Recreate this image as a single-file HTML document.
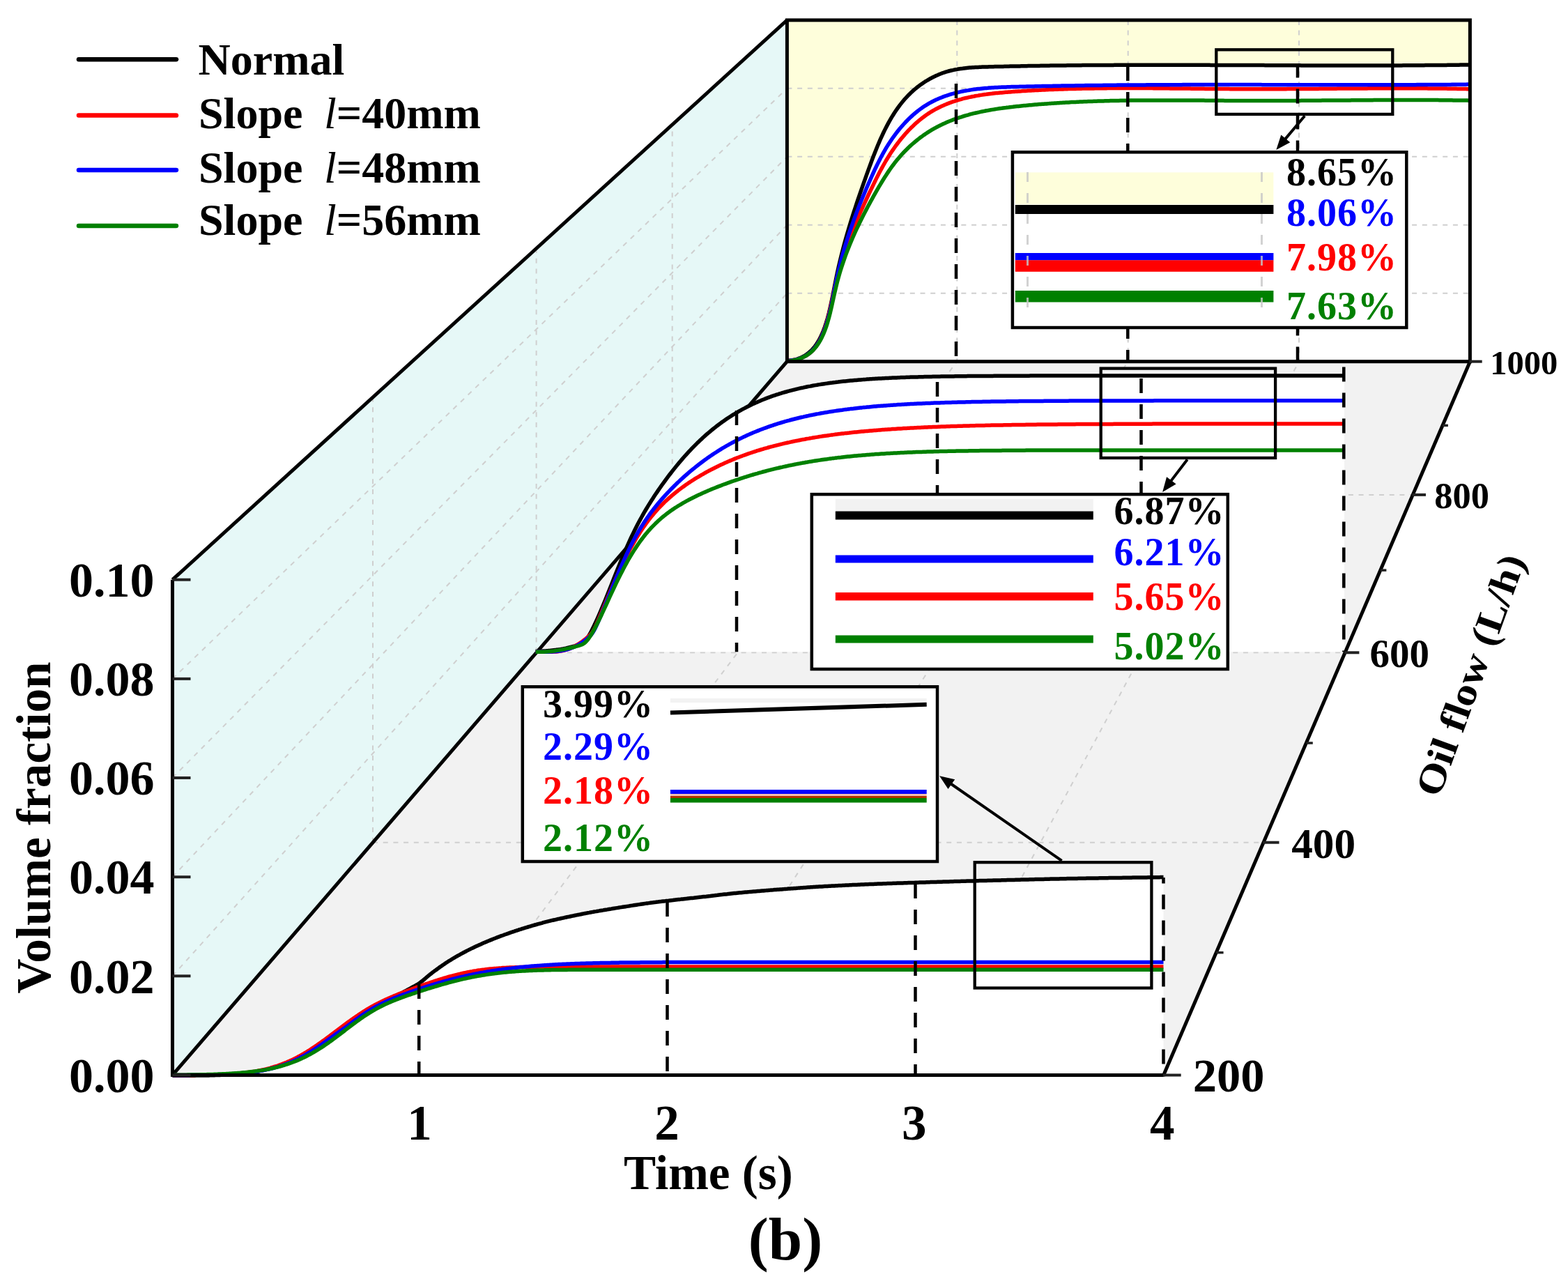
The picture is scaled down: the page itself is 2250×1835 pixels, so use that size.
<!DOCTYPE html>
<html><head><meta charset="utf-8"><title>Volume fraction vs time</title>
<style>html,body{margin:0;padding:0;background:#fff;} svg{display:block;}</style></head>
<body><svg xmlns="http://www.w3.org/2000/svg" width="2250" height="1835" viewBox="0 0 2250 1835" xml:space="preserve">
<rect x="0" y="0" width="2250" height="1835" fill="#fff"/>
<polygon points="247.5,1542.5 247.5,831.7 1129.4,28.9 1129.4,518.7" fill="#e6f8f7"/>
<polygon points="247.5,1542.5 1669.7,1542.5 2109.4,518.7 1129.4,518.7" fill="#f2f2f2"/>
<rect x="1129.4" y="28.9" width="980.0" height="489.8" fill="#fefedb"/>
<line x1="535.0" y1="1208.7" x2="535.0" y2="570.0" stroke="#cfcfcf" stroke-width="2" stroke-dasharray="7 7.7"/>
<line x1="769.6" y1="936.3" x2="769.6" y2="356.4" stroke="#cfcfcf" stroke-width="2" stroke-dasharray="7 7.7"/>
<line x1="964.7" y1="709.9" x2="964.7" y2="178.8" stroke="#cfcfcf" stroke-width="2" stroke-dasharray="7 7.7"/>
<line x1="247.5" y1="1400.3" x2="1129.4" y2="420.7" stroke="#cfcfcf" stroke-width="2" stroke-dasharray="7 7.7"/>
<line x1="247.5" y1="1258.2" x2="1129.4" y2="322.7" stroke="#cfcfcf" stroke-width="2" stroke-dasharray="7 7.7"/>
<line x1="247.5" y1="1116.0" x2="1129.4" y2="224.8" stroke="#cfcfcf" stroke-width="2" stroke-dasharray="7 7.7"/>
<line x1="247.5" y1="973.9" x2="1129.4" y2="126.8" stroke="#cfcfcf" stroke-width="2" stroke-dasharray="7 7.7"/>
<line x1="535.0" y1="1208.7" x2="1813.1" y2="1208.7" stroke="#cfcfcf" stroke-width="2" stroke-dasharray="7 7.7"/>
<line x1="769.6" y1="936.3" x2="1930.0" y2="936.3" stroke="#cfcfcf" stroke-width="2" stroke-dasharray="7 7.7"/>
<line x1="964.7" y1="709.9" x2="2027.3" y2="709.9" stroke="#cfcfcf" stroke-width="2" stroke-dasharray="7 7.7"/>
<line x1="601.4" y1="1542.5" x2="1373.3" y2="518.7" stroke="#cfcfcf" stroke-width="2" stroke-dasharray="7 7.7"/>
<line x1="957.5" y1="1542.5" x2="1618.7" y2="518.7" stroke="#cfcfcf" stroke-width="2" stroke-dasharray="7 7.7"/>
<line x1="1313.6" y1="1542.5" x2="1864.0" y2="518.7" stroke="#cfcfcf" stroke-width="2" stroke-dasharray="7 7.7"/>
<line x1="247.5" y1="831.7" x2="1129.4" y2="28.9" stroke="#000" stroke-width="5" />
<line x1="247.5" y1="1542.5" x2="1129.4" y2="518.7" stroke="#000" stroke-width="5" />
<polygon points="1129.4,518.7 1129.4,517.1 1131.4,517.1 1133.4,517.0 1135.4,516.9 1137.4,516.7 1139.4,516.3 1141.4,515.8 1143.4,515.3 1145.4,514.6 1147.4,513.8 1149.4,513.0 1151.4,512.1 1153.4,511.0 1155.4,509.8 1157.4,508.5 1159.4,507.0 1161.4,505.4 1163.4,503.6 1165.4,501.6 1167.4,499.3 1169.4,496.9 1171.4,494.1 1173.4,491.0 1175.4,487.6 1177.4,483.8 1179.4,479.5 1181.4,474.7 1183.4,469.4 1185.4,463.4 1187.4,456.7 1189.4,449.1 1191.4,440.7 1193.4,431.4 1195.4,421.5 1197.4,411.2 1199.4,401.2 1201.4,391.6 1203.4,382.6 1205.4,374.0 1207.4,365.9 1209.4,358.1 1211.4,350.5 1213.4,343.3 1215.4,336.3 1217.4,329.4 1219.4,322.8 1221.4,316.2 1223.4,309.9 1225.4,303.6 1227.4,297.5 1229.4,291.4 1231.4,285.5 1233.4,279.6 1235.4,273.8 1237.4,268.1 1239.4,262.4 1241.4,256.8 1243.4,251.2 1245.4,245.6 1247.4,240.1 1249.4,234.7 1251.4,229.3 1253.4,224.0 1255.4,218.9 1257.4,213.9 1259.4,209.0 1261.4,204.3 1263.4,199.7 1265.4,195.3 1267.4,191.0 1269.4,186.9 1271.4,182.9 1273.4,179.1 1275.4,175.4 1277.4,171.9 1279.4,168.4 1281.4,165.2 1283.4,162.0 1285.4,159.0 1287.4,156.1 1289.4,153.3 1291.4,150.6 1293.4,148.1 1295.4,145.6 1297.4,143.2 1299.4,141.0 1301.4,138.8 1303.4,136.7 1305.4,134.7 1307.4,132.8 1309.4,130.9 1311.4,129.2 1313.4,127.5 1315.4,125.8 1317.4,124.3 1319.4,122.7 1321.4,121.3 1323.4,119.9 1325.4,118.5 1327.4,117.2 1329.4,116.0 1331.4,114.8 1333.4,113.6 1335.4,112.5 1337.4,111.5 1339.4,110.4 1341.4,109.5 1343.4,108.5 1345.4,107.7 1347.4,106.8 1349.4,106.0 1351.4,105.2 1353.4,104.5 1355.4,103.8 1357.4,103.2 1359.4,102.6 1361.4,102.0 1363.4,101.5 1365.4,101.0 1367.4,100.6 1369.4,100.1 1371.4,99.7 1373.4,99.4 1375.4,99.0 1377.4,98.7 1379.4,98.4 1381.4,98.2 1383.4,97.9 1385.4,97.7 1387.4,97.5 1389.4,97.3 1391.4,97.1 1393.4,97.0 1395.4,96.8 1397.4,96.7 1399.4,96.6 1401.4,96.5 1403.4,96.4 1405.4,96.3 1407.4,96.2 1409.4,96.1 1411.4,96.1 1413.4,96.0 1415.4,96.0 1417.4,95.9 1419.4,95.8 1421.4,95.8 1423.4,95.7 1425.4,95.7 1427.4,95.6 1429.4,95.6 1431.4,95.5 1433.4,95.5 1435.4,95.5 1437.4,95.4 1439.4,95.4 1441.4,95.3 1443.4,95.3 1445.4,95.2 1447.4,95.2 1449.4,95.1 1451.4,95.1 1453.4,95.1 1455.4,95.0 1457.4,95.0 1459.4,94.9 1461.4,94.9 1463.4,94.9 1465.4,94.8 1467.4,94.8 1469.4,94.7 1471.4,94.7 1473.4,94.7 1475.4,94.6 1477.4,94.6 1479.4,94.6 1481.4,94.5 1483.4,94.5 1485.4,94.5 1487.4,94.4 1489.4,94.4 1491.4,94.4 1493.4,94.3 1495.4,94.3 1497.4,94.3 1499.4,94.3 1501.4,94.2 1503.4,94.2 1505.4,94.2 1507.4,94.1 1509.4,94.1 1511.4,94.1 1513.4,94.1 1515.4,94.0 1517.4,94.0 1519.4,94.0 1521.4,94.0 1523.4,93.9 1525.4,93.9 1527.4,93.9 1529.4,93.9 1531.4,93.8 1533.4,93.8 1535.4,93.8 1537.4,93.8 1539.4,93.8 1541.4,93.7 1543.4,93.7 1545.4,93.7 1547.4,93.7 1549.4,93.7 1551.4,93.7 1553.4,93.6 1555.4,93.6 1557.4,93.6 1559.4,93.6 1561.4,93.6 1563.4,93.6 1565.4,93.5 1567.4,93.5 1569.4,93.5 1571.4,93.5 1573.4,93.5 1575.4,93.5 1577.4,93.5 1579.4,93.4 1581.4,93.4 1583.4,93.4 1585.4,93.4 1587.4,93.4 1589.4,93.4 1591.4,93.4 1593.4,93.4 1595.4,93.4 1597.4,93.4 1599.4,93.3 1601.4,93.3 1603.4,93.3 1605.4,93.3 1607.4,93.3 1609.4,93.3 1611.4,93.3 1613.4,93.3 1615.4,93.3 1617.4,93.3 1619.4,93.3 1621.4,93.3 1623.4,93.3 1625.4,93.3 1627.4,93.3 1629.4,93.2 1631.4,93.2 1633.4,93.2 1635.4,93.2 1637.4,93.2 1639.4,93.2 1641.4,93.2 1643.4,93.2 1645.4,93.2 1647.4,93.2 1649.4,93.2 1651.4,93.2 1653.4,93.2 1655.4,93.2 1657.4,93.2 1659.4,93.2 1661.4,93.2 1663.4,93.2 1665.4,93.2 1667.4,93.2 1669.4,93.2 1671.4,93.2 1673.4,93.2 1675.4,93.2 1677.4,93.2 1679.4,93.2 1681.4,93.2 1683.4,93.2 1685.4,93.2 1687.4,93.2 1689.4,93.2 1691.4,93.2 1693.4,93.2 1695.4,93.2 1697.4,93.3 1699.4,93.3 1701.4,93.3 1703.4,93.3 1705.4,93.3 1707.4,93.3 1709.4,93.3 1711.4,93.3 1713.4,93.3 1715.4,93.3 1717.4,93.3 1719.4,93.3 1721.4,93.3 1723.4,93.3 1725.4,93.3 1727.4,93.3 1729.4,93.3 1731.4,93.3 1733.4,93.3 1735.4,93.3 1737.4,93.4 1739.4,93.4 1741.4,93.4 1743.4,93.4 1745.4,93.4 1747.4,93.4 1749.4,93.4 1751.4,93.4 1753.4,93.4 1755.4,93.4 1757.4,93.4 1759.4,93.4 1761.4,93.4 1763.4,93.4 1765.4,93.5 1767.4,93.5 1769.4,93.5 1771.4,93.5 1773.4,93.5 1775.4,93.5 1777.4,93.5 1779.4,93.5 1781.4,93.5 1783.4,93.5 1785.4,93.5 1787.4,93.5 1789.4,93.5 1791.4,93.6 1793.4,93.6 1795.4,93.6 1797.4,93.6 1799.4,93.6 1801.4,93.6 1803.4,93.6 1805.4,93.6 1807.4,93.6 1809.4,93.6 1811.4,93.6 1813.4,93.6 1815.4,93.7 1817.4,93.7 1819.4,93.7 1821.4,93.7 1823.4,93.7 1825.4,93.7 1827.4,93.7 1829.4,93.7 1831.4,93.7 1833.4,93.7 1835.4,93.7 1837.4,93.7 1839.4,93.8 1841.4,93.8 1843.4,93.8 1845.4,93.8 1847.4,93.8 1849.4,93.8 1851.4,93.8 1853.4,93.8 1855.4,93.8 1857.4,93.8 1859.4,93.8 1861.4,93.8 1863.4,93.8 1865.4,93.8 1867.4,93.9 1869.4,93.9 1871.4,93.9 1873.4,93.9 1875.4,93.9 1877.4,93.9 1879.4,93.9 1881.4,93.9 1883.4,93.9 1885.4,93.9 1887.4,93.9 1889.4,93.9 1891.4,93.9 1893.4,93.9 1895.4,93.9 1897.4,93.9 1899.4,93.9 1901.4,93.9 1903.4,93.9 1905.4,94.0 1907.4,94.0 1909.4,94.0 1911.4,94.0 1913.4,94.0 1915.4,94.0 1917.4,94.0 1919.4,94.0 1921.4,94.0 1923.4,94.0 1925.4,94.0 1927.4,94.0 1929.4,94.0 1931.4,94.0 1933.4,94.0 1935.4,94.0 1937.4,94.0 1939.4,94.0 1941.4,94.0 1943.4,94.0 1945.4,94.0 1947.4,94.0 1949.4,94.0 1951.4,94.0 1953.4,94.0 1955.4,94.0 1957.4,94.0 1959.4,94.0 1961.4,94.0 1963.4,94.0 1965.4,94.0 1967.4,94.0 1969.4,94.0 1971.4,94.0 1973.4,94.0 1975.4,94.0 1977.4,94.0 1979.4,94.0 1981.4,94.0 1983.4,94.0 1985.4,93.9 1987.4,93.9 1989.4,93.9 1991.4,93.9 1993.4,93.9 1995.4,93.9 1997.4,93.9 1999.4,93.9 2001.4,93.9 2003.4,93.9 2005.4,93.9 2007.4,93.9 2009.4,93.9 2011.4,93.9 2013.4,93.8 2015.4,93.8 2017.4,93.8 2019.4,93.8 2021.4,93.8 2023.4,93.8 2025.4,93.8 2027.4,93.8 2029.4,93.8 2031.4,93.7 2033.4,93.7 2035.4,93.7 2037.4,93.7 2039.4,93.7 2041.4,93.7 2043.4,93.7 2045.4,93.6 2047.4,93.6 2049.4,93.6 2051.4,93.6 2053.4,93.6 2055.4,93.6 2057.4,93.5 2059.4,93.5 2061.4,93.5 2063.4,93.5 2065.4,93.5 2067.4,93.5 2069.4,93.4 2071.4,93.4 2073.4,93.4 2075.4,93.4 2077.4,93.3 2079.4,93.3 2081.4,93.3 2083.4,93.3 2085.4,93.3 2087.4,93.2 2089.4,93.2 2091.4,93.2 2093.4,93.2 2095.4,93.1 2097.4,93.1 2099.4,93.1 2101.4,93.0 2103.4,93.0 2105.4,93.0 2107.4,93.0 2109.4,92.9 2109.4,92.9 2109.4,518.7" fill="#fff"/>
<line x1="1129.4" y1="420.7" x2="2109.4" y2="420.7" stroke="#cfcfcf" stroke-width="2" stroke-dasharray="7 7.7"/>
<line x1="1129.4" y1="322.7" x2="2109.4" y2="322.7" stroke="#cfcfcf" stroke-width="2" stroke-dasharray="7 7.7"/>
<line x1="1129.4" y1="224.8" x2="2109.4" y2="224.8" stroke="#cfcfcf" stroke-width="2" stroke-dasharray="7 7.7"/>
<line x1="1129.4" y1="126.8" x2="2109.4" y2="126.8" stroke="#cfcfcf" stroke-width="2" stroke-dasharray="7 7.7"/>
<line x1="1373.3" y1="28.9" x2="1373.3" y2="518.7" stroke="#cfcfcf" stroke-width="2" stroke-dasharray="7 7.7"/>
<line x1="1618.7" y1="28.9" x2="1618.7" y2="518.7" stroke="#cfcfcf" stroke-width="2" stroke-dasharray="7 7.7"/>
<line x1="1864.0" y1="28.9" x2="1864.0" y2="518.7" stroke="#cfcfcf" stroke-width="2" stroke-dasharray="7 7.7"/>
<polyline points="1129.4,517.8 1131.4,517.6 1133.4,517.4 1135.4,517.1 1137.4,516.7 1139.4,516.3 1141.4,515.8 1143.4,515.3 1145.4,514.6 1147.4,513.8 1149.4,513.0 1151.4,512.1 1153.4,511.0 1155.4,509.8 1157.4,508.5 1159.4,507.0 1161.4,505.4 1163.4,503.6 1165.4,501.6 1167.4,499.3 1169.4,496.9 1171.4,494.1 1173.4,491.0 1175.4,487.6 1177.4,483.8 1179.4,479.5 1181.4,474.7 1183.4,469.4 1185.4,463.4 1187.4,456.7 1189.4,449.1 1191.4,440.7 1193.4,431.4 1195.4,421.5 1197.4,411.2 1199.4,401.2 1201.4,391.6 1203.4,382.6 1205.4,374.0 1207.4,365.9 1209.4,358.1 1211.4,350.5 1213.4,343.3 1215.4,336.3 1217.4,329.4 1219.4,322.8 1221.4,316.2 1223.4,309.9 1225.4,303.6 1227.4,297.5 1229.4,291.4 1231.4,285.5 1233.4,279.6 1235.4,273.8 1237.4,268.1 1239.4,262.4 1241.4,256.8 1243.4,251.2 1245.4,245.6 1247.4,240.1 1249.4,234.7 1251.4,229.3 1253.4,224.0 1255.4,218.9 1257.4,213.9 1259.4,209.0 1261.4,204.3 1263.4,199.7 1265.4,195.3 1267.4,191.0 1269.4,186.9 1271.4,182.9 1273.4,179.1 1275.4,175.4 1277.4,171.9 1279.4,168.4 1281.4,165.2 1283.4,162.0 1285.4,159.0 1287.4,156.1 1289.4,153.3 1291.4,150.6 1293.4,148.1 1295.4,145.6 1297.4,143.2 1299.4,141.0 1301.4,138.8 1303.4,136.7 1305.4,134.7 1307.4,132.8 1309.4,130.9 1311.4,129.2 1313.4,127.5 1315.4,125.8 1317.4,124.3 1319.4,122.7 1321.4,121.3 1323.4,119.9 1325.4,118.5 1327.4,117.2 1329.4,116.0 1331.4,114.8 1333.4,113.6 1335.4,112.5 1337.4,111.5 1339.4,110.4 1341.4,109.5 1343.4,108.5 1345.4,107.7 1347.4,106.8 1349.4,106.0 1351.4,105.2 1353.4,104.5 1355.4,103.8 1357.4,103.2 1359.4,102.6 1361.4,102.0 1363.4,101.5 1365.4,101.0 1367.4,100.6 1369.4,100.1 1371.4,99.7 1373.4,99.4 1375.4,99.0 1377.4,98.7 1379.4,98.4 1381.4,98.2 1383.4,97.9 1385.4,97.7 1387.4,97.5 1389.4,97.3 1391.4,97.1 1393.4,97.0 1395.4,96.8 1397.4,96.7 1399.4,96.6 1401.4,96.5 1403.4,96.4 1405.4,96.3 1407.4,96.2 1409.4,96.1 1411.4,96.1 1413.4,96.0 1415.4,96.0 1417.4,95.9 1419.4,95.8 1421.4,95.8 1423.4,95.7 1425.4,95.7 1427.4,95.6 1429.4,95.6 1431.4,95.5 1433.4,95.5 1435.4,95.5 1437.4,95.4 1439.4,95.4 1441.4,95.3 1443.4,95.3 1445.4,95.2 1447.4,95.2 1449.4,95.1 1451.4,95.1 1453.4,95.1 1455.4,95.0 1457.4,95.0 1459.4,94.9 1461.4,94.9 1463.4,94.9 1465.4,94.8 1467.4,94.8 1469.4,94.7 1471.4,94.7 1473.4,94.7 1475.4,94.6 1477.4,94.6 1479.4,94.6 1481.4,94.5 1483.4,94.5 1485.4,94.5 1487.4,94.4 1489.4,94.4 1491.4,94.4 1493.4,94.3 1495.4,94.3 1497.4,94.3 1499.4,94.3 1501.4,94.2 1503.4,94.2 1505.4,94.2 1507.4,94.1 1509.4,94.1 1511.4,94.1 1513.4,94.1 1515.4,94.0 1517.4,94.0 1519.4,94.0 1521.4,94.0 1523.4,93.9 1525.4,93.9 1527.4,93.9 1529.4,93.9 1531.4,93.8 1533.4,93.8 1535.4,93.8 1537.4,93.8 1539.4,93.8 1541.4,93.7 1543.4,93.7 1545.4,93.7 1547.4,93.7 1549.4,93.7 1551.4,93.7 1553.4,93.6 1555.4,93.6 1557.4,93.6 1559.4,93.6 1561.4,93.6 1563.4,93.6 1565.4,93.5 1567.4,93.5 1569.4,93.5 1571.4,93.5 1573.4,93.5 1575.4,93.5 1577.4,93.5 1579.4,93.4 1581.4,93.4 1583.4,93.4 1585.4,93.4 1587.4,93.4 1589.4,93.4 1591.4,93.4 1593.4,93.4 1595.4,93.4 1597.4,93.4 1599.4,93.3 1601.4,93.3 1603.4,93.3 1605.4,93.3 1607.4,93.3 1609.4,93.3 1611.4,93.3 1613.4,93.3 1615.4,93.3 1617.4,93.3 1619.4,93.3 1621.4,93.3 1623.4,93.3 1625.4,93.3 1627.4,93.3 1629.4,93.2 1631.4,93.2 1633.4,93.2 1635.4,93.2 1637.4,93.2 1639.4,93.2 1641.4,93.2 1643.4,93.2 1645.4,93.2 1647.4,93.2 1649.4,93.2 1651.4,93.2 1653.4,93.2 1655.4,93.2 1657.4,93.2 1659.4,93.2 1661.4,93.2 1663.4,93.2 1665.4,93.2 1667.4,93.2 1669.4,93.2 1671.4,93.2 1673.4,93.2 1675.4,93.2 1677.4,93.2 1679.4,93.2 1681.4,93.2 1683.4,93.2 1685.4,93.2 1687.4,93.2 1689.4,93.2 1691.4,93.2 1693.4,93.2 1695.4,93.2 1697.4,93.3 1699.4,93.3 1701.4,93.3 1703.4,93.3 1705.4,93.3 1707.4,93.3 1709.4,93.3 1711.4,93.3 1713.4,93.3 1715.4,93.3 1717.4,93.3 1719.4,93.3 1721.4,93.3 1723.4,93.3 1725.4,93.3 1727.4,93.3 1729.4,93.3 1731.4,93.3 1733.4,93.3 1735.4,93.3 1737.4,93.4 1739.4,93.4 1741.4,93.4 1743.4,93.4 1745.4,93.4 1747.4,93.4 1749.4,93.4 1751.4,93.4 1753.4,93.4 1755.4,93.4 1757.4,93.4 1759.4,93.4 1761.4,93.4 1763.4,93.4 1765.4,93.5 1767.4,93.5 1769.4,93.5 1771.4,93.5 1773.4,93.5 1775.4,93.5 1777.4,93.5 1779.4,93.5 1781.4,93.5 1783.4,93.5 1785.4,93.5 1787.4,93.5 1789.4,93.5 1791.4,93.6 1793.4,93.6 1795.4,93.6 1797.4,93.6 1799.4,93.6 1801.4,93.6 1803.4,93.6 1805.4,93.6 1807.4,93.6 1809.4,93.6 1811.4,93.6 1813.4,93.6 1815.4,93.7 1817.4,93.7 1819.4,93.7 1821.4,93.7 1823.4,93.7 1825.4,93.7 1827.4,93.7 1829.4,93.7 1831.4,93.7 1833.4,93.7 1835.4,93.7 1837.4,93.7 1839.4,93.8 1841.4,93.8 1843.4,93.8 1845.4,93.8 1847.4,93.8 1849.4,93.8 1851.4,93.8 1853.4,93.8 1855.4,93.8 1857.4,93.8 1859.4,93.8 1861.4,93.8 1863.4,93.8 1865.4,93.8 1867.4,93.9 1869.4,93.9 1871.4,93.9 1873.4,93.9 1875.4,93.9 1877.4,93.9 1879.4,93.9 1881.4,93.9 1883.4,93.9 1885.4,93.9 1887.4,93.9 1889.4,93.9 1891.4,93.9 1893.4,93.9 1895.4,93.9 1897.4,93.9 1899.4,93.9 1901.4,93.9 1903.4,93.9 1905.4,94.0 1907.4,94.0 1909.4,94.0 1911.4,94.0 1913.4,94.0 1915.4,94.0 1917.4,94.0 1919.4,94.0 1921.4,94.0 1923.4,94.0 1925.4,94.0 1927.4,94.0 1929.4,94.0 1931.4,94.0 1933.4,94.0 1935.4,94.0 1937.4,94.0 1939.4,94.0 1941.4,94.0 1943.4,94.0 1945.4,94.0 1947.4,94.0 1949.4,94.0 1951.4,94.0 1953.4,94.0 1955.4,94.0 1957.4,94.0 1959.4,94.0 1961.4,94.0 1963.4,94.0 1965.4,94.0 1967.4,94.0 1969.4,94.0 1971.4,94.0 1973.4,94.0 1975.4,94.0 1977.4,94.0 1979.4,94.0 1981.4,94.0 1983.4,94.0 1985.4,93.9 1987.4,93.9 1989.4,93.9 1991.4,93.9 1993.4,93.9 1995.4,93.9 1997.4,93.9 1999.4,93.9 2001.4,93.9 2003.4,93.9 2005.4,93.9 2007.4,93.9 2009.4,93.9 2011.4,93.9 2013.4,93.8 2015.4,93.8 2017.4,93.8 2019.4,93.8 2021.4,93.8 2023.4,93.8 2025.4,93.8 2027.4,93.8 2029.4,93.8 2031.4,93.7 2033.4,93.7 2035.4,93.7 2037.4,93.7 2039.4,93.7 2041.4,93.7 2043.4,93.7 2045.4,93.6 2047.4,93.6 2049.4,93.6 2051.4,93.6 2053.4,93.6 2055.4,93.6 2057.4,93.5 2059.4,93.5 2061.4,93.5 2063.4,93.5 2065.4,93.5 2067.4,93.5 2069.4,93.4 2071.4,93.4 2073.4,93.4 2075.4,93.4 2077.4,93.3 2079.4,93.3 2081.4,93.3 2083.4,93.3 2085.4,93.3 2087.4,93.2 2089.4,93.2 2091.4,93.2 2093.4,93.2 2095.4,93.1 2097.4,93.1 2099.4,93.1 2101.4,93.0 2103.4,93.0 2105.4,93.0 2107.4,93.0 2109.4,92.9 2109.4,92.9" fill="none" stroke="#000" stroke-width="5.5" stroke-linejoin="round" stroke-linecap="butt"/>
<polyline points="1129.4,517.1 1131.4,517.1 1133.4,517.0 1135.4,516.9 1137.4,516.7 1139.4,516.4 1141.4,516.1 1143.4,515.7 1145.4,515.2 1147.4,514.6 1149.4,513.9 1151.4,513.1 1153.4,512.1 1155.4,511.1 1157.4,509.9 1159.4,508.6 1161.4,507.1 1163.4,505.4 1165.4,503.5 1167.4,501.4 1169.4,499.0 1171.4,496.3 1173.4,493.3 1175.4,489.9 1177.4,486.1 1179.4,481.9 1181.4,477.0 1183.4,471.6 1185.4,465.6 1187.4,458.8 1189.4,451.2 1191.4,442.9 1193.4,433.9 1195.4,424.5 1197.4,415.0 1199.4,406.0 1201.4,397.5 1203.4,389.7 1205.4,382.5 1207.4,375.7 1209.4,369.3 1211.4,363.2 1213.4,357.4 1215.4,351.8 1217.4,346.3 1219.4,341.1 1221.4,335.9 1223.4,330.9 1225.4,326.0 1227.4,321.3 1229.4,316.6 1231.4,311.9 1233.4,307.4 1235.4,302.9 1237.4,298.5 1239.4,294.1 1241.4,289.8 1243.4,285.5 1245.4,281.3 1247.4,277.0 1249.4,272.9 1251.4,268.7 1253.4,264.6 1255.4,260.5 1257.4,256.4 1259.4,252.5 1261.4,248.6 1263.4,244.8 1265.4,241.1 1267.4,237.5 1269.4,234.0 1271.4,230.5 1273.4,227.2 1275.4,224.0 1277.4,220.8 1279.4,217.8 1281.4,214.9 1283.4,212.0 1285.4,209.2 1287.4,206.5 1289.4,203.9 1291.4,201.3 1293.4,198.8 1295.4,196.4 1297.4,194.1 1299.4,191.8 1301.4,189.6 1303.4,187.4 1305.4,185.4 1307.4,183.3 1309.4,181.4 1311.4,179.5 1313.4,177.6 1315.4,175.8 1317.4,174.1 1319.4,172.4 1321.4,170.8 1323.4,169.2 1325.4,167.7 1327.4,166.2 1329.4,164.8 1331.4,163.4 1333.4,162.1 1335.4,160.8 1337.4,159.6 1339.4,158.5 1341.4,157.3 1343.4,156.2 1345.4,155.2 1347.4,154.2 1349.4,153.2 1351.4,152.3 1353.4,151.4 1355.4,150.5 1357.4,149.7 1359.4,148.9 1361.4,148.1 1363.4,147.3 1365.4,146.6 1367.4,145.9 1369.4,145.3 1371.4,144.6 1373.4,144.0 1375.4,143.4 1377.4,142.8 1379.4,142.3 1381.4,141.7 1383.4,141.2 1385.4,140.7 1387.4,140.3 1389.4,139.8 1391.4,139.4 1393.4,139.0 1395.4,138.5 1397.4,138.2 1399.4,137.8 1401.4,137.4 1403.4,137.1 1405.4,136.7 1407.4,136.4 1409.4,136.1 1411.4,135.8 1413.4,135.5 1415.4,135.3 1417.4,135.0 1419.4,134.7 1421.4,134.5 1423.4,134.3 1425.4,134.0 1427.4,133.8 1429.4,133.6 1431.4,133.4 1433.4,133.2 1435.4,133.0 1437.4,132.9 1439.4,132.7 1441.4,132.5 1443.4,132.3 1445.4,132.2 1447.4,132.0 1449.4,131.9 1451.4,131.7 1453.4,131.6 1455.4,131.4 1457.4,131.3 1459.4,131.2 1461.4,131.0 1463.4,130.9 1465.4,130.8 1467.4,130.6 1469.4,130.5 1471.4,130.4 1473.4,130.3 1475.4,130.1 1477.4,130.0 1479.4,129.9 1481.4,129.8 1483.4,129.7 1485.4,129.6 1487.4,129.5 1489.4,129.4 1491.4,129.3 1493.4,129.2 1495.4,129.1 1497.4,129.0 1499.4,128.9 1501.4,128.8 1503.4,128.7 1505.4,128.6 1507.4,128.5 1509.4,128.5 1511.4,128.4 1513.4,128.3 1515.4,128.2 1517.4,128.2 1519.4,128.1 1521.4,128.0 1523.4,127.9 1525.4,127.9 1527.4,127.8 1529.4,127.8 1531.4,127.7 1533.4,127.6 1535.4,127.6 1537.4,127.5 1539.4,127.5 1541.4,127.4 1543.4,127.4 1545.4,127.3 1547.4,127.3 1549.4,127.2 1551.4,127.2 1553.4,127.1 1555.4,127.1 1557.4,127.1 1559.4,127.0 1561.4,127.0 1563.4,127.0 1565.4,126.9 1567.4,126.9 1569.4,126.9 1571.4,126.8 1573.4,126.8 1575.4,126.8 1577.4,126.8 1579.4,126.7 1581.4,126.7 1583.4,126.7 1585.4,126.7 1587.4,126.7 1589.4,126.6 1591.4,126.6 1593.4,126.6 1595.4,126.6 1597.4,126.6 1599.4,126.6 1601.4,126.6 1603.4,126.6 1605.4,126.5 1607.4,126.5 1609.4,126.5 1611.4,126.5 1613.4,126.5 1615.4,126.5 1617.4,126.5 1619.4,126.5 1621.4,126.5 1623.4,126.5 1625.4,126.5 1627.4,126.5 1629.4,126.5 1631.4,126.5 1633.4,126.5 1635.4,126.6 1637.4,126.6 1639.4,126.6 1641.4,126.6 1643.4,126.6 1645.4,126.6 1647.4,126.6 1649.4,126.6 1651.4,126.6 1653.4,126.6 1655.4,126.7 1657.4,126.7 1659.4,126.7 1661.4,126.7 1663.4,126.7 1665.4,126.7 1667.4,126.7 1669.4,126.8 1671.4,126.8 1673.4,126.8 1675.4,126.8 1677.4,126.8 1679.4,126.9 1681.4,126.9 1683.4,126.9 1685.4,126.9 1687.4,126.9 1689.4,126.9 1691.4,127.0 1693.4,127.0 1695.4,127.0 1697.4,127.0 1699.4,127.0 1701.4,127.1 1703.4,127.1 1705.4,127.1 1707.4,127.1 1709.4,127.2 1711.4,127.2 1713.4,127.2 1715.4,127.2 1717.4,127.2 1719.4,127.3 1721.4,127.3 1723.4,127.3 1725.4,127.3 1727.4,127.3 1729.4,127.4 1731.4,127.4 1733.4,127.4 1735.4,127.4 1737.4,127.4 1739.4,127.4 1741.4,127.5 1743.4,127.5 1745.4,127.5 1747.4,127.5 1749.4,127.5 1751.4,127.6 1753.4,127.6 1755.4,127.6 1757.4,127.6 1759.4,127.6 1761.4,127.6 1763.4,127.6 1765.4,127.7 1767.4,127.7 1769.4,127.7 1771.4,127.7 1773.4,127.7 1775.4,127.7 1777.4,127.7 1779.4,127.7 1781.4,127.7 1783.4,127.7 1785.4,127.7 1787.4,127.8 1789.4,127.8 1791.4,127.8 1793.4,127.8 1795.4,127.8 1797.4,127.8 1799.4,127.8 1801.4,127.8 1803.4,127.8 1805.4,127.8 1807.4,127.8 1809.4,127.8 1811.4,127.8 1813.4,127.8 1815.4,127.8 1817.4,127.8 1819.4,127.8 1821.4,127.8 1823.4,127.7 1825.4,127.7 1827.4,127.7 1829.4,127.7 1831.4,127.7 1833.4,127.7 1835.4,127.7 1837.4,127.7 1839.4,127.7 1841.4,127.7 1843.4,127.7 1845.4,127.7 1847.4,127.6 1849.4,127.6 1851.4,127.6 1853.4,127.6 1855.4,127.6 1857.4,127.6 1859.4,127.6 1861.4,127.6 1863.4,127.6 1865.4,127.5 1867.4,127.5 1869.4,127.5 1871.4,127.5 1873.4,127.5 1875.4,127.5 1877.4,127.5 1879.4,127.4 1881.4,127.4 1883.4,127.4 1885.4,127.4 1887.4,127.4 1889.4,127.4 1891.4,127.4 1893.4,127.3 1895.4,127.3 1897.4,127.3 1899.4,127.3 1901.4,127.3 1903.4,127.3 1905.4,127.2 1907.4,127.2 1909.4,127.2 1911.4,127.2 1913.4,127.2 1915.4,127.2 1917.4,127.2 1919.4,127.1 1921.4,127.1 1923.4,127.1 1925.4,127.1 1927.4,127.1 1929.4,127.1 1931.4,127.0 1933.4,127.0 1935.4,127.0 1937.4,127.0 1939.4,127.0 1941.4,127.0 1943.4,127.0 1945.4,126.9 1947.4,126.9 1949.4,126.9 1951.4,126.9 1953.4,126.9 1955.4,126.9 1957.4,126.9 1959.4,126.9 1961.4,126.9 1963.4,126.8 1965.4,126.8 1967.4,126.8 1969.4,126.8 1971.4,126.8 1973.4,126.8 1975.4,126.8 1977.4,126.8 1979.4,126.8 1981.4,126.8 1983.4,126.8 1985.4,126.7 1987.4,126.7 1989.4,126.7 1991.4,126.7 1993.4,126.7 1995.4,126.7 1997.4,126.7 1999.4,126.7 2001.4,126.7 2003.4,126.7 2005.4,126.7 2007.4,126.7 2009.4,126.7 2011.4,126.7 2013.4,126.7 2015.4,126.7 2017.4,126.7 2019.4,126.7 2021.4,126.7 2023.4,126.7 2025.4,126.7 2027.4,126.7 2029.4,126.7 2031.4,126.8 2033.4,126.8 2035.4,126.8 2037.4,126.8 2039.4,126.8 2041.4,126.8 2043.4,126.8 2045.4,126.8 2047.4,126.8 2049.4,126.9 2051.4,126.9 2053.4,126.9 2055.4,126.9 2057.4,126.9 2059.4,126.9 2061.4,127.0 2063.4,127.0 2065.4,127.0 2067.4,127.0 2069.4,127.1 2071.4,127.1 2073.4,127.1 2075.4,127.1 2077.4,127.2 2079.4,127.2 2081.4,127.2 2083.4,127.2 2085.4,127.3 2087.4,127.3 2089.4,127.3 2091.4,127.4 2093.4,127.4 2095.4,127.5 2097.4,127.5 2099.4,127.5 2101.4,127.6 2103.4,127.6 2105.4,127.7 2107.4,127.7 2109.4,127.7 2109.4,127.7" fill="none" stroke="#ff0000" stroke-width="5.5" stroke-linejoin="round" stroke-linecap="butt"/>
<polyline points="1129.4,517.4 1131.4,517.4 1133.4,517.2 1135.4,517.1 1137.4,516.8 1139.4,516.5 1141.4,516.1 1143.4,515.6 1145.4,515.1 1147.4,514.5 1149.4,513.7 1151.4,512.9 1153.4,511.9 1155.4,510.9 1157.4,509.7 1159.4,508.3 1161.4,506.8 1163.4,505.2 1165.4,503.3 1167.4,501.2 1169.4,498.9 1171.4,496.3 1173.4,493.4 1175.4,490.2 1177.4,486.5 1179.4,482.4 1181.4,477.8 1183.4,472.7 1185.4,466.9 1187.4,460.4 1189.4,453.1 1191.4,445.0 1193.4,436.0 1195.4,426.2 1197.4,416.1 1199.4,406.1 1201.4,396.7 1203.4,387.8 1205.4,379.6 1207.4,371.8 1209.4,364.5 1211.4,357.5 1213.4,350.8 1215.4,344.3 1217.4,338.1 1219.4,332.1 1221.4,326.3 1223.4,320.6 1225.4,315.1 1227.4,309.7 1229.4,304.4 1231.4,299.2 1233.4,294.1 1235.4,289.2 1237.4,284.3 1239.4,279.5 1241.4,274.7 1243.4,270.0 1245.4,265.4 1247.4,260.9 1249.4,256.3 1251.4,251.9 1253.4,247.5 1255.4,243.2 1257.4,239.0 1259.4,234.9 1261.4,230.9 1263.4,227.0 1265.4,223.3 1267.4,219.6 1269.4,216.1 1271.4,212.7 1273.4,209.4 1275.4,206.2 1277.4,203.2 1279.4,200.2 1281.4,197.3 1283.4,194.6 1285.4,191.9 1287.4,189.3 1289.4,186.8 1291.4,184.3 1293.4,182.0 1295.4,179.7 1297.4,177.5 1299.4,175.3 1301.4,173.3 1303.4,171.2 1305.4,169.3 1307.4,167.4 1309.4,165.6 1311.4,163.8 1313.4,162.1 1315.4,160.5 1317.4,158.9 1319.4,157.4 1321.4,155.9 1323.4,154.5 1325.4,153.1 1327.4,151.8 1329.4,150.6 1331.4,149.4 1333.4,148.2 1335.4,147.1 1337.4,146.0 1339.4,145.0 1341.4,144.0 1343.4,143.1 1345.4,142.2 1347.4,141.3 1349.4,140.5 1351.4,139.7 1353.4,138.9 1355.4,138.2 1357.4,137.5 1359.4,136.8 1361.4,136.2 1363.4,135.5 1365.4,134.9 1367.4,134.4 1369.4,133.8 1371.4,133.3 1373.4,132.8 1375.4,132.3 1377.4,131.9 1379.4,131.4 1381.4,131.0 1383.4,130.6 1385.4,130.3 1387.4,129.9 1389.4,129.6 1391.4,129.2 1393.4,128.9 1395.4,128.6 1397.4,128.3 1399.4,128.1 1401.4,127.8 1403.4,127.6 1405.4,127.4 1407.4,127.2 1409.4,127.0 1411.4,126.8 1413.4,126.6 1415.4,126.4 1417.4,126.3 1419.4,126.1 1421.4,126.0 1423.4,125.8 1425.4,125.7 1427.4,125.6 1429.4,125.5 1431.4,125.4 1433.4,125.3 1435.4,125.2 1437.4,125.1 1439.4,125.0 1441.4,125.0 1443.4,124.9 1445.4,124.8 1447.4,124.8 1449.4,124.7 1451.4,124.6 1453.4,124.6 1455.4,124.5 1457.4,124.5 1459.4,124.4 1461.4,124.4 1463.4,124.3 1465.4,124.3 1467.4,124.2 1469.4,124.2 1471.4,124.2 1473.4,124.1 1475.4,124.1 1477.4,124.0 1479.4,124.0 1481.4,123.9 1483.4,123.9 1485.4,123.8 1487.4,123.8 1489.4,123.8 1491.4,123.7 1493.4,123.7 1495.4,123.6 1497.4,123.6 1499.4,123.6 1501.4,123.5 1503.4,123.5 1505.4,123.5 1507.4,123.4 1509.4,123.4 1511.4,123.3 1513.4,123.3 1515.4,123.3 1517.4,123.2 1519.4,123.2 1521.4,123.2 1523.4,123.1 1525.4,123.1 1527.4,123.1 1529.4,123.0 1531.4,123.0 1533.4,123.0 1535.4,122.9 1537.4,122.9 1539.4,122.9 1541.4,122.9 1543.4,122.8 1545.4,122.8 1547.4,122.8 1549.4,122.7 1551.4,122.7 1553.4,122.7 1555.4,122.7 1557.4,122.6 1559.4,122.6 1561.4,122.6 1563.4,122.6 1565.4,122.5 1567.4,122.5 1569.4,122.5 1571.4,122.5 1573.4,122.4 1575.4,122.4 1577.4,122.4 1579.4,122.4 1581.4,122.4 1583.4,122.3 1585.4,122.3 1587.4,122.3 1589.4,122.3 1591.4,122.3 1593.4,122.2 1595.4,122.2 1597.4,122.2 1599.4,122.2 1601.4,122.2 1603.4,122.1 1605.4,122.1 1607.4,122.1 1609.4,122.1 1611.4,122.1 1613.4,122.1 1615.4,122.0 1617.4,122.0 1619.4,122.0 1621.4,122.0 1623.4,122.0 1625.4,122.0 1627.4,122.0 1629.4,121.9 1631.4,121.9 1633.4,121.9 1635.4,121.9 1637.4,121.9 1639.4,121.9 1641.4,121.9 1643.4,121.9 1645.4,121.8 1647.4,121.8 1649.4,121.8 1651.4,121.8 1653.4,121.8 1655.4,121.8 1657.4,121.8 1659.4,121.8 1661.4,121.8 1663.4,121.8 1665.4,121.8 1667.4,121.7 1669.4,121.7 1671.4,121.7 1673.4,121.7 1675.4,121.7 1677.4,121.7 1679.4,121.7 1681.4,121.7 1683.4,121.7 1685.4,121.7 1687.4,121.7 1689.4,121.7 1691.4,121.7 1693.4,121.7 1695.4,121.7 1697.4,121.6 1699.4,121.6 1701.4,121.6 1703.4,121.6 1705.4,121.6 1707.4,121.6 1709.4,121.6 1711.4,121.6 1713.4,121.6 1715.4,121.6 1717.4,121.6 1719.4,121.6 1721.4,121.6 1723.4,121.6 1725.4,121.6 1727.4,121.6 1729.4,121.6 1731.4,121.6 1733.4,121.6 1735.4,121.6 1737.4,121.6 1739.4,121.6 1741.4,121.6 1743.4,121.6 1745.4,121.6 1747.4,121.6 1749.4,121.6 1751.4,121.6 1753.4,121.6 1755.4,121.6 1757.4,121.6 1759.4,121.6 1761.4,121.6 1763.4,121.6 1765.4,121.6 1767.4,121.6 1769.4,121.6 1771.4,121.6 1773.4,121.6 1775.4,121.6 1777.4,121.6 1779.4,121.6 1781.4,121.6 1783.4,121.6 1785.4,121.6 1787.4,121.6 1789.4,121.6 1791.4,121.6 1793.4,121.6 1795.4,121.6 1797.4,121.6 1799.4,121.6 1801.4,121.6 1803.4,121.6 1805.4,121.6 1807.4,121.6 1809.4,121.6 1811.4,121.7 1813.4,121.7 1815.4,121.7 1817.4,121.7 1819.4,121.7 1821.4,121.7 1823.4,121.7 1825.4,121.7 1827.4,121.7 1829.4,121.7 1831.4,121.7 1833.4,121.7 1835.4,121.7 1837.4,121.7 1839.4,121.7 1841.4,121.7 1843.4,121.7 1845.4,121.7 1847.4,121.7 1849.4,121.7 1851.4,121.7 1853.4,121.7 1855.4,121.7 1857.4,121.7 1859.4,121.7 1861.4,121.7 1863.4,121.7 1865.4,121.7 1867.4,121.7 1869.4,121.7 1871.4,121.7 1873.4,121.8 1875.4,121.8 1877.4,121.8 1879.4,121.8 1881.4,121.8 1883.4,121.8 1885.4,121.8 1887.4,121.8 1889.4,121.8 1891.4,121.8 1893.4,121.8 1895.4,121.8 1897.4,121.8 1899.4,121.8 1901.4,121.8 1903.4,121.8 1905.4,121.8 1907.4,121.8 1909.4,121.8 1911.4,121.8 1913.4,121.8 1915.4,121.8 1917.4,121.8 1919.4,121.8 1921.4,121.8 1923.4,121.8 1925.4,121.8 1927.4,121.8 1929.4,121.8 1931.4,121.8 1933.4,121.8 1935.4,121.8 1937.4,121.8 1939.4,121.8 1941.4,121.8 1943.4,121.8 1945.4,121.8 1947.4,121.8 1949.4,121.8 1951.4,121.8 1953.4,121.8 1955.4,121.8 1957.4,121.8 1959.4,121.8 1961.4,121.8 1963.4,121.8 1965.4,121.8 1967.4,121.8 1969.4,121.8 1971.4,121.8 1973.4,121.8 1975.4,121.8 1977.4,121.8 1979.4,121.8 1981.4,121.8 1983.4,121.8 1985.4,121.8 1987.4,121.8 1989.4,121.8 1991.4,121.8 1993.4,121.8 1995.4,121.8 1997.4,121.8 1999.4,121.8 2001.4,121.8 2003.4,121.8 2005.4,121.7 2007.4,121.7 2009.4,121.7 2011.4,121.7 2013.4,121.7 2015.4,121.7 2017.4,121.7 2019.4,121.7 2021.4,121.7 2023.4,121.7 2025.4,121.7 2027.4,121.7 2029.4,121.7 2031.4,121.7 2033.4,121.6 2035.4,121.6 2037.4,121.6 2039.4,121.6 2041.4,121.6 2043.4,121.6 2045.4,121.6 2047.4,121.6 2049.4,121.6 2051.4,121.6 2053.4,121.5 2055.4,121.5 2057.4,121.5 2059.4,121.5 2061.4,121.5 2063.4,121.5 2065.4,121.5 2067.4,121.5 2069.4,121.4 2071.4,121.4 2073.4,121.4 2075.4,121.4 2077.4,121.4 2079.4,121.4 2081.4,121.4 2083.4,121.3 2085.4,121.3 2087.4,121.3 2089.4,121.3 2091.4,121.3 2093.4,121.3 2095.4,121.2 2097.4,121.2 2099.4,121.2 2101.4,121.2 2103.4,121.2 2105.4,121.1 2107.4,121.1 2109.4,121.1 2109.4,121.1" fill="none" stroke="#0000ff" stroke-width="5.5" stroke-linejoin="round" stroke-linecap="butt"/>
<polyline points="1129.4,518.1 1131.4,517.9 1133.4,517.8 1135.4,517.5 1137.4,517.2 1139.4,516.8 1141.4,516.4 1143.4,515.9 1145.4,515.3 1147.4,514.6 1149.4,513.9 1151.4,513.0 1153.4,512.1 1155.4,511.0 1157.4,509.9 1159.4,508.5 1161.4,507.1 1163.4,505.5 1165.4,503.7 1167.4,501.7 1169.4,499.5 1171.4,497.0 1173.4,494.3 1175.4,491.2 1177.4,487.8 1179.4,483.9 1181.4,479.6 1183.4,474.8 1185.4,469.3 1187.4,463.1 1189.4,456.0 1191.4,448.2 1193.4,439.6 1195.4,430.5 1197.4,421.4 1199.4,412.8 1201.4,404.7 1203.4,397.2 1205.4,390.3 1207.4,383.9 1209.4,377.8 1211.4,372.0 1213.4,366.4 1215.4,361.1 1217.4,355.9 1219.4,351.0 1221.4,346.2 1223.4,341.5 1225.4,337.0 1227.4,332.5 1229.4,328.2 1231.4,324.0 1233.4,319.8 1235.4,315.7 1237.4,311.7 1239.4,307.8 1241.4,303.9 1243.4,300.1 1245.4,296.3 1247.4,292.6 1249.4,288.9 1251.4,285.3 1253.4,281.7 1255.4,278.1 1257.4,274.6 1259.4,271.1 1261.4,267.7 1263.4,264.3 1265.4,261.0 1267.4,257.7 1269.4,254.5 1271.4,251.4 1273.4,248.4 1275.4,245.4 1277.4,242.5 1279.4,239.7 1281.4,237.0 1283.4,234.3 1285.4,231.8 1287.4,229.3 1289.4,226.9 1291.4,224.6 1293.4,222.3 1295.4,220.1 1297.4,218.0 1299.4,216.0 1301.4,214.0 1303.4,212.0 1305.4,210.1 1307.4,208.3 1309.4,206.5 1311.4,204.8 1313.4,203.1 1315.4,201.5 1317.4,199.9 1319.4,198.3 1321.4,196.8 1323.4,195.4 1325.4,193.9 1327.4,192.6 1329.4,191.2 1331.4,189.9 1333.4,188.6 1335.4,187.4 1337.4,186.2 1339.4,185.0 1341.4,183.9 1343.4,182.8 1345.4,181.8 1347.4,180.7 1349.4,179.7 1351.4,178.8 1353.4,177.8 1355.4,176.9 1357.4,176.0 1359.4,175.1 1361.4,174.3 1363.4,173.5 1365.4,172.7 1367.4,171.9 1369.4,171.2 1371.4,170.5 1373.4,169.7 1375.4,169.1 1377.4,168.4 1379.4,167.8 1381.4,167.1 1383.4,166.5 1385.4,165.9 1387.4,165.3 1389.4,164.8 1391.4,164.2 1393.4,163.7 1395.4,163.2 1397.4,162.7 1399.4,162.2 1401.4,161.8 1403.4,161.3 1405.4,160.9 1407.4,160.4 1409.4,160.0 1411.4,159.6 1413.4,159.2 1415.4,158.8 1417.4,158.5 1419.4,158.1 1421.4,157.7 1423.4,157.4 1425.4,157.1 1427.4,156.8 1429.4,156.4 1431.4,156.1 1433.4,155.8 1435.4,155.5 1437.4,155.3 1439.4,155.0 1441.4,154.7 1443.4,154.5 1445.4,154.2 1447.4,154.0 1449.4,153.7 1451.4,153.5 1453.4,153.3 1455.4,153.0 1457.4,152.8 1459.4,152.6 1461.4,152.4 1463.4,152.2 1465.4,152.0 1467.4,151.8 1469.4,151.6 1471.4,151.4 1473.4,151.2 1475.4,151.0 1477.4,150.8 1479.4,150.7 1481.4,150.5 1483.4,150.3 1485.4,150.1 1487.4,150.0 1489.4,149.8 1491.4,149.6 1493.4,149.5 1495.4,149.3 1497.4,149.2 1499.4,149.0 1501.4,148.9 1503.4,148.7 1505.4,148.6 1507.4,148.4 1509.4,148.3 1511.4,148.2 1513.4,148.0 1515.4,147.9 1517.4,147.8 1519.4,147.7 1521.4,147.5 1523.4,147.4 1525.4,147.3 1527.4,147.2 1529.4,147.1 1531.4,147.0 1533.4,146.9 1535.4,146.7 1537.4,146.6 1539.4,146.5 1541.4,146.4 1543.4,146.4 1545.4,146.3 1547.4,146.2 1549.4,146.1 1551.4,146.0 1553.4,145.9 1555.4,145.8 1557.4,145.7 1559.4,145.7 1561.4,145.6 1563.4,145.5 1565.4,145.4 1567.4,145.4 1569.4,145.3 1571.4,145.2 1573.4,145.2 1575.4,145.1 1577.4,145.0 1579.4,145.0 1581.4,144.9 1583.4,144.9 1585.4,144.8 1587.4,144.8 1589.4,144.7 1591.4,144.7 1593.4,144.6 1595.4,144.6 1597.4,144.5 1599.4,144.5 1601.4,144.5 1603.4,144.4 1605.4,144.4 1607.4,144.3 1609.4,144.3 1611.4,144.3 1613.4,144.2 1615.4,144.2 1617.4,144.2 1619.4,144.2 1621.4,144.1 1623.4,144.1 1625.4,144.1 1627.4,144.1 1629.4,144.0 1631.4,144.0 1633.4,144.0 1635.4,144.0 1637.4,144.0 1639.4,144.0 1641.4,144.0 1643.4,143.9 1645.4,143.9 1647.4,143.9 1649.4,143.9 1651.4,143.9 1653.4,143.9 1655.4,143.9 1657.4,143.9 1659.4,143.9 1661.4,143.9 1663.4,143.9 1665.4,143.9 1667.4,143.9 1669.4,143.9 1671.4,143.9 1673.4,143.9 1675.4,143.9 1677.4,143.9 1679.4,143.9 1681.4,143.9 1683.4,143.9 1685.4,143.9 1687.4,143.9 1689.4,143.9 1691.4,143.9 1693.4,143.9 1695.4,144.0 1697.4,144.0 1699.4,144.0 1701.4,144.0 1703.4,144.0 1705.4,144.0 1707.4,144.0 1709.4,144.0 1711.4,144.0 1713.4,144.1 1715.4,144.1 1717.4,144.1 1719.4,144.1 1721.4,144.1 1723.4,144.1 1725.4,144.1 1727.4,144.1 1729.4,144.2 1731.4,144.2 1733.4,144.2 1735.4,144.2 1737.4,144.2 1739.4,144.2 1741.4,144.2 1743.4,144.3 1745.4,144.3 1747.4,144.3 1749.4,144.3 1751.4,144.3 1753.4,144.3 1755.4,144.3 1757.4,144.4 1759.4,144.4 1761.4,144.4 1763.4,144.4 1765.4,144.4 1767.4,144.4 1769.4,144.4 1771.4,144.4 1773.4,144.4 1775.4,144.5 1777.4,144.5 1779.4,144.5 1781.4,144.5 1783.4,144.5 1785.4,144.5 1787.4,144.5 1789.4,144.5 1791.4,144.5 1793.4,144.5 1795.4,144.5 1797.4,144.5 1799.4,144.5 1801.4,144.5 1803.4,144.5 1805.4,144.5 1807.4,144.5 1809.4,144.5 1811.4,144.5 1813.4,144.5 1815.4,144.5 1817.4,144.5 1819.4,144.5 1821.4,144.5 1823.4,144.5 1825.4,144.5 1827.4,144.5 1829.4,144.5 1831.4,144.5 1833.4,144.5 1835.4,144.5 1837.4,144.5 1839.4,144.5 1841.4,144.5 1843.4,144.5 1845.4,144.5 1847.4,144.4 1849.4,144.4 1851.4,144.4 1853.4,144.4 1855.4,144.4 1857.4,144.4 1859.4,144.4 1861.4,144.4 1863.4,144.4 1865.4,144.4 1867.4,144.3 1869.4,144.3 1871.4,144.3 1873.4,144.3 1875.4,144.3 1877.4,144.3 1879.4,144.3 1881.4,144.3 1883.4,144.2 1885.4,144.2 1887.4,144.2 1889.4,144.2 1891.4,144.2 1893.4,144.2 1895.4,144.2 1897.4,144.1 1899.4,144.1 1901.4,144.1 1903.4,144.1 1905.4,144.1 1907.4,144.1 1909.4,144.1 1911.4,144.0 1913.4,144.0 1915.4,144.0 1917.4,144.0 1919.4,144.0 1921.4,144.0 1923.4,144.0 1925.4,143.9 1927.4,143.9 1929.4,143.9 1931.4,143.9 1933.4,143.9 1935.4,143.9 1937.4,143.9 1939.4,143.8 1941.4,143.8 1943.4,143.8 1945.4,143.8 1947.4,143.8 1949.4,143.8 1951.4,143.8 1953.4,143.7 1955.4,143.7 1957.4,143.7 1959.4,143.7 1961.4,143.7 1963.4,143.7 1965.4,143.7 1967.4,143.7 1969.4,143.7 1971.4,143.6 1973.4,143.6 1975.4,143.6 1977.4,143.6 1979.4,143.6 1981.4,143.6 1983.4,143.6 1985.4,143.6 1987.4,143.6 1989.4,143.6 1991.4,143.6 1993.4,143.5 1995.4,143.5 1997.4,143.5 1999.4,143.5 2001.4,143.5 2003.4,143.5 2005.4,143.5 2007.4,143.5 2009.4,143.5 2011.4,143.5 2013.4,143.5 2015.4,143.5 2017.4,143.5 2019.4,143.5 2021.4,143.5 2023.4,143.5 2025.4,143.5 2027.4,143.5 2029.4,143.5 2031.4,143.5 2033.4,143.5 2035.4,143.5 2037.4,143.5 2039.4,143.5 2041.4,143.5 2043.4,143.5 2045.4,143.5 2047.4,143.6 2049.4,143.6 2051.4,143.6 2053.4,143.6 2055.4,143.6 2057.4,143.6 2059.4,143.6 2061.4,143.6 2063.4,143.6 2065.4,143.7 2067.4,143.7 2069.4,143.7 2071.4,143.7 2073.4,143.7 2075.4,143.7 2077.4,143.8 2079.4,143.8 2081.4,143.8 2083.4,143.8 2085.4,143.9 2087.4,143.9 2089.4,143.9 2091.4,143.9 2093.4,144.0 2095.4,144.0 2097.4,144.0 2099.4,144.0 2101.4,144.1 2103.4,144.1 2105.4,144.1 2107.4,144.2 2109.4,144.2 2109.4,144.2" fill="none" stroke="#008000" stroke-width="5.5" stroke-linejoin="round" stroke-linecap="butt"/>
<line x1="1372.0" y1="120.0" x2="1372.0" y2="518.7" stroke="#000" stroke-width="4.5" stroke-dasharray="21 16" stroke-dashoffset="0"/>
<line x1="1618.3" y1="95.0" x2="1618.3" y2="518.7" stroke="#000" stroke-width="4.5" stroke-dasharray="21 16" stroke-dashoffset="0"/>
<line x1="1862.0" y1="95.0" x2="1862.0" y2="518.7" stroke="#000" stroke-width="4.5" stroke-dasharray="21 16" stroke-dashoffset="4.5"/>
<rect x="1129.4" y="28.9" width="980.0" height="489.8" fill="none" stroke="#000" stroke-width="5"/>
<polygon points="768.6,935.3 768.6,934.6 770.6,934.5 772.6,934.4 774.6,934.3 776.6,934.2 778.6,934.1 780.6,934.0 782.6,933.9 784.6,933.7 786.6,933.6 788.6,933.4 790.6,933.2 792.6,933.0 794.6,932.8 796.6,932.6 798.6,932.3 800.6,932.1 802.6,931.8 804.6,931.5 806.6,931.1 808.6,930.8 810.6,930.4 812.6,930.0 814.6,929.5 816.6,929.0 818.6,928.5 820.6,928.0 822.6,927.4 824.6,926.8 826.6,926.1 828.6,924.9 830.6,923.7 832.6,922.3 834.6,920.9 836.6,919.5 838.6,917.9 840.6,916.3 842.6,914.6 844.6,912.6 846.6,909.2 848.6,905.5 850.6,901.6 852.6,897.5 854.6,893.3 856.6,888.9 858.6,884.5 860.6,879.9 862.6,875.2 864.6,870.4 866.6,865.6 868.6,860.7 870.6,855.7 872.6,850.8 874.6,845.7 876.6,840.7 878.6,835.7 880.6,830.6 882.6,825.6 884.6,820.6 886.6,815.6 888.6,810.7 890.6,805.8 892.6,800.9 894.6,796.2 896.6,791.5 898.6,786.9 900.6,782.3 902.6,777.9 904.6,773.5 906.6,769.2 908.6,765.1 910.6,761.0 912.6,757.0 914.6,753.1 916.6,749.3 918.6,745.6 920.6,742.0 922.6,738.4 924.6,734.9 926.6,731.5 928.6,728.2 930.6,724.9 932.6,721.7 934.6,718.5 936.6,715.4 938.6,712.3 940.6,709.3 942.6,706.4 944.6,703.4 946.6,700.5 948.6,697.7 950.6,694.8 952.6,692.1 954.6,689.3 956.6,686.6 958.6,683.9 960.6,681.3 962.6,678.7 964.6,676.1 966.6,673.6 968.6,671.1 970.6,668.6 972.6,666.2 974.6,663.8 976.6,661.4 978.6,659.1 980.6,656.8 982.6,654.5 984.6,652.3 986.6,650.1 988.6,647.9 990.6,645.8 992.6,643.7 994.6,641.6 996.6,639.6 998.6,637.6 1000.6,635.6 1002.6,633.7 1004.6,631.8 1006.6,629.9 1008.6,628.0 1010.6,626.2 1012.6,624.4 1014.6,622.7 1016.6,621.0 1018.6,619.3 1020.6,617.6 1022.6,616.0 1024.6,614.4 1026.6,612.8 1028.6,611.2 1030.6,609.7 1032.6,608.2 1034.6,606.8 1036.6,605.3 1038.6,603.9 1040.6,602.5 1042.6,601.1 1044.6,599.8 1046.6,598.5 1048.6,597.2 1050.6,595.9 1052.6,594.7 1054.6,593.5 1056.6,592.3 1058.6,591.1 1060.6,589.9 1062.6,588.8 1064.6,587.7 1066.6,586.6 1068.6,585.6 1070.6,584.5 1072.6,583.5 1074.6,582.5 1076.6,581.5 1078.6,580.5 1080.6,579.6 1082.6,578.7 1084.6,577.8 1086.6,576.9 1088.6,576.0 1090.6,575.2 1092.6,574.3 1094.6,573.5 1096.6,572.7 1098.6,571.9 1100.6,571.1 1102.6,570.4 1104.6,569.7 1106.6,568.9 1108.6,568.2 1110.6,567.5 1112.6,566.9 1114.6,566.2 1116.6,565.6 1118.6,564.9 1120.6,564.3 1122.6,563.7 1124.6,563.1 1126.6,562.5 1128.6,562.0 1130.6,561.4 1132.6,560.9 1134.6,560.3 1136.6,559.8 1138.6,559.3 1140.6,558.8 1142.6,558.3 1144.6,557.9 1146.6,557.4 1148.6,556.9 1150.6,556.5 1152.6,556.1 1154.6,555.6 1156.6,555.2 1158.6,554.8 1160.6,554.4 1162.6,554.1 1164.6,553.7 1166.6,553.3 1168.6,552.9 1170.6,552.6 1172.6,552.3 1174.6,551.9 1176.6,551.6 1178.6,551.3 1180.6,551.0 1182.6,550.7 1184.6,550.4 1186.6,550.1 1188.6,549.8 1190.6,549.5 1192.6,549.2 1194.6,549.0 1196.6,548.7 1198.6,548.5 1200.6,548.2 1202.6,548.0 1204.6,547.7 1206.6,547.5 1208.6,547.3 1210.6,547.1 1212.6,546.9 1214.6,546.7 1216.6,546.5 1218.6,546.3 1220.6,546.1 1222.6,545.9 1224.6,545.7 1226.6,545.5 1228.6,545.4 1230.6,545.2 1232.6,545.0 1234.6,544.9 1236.6,544.7 1238.6,544.6 1240.6,544.4 1242.6,544.3 1244.6,544.1 1246.6,544.0 1248.6,543.8 1250.6,543.7 1252.6,543.6 1254.6,543.5 1256.6,543.3 1258.6,543.2 1260.6,543.1 1262.6,543.0 1264.6,542.9 1266.6,542.8 1268.6,542.7 1270.6,542.6 1272.6,542.5 1274.6,542.4 1276.6,542.3 1278.6,542.2 1280.6,542.1 1282.6,542.0 1284.6,541.9 1286.6,541.9 1288.6,541.8 1290.6,541.7 1292.6,541.6 1294.6,541.6 1296.6,541.5 1298.6,541.4 1300.6,541.3 1302.6,541.3 1304.6,541.2 1306.6,541.1 1308.6,541.1 1310.6,541.0 1312.6,541.0 1314.6,540.9 1316.6,540.9 1318.6,540.8 1320.6,540.8 1322.6,540.7 1324.6,540.7 1326.6,540.6 1328.6,540.6 1330.6,540.5 1332.6,540.5 1334.6,540.4 1336.6,540.4 1338.6,540.3 1340.6,540.3 1342.6,540.3 1344.6,540.2 1346.6,540.2 1348.6,540.2 1350.6,540.1 1352.6,540.1 1354.6,540.1 1356.6,540.0 1358.6,540.0 1360.6,540.0 1362.6,539.9 1364.6,539.9 1366.6,539.9 1368.6,539.9 1370.6,539.8 1372.6,539.8 1374.6,539.8 1376.6,539.8 1378.6,539.7 1380.6,539.7 1382.6,539.7 1384.6,539.7 1386.6,539.7 1388.6,539.6 1390.6,539.6 1392.6,539.6 1394.6,539.6 1396.6,539.6 1398.6,539.5 1400.6,539.5 1402.6,539.5 1404.6,539.5 1406.6,539.5 1408.6,539.5 1410.6,539.5 1412.6,539.4 1414.6,539.4 1416.6,539.4 1418.6,539.4 1420.6,539.4 1422.6,539.4 1424.6,539.4 1426.6,539.3 1428.6,539.3 1430.6,539.3 1432.6,539.3 1434.6,539.3 1436.6,539.3 1438.6,539.3 1440.6,539.3 1442.6,539.3 1444.6,539.3 1446.6,539.3 1448.6,539.2 1450.6,539.2 1452.6,539.2 1454.6,539.2 1456.6,539.2 1458.6,539.2 1460.6,539.2 1462.6,539.2 1464.6,539.2 1466.6,539.2 1468.6,539.2 1470.6,539.2 1472.6,539.2 1474.6,539.2 1476.6,539.2 1478.6,539.1 1480.6,539.1 1482.6,539.1 1484.6,539.1 1486.6,539.1 1488.6,539.1 1490.6,539.1 1492.6,539.1 1494.6,539.1 1496.6,539.1 1498.6,539.1 1500.6,539.1 1502.6,539.1 1504.6,539.1 1506.6,539.1 1508.6,539.1 1510.6,539.1 1512.6,539.1 1514.6,539.1 1516.6,539.1 1518.6,539.1 1520.6,539.1 1522.6,539.1 1524.6,539.1 1526.6,539.1 1528.6,539.1 1530.6,539.1 1532.6,539.1 1534.6,539.0 1536.6,539.0 1538.6,539.0 1540.6,539.0 1542.6,539.0 1544.6,539.0 1546.6,539.0 1548.6,539.0 1550.6,539.0 1552.6,539.0 1554.6,539.0 1556.6,539.0 1558.6,539.0 1560.6,539.0 1562.6,539.0 1564.6,539.0 1566.6,539.0 1568.6,539.0 1570.6,539.0 1572.6,539.0 1574.6,539.0 1576.6,539.0 1578.6,539.0 1580.6,539.0 1582.6,539.0 1584.6,539.0 1586.6,539.0 1588.6,539.0 1590.6,539.0 1592.6,539.0 1594.6,539.0 1596.6,539.0 1598.6,539.0 1600.6,539.0 1602.6,539.0 1604.6,539.0 1606.6,539.0 1608.6,539.0 1610.6,539.0 1612.6,539.0 1614.6,539.0 1616.6,539.0 1618.6,539.0 1620.6,539.0 1622.6,539.0 1624.6,539.0 1626.6,539.0 1628.6,539.0 1630.6,539.0 1632.6,539.0 1634.6,539.0 1636.6,539.0 1638.6,539.0 1640.6,539.0 1642.6,539.0 1644.6,539.0 1646.6,539.0 1648.6,539.0 1650.6,539.0 1652.6,539.0 1654.6,539.0 1656.6,539.0 1658.6,539.0 1660.6,539.0 1662.6,539.0 1664.6,539.0 1666.6,539.0 1668.6,539.0 1670.6,539.0 1672.6,539.0 1674.6,539.0 1676.6,539.0 1678.6,539.0 1680.6,539.0 1682.6,539.0 1684.6,539.0 1686.6,539.0 1688.6,539.0 1690.6,539.0 1692.6,539.0 1694.6,539.0 1696.6,539.0 1698.6,539.0 1700.6,539.0 1702.6,539.0 1704.6,539.0 1706.6,539.0 1708.6,539.0 1710.6,539.0 1712.6,539.0 1714.6,539.0 1716.6,539.0 1718.6,539.0 1720.6,539.0 1722.6,539.0 1724.6,539.0 1726.6,539.0 1728.6,539.0 1730.6,539.0 1732.6,539.0 1734.6,539.0 1736.6,539.0 1738.6,539.0 1740.6,539.0 1742.6,539.0 1744.6,539.0 1746.6,539.0 1748.6,539.0 1750.6,539.0 1752.6,539.0 1754.6,539.0 1756.6,539.0 1758.6,539.0 1760.6,539.0 1762.6,539.0 1764.6,539.0 1766.6,539.0 1768.6,539.0 1770.6,539.0 1772.6,539.0 1774.6,539.0 1776.6,539.0 1778.6,539.0 1780.6,539.0 1782.6,539.0 1784.6,539.0 1786.6,539.0 1788.6,539.0 1790.6,539.0 1792.6,539.0 1794.6,539.0 1796.6,539.0 1798.6,539.0 1800.6,539.0 1802.6,539.0 1804.6,539.0 1806.6,539.0 1808.6,539.0 1810.6,539.0 1812.6,539.0 1814.6,539.0 1816.6,539.0 1818.6,539.0 1820.6,539.0 1822.6,539.0 1824.6,539.0 1826.6,539.0 1828.6,539.0 1830.6,539.0 1832.6,539.0 1834.6,539.0 1836.6,539.0 1838.6,539.0 1840.6,539.0 1842.6,539.0 1844.6,539.0 1846.6,539.0 1848.6,539.0 1850.6,539.0 1852.6,539.0 1854.6,539.0 1856.6,539.0 1858.6,539.0 1860.6,539.0 1862.6,539.0 1864.6,539.0 1866.6,539.0 1868.6,539.0 1870.6,539.0 1872.6,539.0 1874.6,539.0 1876.6,539.0 1878.6,539.0 1880.6,539.0 1882.6,539.0 1884.6,539.0 1886.6,539.0 1888.6,539.0 1890.6,539.0 1892.6,539.0 1894.6,539.0 1896.6,539.0 1898.6,539.0 1900.6,539.0 1902.6,539.0 1904.6,539.0 1906.6,539.0 1908.6,539.0 1910.6,539.0 1912.6,539.0 1914.6,539.0 1916.6,539.0 1918.6,539.0 1920.6,539.0 1922.6,539.0 1924.6,539.0 1926.6,539.0 1928.6,539.0 1929.0,539.0 1929.0,935.3" fill="#fff"/>
<polyline points="768.6,934.6 770.6,934.5 772.6,934.4 774.6,934.3 776.6,934.2 778.6,934.1 780.6,934.0 782.6,933.9 784.6,933.7 786.6,933.6 788.6,933.4 790.6,933.2 792.6,933.0 794.6,932.8 796.6,932.6 798.6,932.3 800.6,932.1 802.6,931.8 804.6,931.5 806.6,931.1 808.6,930.8 810.6,930.4 812.6,930.0 814.6,929.5 816.6,929.0 818.6,928.5 820.6,928.0 822.6,927.4 824.6,926.8 826.6,926.1 828.6,925.5 830.6,924.7 832.6,923.9 834.6,923.0 836.6,921.9 838.6,920.4 840.6,918.3 842.6,915.7 844.6,912.6 846.6,909.2 848.6,905.5 850.6,901.6 852.6,897.5 854.6,893.3 856.6,888.9 858.6,884.5 860.6,879.9 862.6,875.2 864.6,870.4 866.6,865.6 868.6,860.7 870.6,855.7 872.6,850.8 874.6,845.7 876.6,840.7 878.6,835.7 880.6,830.6 882.6,825.6 884.6,820.6 886.6,815.6 888.6,810.7 890.6,805.8 892.6,800.9 894.6,796.2 896.6,791.5 898.6,786.9 900.6,782.3 902.6,777.9 904.6,773.5 906.6,769.2 908.6,765.1 910.6,761.0 912.6,757.0 914.6,753.1 916.6,749.3 918.6,745.6 920.6,742.0 922.6,738.4 924.6,734.9 926.6,731.5 928.6,728.2 930.6,724.9 932.6,721.7 934.6,718.5 936.6,715.4 938.6,712.3 940.6,709.3 942.6,706.4 944.6,703.4 946.6,700.5 948.6,697.7 950.6,694.8 952.6,692.1 954.6,689.3 956.6,686.6 958.6,683.9 960.6,681.3 962.6,678.7 964.6,676.1 966.6,673.6 968.6,671.1 970.6,668.6 972.6,666.2 974.6,663.8 976.6,661.4 978.6,659.1 980.6,656.8 982.6,654.5 984.6,652.3 986.6,650.1 988.6,647.9 990.6,645.8 992.6,643.7 994.6,641.6 996.6,639.6 998.6,637.6 1000.6,635.6 1002.6,633.7 1004.6,631.8 1006.6,629.9 1008.6,628.0 1010.6,626.2 1012.6,624.4 1014.6,622.7 1016.6,621.0 1018.6,619.3 1020.6,617.6 1022.6,616.0 1024.6,614.4 1026.6,612.8 1028.6,611.2 1030.6,609.7 1032.6,608.2 1034.6,606.8 1036.6,605.3 1038.6,603.9 1040.6,602.5 1042.6,601.1 1044.6,599.8 1046.6,598.5 1048.6,597.2 1050.6,595.9 1052.6,594.7 1054.6,593.5 1056.6,592.3 1058.6,591.1 1060.6,589.9 1062.6,588.8 1064.6,587.7 1066.6,586.6 1068.6,585.6 1070.6,584.5 1072.6,583.5 1074.6,582.5 1076.6,581.5 1078.6,580.5 1080.6,579.6 1082.6,578.7 1084.6,577.8 1086.6,576.9 1088.6,576.0 1090.6,575.2 1092.6,574.3 1094.6,573.5 1096.6,572.7 1098.6,571.9 1100.6,571.1 1102.6,570.4 1104.6,569.7 1106.6,568.9 1108.6,568.2 1110.6,567.5 1112.6,566.9 1114.6,566.2 1116.6,565.6 1118.6,564.9 1120.6,564.3 1122.6,563.7 1124.6,563.1 1126.6,562.5 1128.6,562.0 1130.6,561.4 1132.6,560.9 1134.6,560.3 1136.6,559.8 1138.6,559.3 1140.6,558.8 1142.6,558.3 1144.6,557.9 1146.6,557.4 1148.6,556.9 1150.6,556.5 1152.6,556.1 1154.6,555.6 1156.6,555.2 1158.6,554.8 1160.6,554.4 1162.6,554.1 1164.6,553.7 1166.6,553.3 1168.6,552.9 1170.6,552.6 1172.6,552.3 1174.6,551.9 1176.6,551.6 1178.6,551.3 1180.6,551.0 1182.6,550.7 1184.6,550.4 1186.6,550.1 1188.6,549.8 1190.6,549.5 1192.6,549.2 1194.6,549.0 1196.6,548.7 1198.6,548.5 1200.6,548.2 1202.6,548.0 1204.6,547.7 1206.6,547.5 1208.6,547.3 1210.6,547.1 1212.6,546.9 1214.6,546.7 1216.6,546.5 1218.6,546.3 1220.6,546.1 1222.6,545.9 1224.6,545.7 1226.6,545.5 1228.6,545.4 1230.6,545.2 1232.6,545.0 1234.6,544.9 1236.6,544.7 1238.6,544.6 1240.6,544.4 1242.6,544.3 1244.6,544.1 1246.6,544.0 1248.6,543.8 1250.6,543.7 1252.6,543.6 1254.6,543.5 1256.6,543.3 1258.6,543.2 1260.6,543.1 1262.6,543.0 1264.6,542.9 1266.6,542.8 1268.6,542.7 1270.6,542.6 1272.6,542.5 1274.6,542.4 1276.6,542.3 1278.6,542.2 1280.6,542.1 1282.6,542.0 1284.6,541.9 1286.6,541.9 1288.6,541.8 1290.6,541.7 1292.6,541.6 1294.6,541.6 1296.6,541.5 1298.6,541.4 1300.6,541.3 1302.6,541.3 1304.6,541.2 1306.6,541.1 1308.6,541.1 1310.6,541.0 1312.6,541.0 1314.6,540.9 1316.6,540.9 1318.6,540.8 1320.6,540.8 1322.6,540.7 1324.6,540.7 1326.6,540.6 1328.6,540.6 1330.6,540.5 1332.6,540.5 1334.6,540.4 1336.6,540.4 1338.6,540.3 1340.6,540.3 1342.6,540.3 1344.6,540.2 1346.6,540.2 1348.6,540.2 1350.6,540.1 1352.6,540.1 1354.6,540.1 1356.6,540.0 1358.6,540.0 1360.6,540.0 1362.6,539.9 1364.6,539.9 1366.6,539.9 1368.6,539.9 1370.6,539.8 1372.6,539.8 1374.6,539.8 1376.6,539.8 1378.6,539.7 1380.6,539.7 1382.6,539.7 1384.6,539.7 1386.6,539.7 1388.6,539.6 1390.6,539.6 1392.6,539.6 1394.6,539.6 1396.6,539.6 1398.6,539.5 1400.6,539.5 1402.6,539.5 1404.6,539.5 1406.6,539.5 1408.6,539.5 1410.6,539.5 1412.6,539.4 1414.6,539.4 1416.6,539.4 1418.6,539.4 1420.6,539.4 1422.6,539.4 1424.6,539.4 1426.6,539.3 1428.6,539.3 1430.6,539.3 1432.6,539.3 1434.6,539.3 1436.6,539.3 1438.6,539.3 1440.6,539.3 1442.6,539.3 1444.6,539.3 1446.6,539.3 1448.6,539.2 1450.6,539.2 1452.6,539.2 1454.6,539.2 1456.6,539.2 1458.6,539.2 1460.6,539.2 1462.6,539.2 1464.6,539.2 1466.6,539.2 1468.6,539.2 1470.6,539.2 1472.6,539.2 1474.6,539.2 1476.6,539.2 1478.6,539.1 1480.6,539.1 1482.6,539.1 1484.6,539.1 1486.6,539.1 1488.6,539.1 1490.6,539.1 1492.6,539.1 1494.6,539.1 1496.6,539.1 1498.6,539.1 1500.6,539.1 1502.6,539.1 1504.6,539.1 1506.6,539.1 1508.6,539.1 1510.6,539.1 1512.6,539.1 1514.6,539.1 1516.6,539.1 1518.6,539.1 1520.6,539.1 1522.6,539.1 1524.6,539.1 1526.6,539.1 1528.6,539.1 1530.6,539.1 1532.6,539.1 1534.6,539.0 1536.6,539.0 1538.6,539.0 1540.6,539.0 1542.6,539.0 1544.6,539.0 1546.6,539.0 1548.6,539.0 1550.6,539.0 1552.6,539.0 1554.6,539.0 1556.6,539.0 1558.6,539.0 1560.6,539.0 1562.6,539.0 1564.6,539.0 1566.6,539.0 1568.6,539.0 1570.6,539.0 1572.6,539.0 1574.6,539.0 1576.6,539.0 1578.6,539.0 1580.6,539.0 1582.6,539.0 1584.6,539.0 1586.6,539.0 1588.6,539.0 1590.6,539.0 1592.6,539.0 1594.6,539.0 1596.6,539.0 1598.6,539.0 1600.6,539.0 1602.6,539.0 1604.6,539.0 1606.6,539.0 1608.6,539.0 1610.6,539.0 1612.6,539.0 1614.6,539.0 1616.6,539.0 1618.6,539.0 1620.6,539.0 1622.6,539.0 1624.6,539.0 1626.6,539.0 1628.6,539.0 1630.6,539.0 1632.6,539.0 1634.6,539.0 1636.6,539.0 1638.6,539.0 1640.6,539.0 1642.6,539.0 1644.6,539.0 1646.6,539.0 1648.6,539.0 1650.6,539.0 1652.6,539.0 1654.6,539.0 1656.6,539.0 1658.6,539.0 1660.6,539.0 1662.6,539.0 1664.6,539.0 1666.6,539.0 1668.6,539.0 1670.6,539.0 1672.6,539.0 1674.6,539.0 1676.6,539.0 1678.6,539.0 1680.6,539.0 1682.6,539.0 1684.6,539.0 1686.6,539.0 1688.6,539.0 1690.6,539.0 1692.6,539.0 1694.6,539.0 1696.6,539.0 1698.6,539.0 1700.6,539.0 1702.6,539.0 1704.6,539.0 1706.6,539.0 1708.6,539.0 1710.6,539.0 1712.6,539.0 1714.6,539.0 1716.6,539.0 1718.6,539.0 1720.6,539.0 1722.6,539.0 1724.6,539.0 1726.6,539.0 1728.6,539.0 1730.6,539.0 1732.6,539.0 1734.6,539.0 1736.6,539.0 1738.6,539.0 1740.6,539.0 1742.6,539.0 1744.6,539.0 1746.6,539.0 1748.6,539.0 1750.6,539.0 1752.6,539.0 1754.6,539.0 1756.6,539.0 1758.6,539.0 1760.6,539.0 1762.6,539.0 1764.6,539.0 1766.6,539.0 1768.6,539.0 1770.6,539.0 1772.6,539.0 1774.6,539.0 1776.6,539.0 1778.6,539.0 1780.6,539.0 1782.6,539.0 1784.6,539.0 1786.6,539.0 1788.6,539.0 1790.6,539.0 1792.6,539.0 1794.6,539.0 1796.6,539.0 1798.6,539.0 1800.6,539.0 1802.6,539.0 1804.6,539.0 1806.6,539.0 1808.6,539.0 1810.6,539.0 1812.6,539.0 1814.6,539.0 1816.6,539.0 1818.6,539.0 1820.6,539.0 1822.6,539.0 1824.6,539.0 1826.6,539.0 1828.6,539.0 1830.6,539.0 1832.6,539.0 1834.6,539.0 1836.6,539.0 1838.6,539.0 1840.6,539.0 1842.6,539.0 1844.6,539.0 1846.6,539.0 1848.6,539.0 1850.6,539.0 1852.6,539.0 1854.6,539.0 1856.6,539.0 1858.6,539.0 1860.6,539.0 1862.6,539.0 1864.6,539.0 1866.6,539.0 1868.6,539.0 1870.6,539.0 1872.6,539.0 1874.6,539.0 1876.6,539.0 1878.6,539.0 1880.6,539.0 1882.6,539.0 1884.6,539.0 1886.6,539.0 1888.6,539.0 1890.6,539.0 1892.6,539.0 1894.6,539.0 1896.6,539.0 1898.6,539.0 1900.6,539.0 1902.6,539.0 1904.6,539.0 1906.6,539.0 1908.6,539.0 1910.6,539.0 1912.6,539.0 1914.6,539.0 1916.6,539.0 1918.6,539.0 1920.6,539.0 1922.6,539.0 1924.6,539.0 1926.6,539.0 1928.6,539.0 1929.0,539.0" fill="none" stroke="#000" stroke-width="5.5" stroke-linejoin="round" stroke-linecap="butt"/>
<polyline points="768.6,935.3 770.6,935.3 772.6,935.3 774.6,935.3 776.6,935.3 778.6,935.3 780.6,935.3 782.6,935.3 784.6,935.3 786.6,935.3 788.6,935.3 790.6,935.3 792.6,935.2 794.6,935.1 796.6,935.0 798.6,934.9 800.6,934.7 802.6,934.4 804.6,934.1 806.6,933.7 808.6,933.3 810.6,932.8 812.6,932.2 814.6,931.6 816.6,930.9 818.6,930.1 820.6,929.2 822.6,928.2 824.6,927.2 826.6,926.1 828.6,924.9 830.6,923.7 832.6,922.3 834.6,920.9 836.6,919.5 838.6,917.9 840.6,916.3 842.6,914.6 844.6,912.9 846.6,911.0 848.6,908.8 850.6,906.1 852.6,902.7 854.6,898.7 856.6,894.2 858.6,889.6 860.6,884.8 862.6,880.0 864.6,875.3 866.6,870.5 868.6,865.7 870.6,860.9 872.6,856.1 874.6,851.4 876.6,846.7 878.6,842.0 880.6,837.4 882.6,832.9 884.6,828.4 886.6,823.9 888.6,819.5 890.6,815.2 892.6,811.0 894.6,806.9 896.6,802.8 898.6,798.8 900.6,794.9 902.6,791.0 904.6,787.3 906.6,783.6 908.6,780.1 910.6,776.6 912.6,773.2 914.6,769.9 916.6,766.7 918.6,763.5 920.6,760.5 922.6,757.5 924.6,754.6 926.6,751.8 928.6,749.1 930.6,746.4 932.6,743.8 934.6,741.3 936.6,738.9 938.6,736.5 940.6,734.2 942.6,731.9 944.6,729.7 946.6,727.6 948.6,725.5 950.6,723.5 952.6,721.5 954.6,719.6 956.6,717.7 958.6,715.9 960.6,714.1 962.6,712.4 964.6,710.6 966.6,709.0 968.6,707.3 970.6,705.7 972.6,704.2 974.6,702.6 976.6,701.1 978.6,699.6 980.6,698.2 982.6,696.7 984.6,695.3 986.6,694.0 988.6,692.6 990.6,691.3 992.6,690.0 994.6,688.7 996.6,687.4 998.6,686.2 1000.6,685.0 1002.6,683.8 1004.6,682.6 1006.6,681.4 1008.6,680.3 1010.6,679.1 1012.6,678.0 1014.6,676.9 1016.6,675.8 1018.6,674.8 1020.6,673.7 1022.6,672.7 1024.6,671.7 1026.6,670.7 1028.6,669.7 1030.6,668.7 1032.6,667.8 1034.6,666.8 1036.6,665.9 1038.6,665.0 1040.6,664.1 1042.6,663.2 1044.6,662.3 1046.6,661.4 1048.6,660.6 1050.6,659.8 1052.6,658.9 1054.6,658.1 1056.6,657.3 1058.6,656.5 1060.6,655.8 1062.6,655.0 1064.6,654.3 1066.6,653.5 1068.6,652.8 1070.6,652.1 1072.6,651.4 1074.6,650.7 1076.6,650.0 1078.6,649.3 1080.6,648.7 1082.6,648.0 1084.6,647.4 1086.6,646.7 1088.6,646.1 1090.6,645.5 1092.6,644.9 1094.6,644.3 1096.6,643.7 1098.6,643.1 1100.6,642.6 1102.6,642.0 1104.6,641.4 1106.6,640.9 1108.6,640.4 1110.6,639.8 1112.6,639.3 1114.6,638.8 1116.6,638.3 1118.6,637.8 1120.6,637.3 1122.6,636.9 1124.6,636.4 1126.6,635.9 1128.6,635.5 1130.6,635.0 1132.6,634.6 1134.6,634.1 1136.6,633.7 1138.6,633.3 1140.6,632.9 1142.6,632.5 1144.6,632.1 1146.6,631.7 1148.6,631.3 1150.6,630.9 1152.6,630.5 1154.6,630.2 1156.6,629.8 1158.6,629.4 1160.6,629.1 1162.6,628.7 1164.6,628.4 1166.6,628.0 1168.6,627.7 1170.6,627.4 1172.6,627.1 1174.6,626.8 1176.6,626.4 1178.6,626.1 1180.6,625.8 1182.6,625.5 1184.6,625.2 1186.6,625.0 1188.6,624.7 1190.6,624.4 1192.6,624.1 1194.6,623.9 1196.6,623.6 1198.6,623.3 1200.6,623.1 1202.6,622.8 1204.6,622.6 1206.6,622.3 1208.6,622.1 1210.6,621.9 1212.6,621.6 1214.6,621.4 1216.6,621.2 1218.6,621.0 1220.6,620.7 1222.6,620.5 1224.6,620.3 1226.6,620.1 1228.6,619.9 1230.6,619.7 1232.6,619.5 1234.6,619.3 1236.6,619.1 1238.6,618.9 1240.6,618.7 1242.6,618.6 1244.6,618.4 1246.6,618.2 1248.6,618.0 1250.6,617.9 1252.6,617.7 1254.6,617.5 1256.6,617.4 1258.6,617.2 1260.6,617.1 1262.6,616.9 1264.6,616.7 1266.6,616.6 1268.6,616.5 1270.6,616.3 1272.6,616.2 1274.6,616.0 1276.6,615.9 1278.6,615.8 1280.6,615.6 1282.6,615.5 1284.6,615.4 1286.6,615.2 1288.6,615.1 1290.6,615.0 1292.6,614.9 1294.6,614.8 1296.6,614.6 1298.6,614.5 1300.6,614.4 1302.6,614.3 1304.6,614.2 1306.6,614.1 1308.6,614.0 1310.6,613.9 1312.6,613.8 1314.6,613.7 1316.6,613.6 1318.6,613.5 1320.6,613.4 1322.6,613.3 1324.6,613.2 1326.6,613.1 1328.6,613.0 1330.6,612.9 1332.6,612.8 1334.6,612.8 1336.6,612.7 1338.6,612.6 1340.6,612.5 1342.6,612.4 1344.6,612.4 1346.6,612.3 1348.6,612.2 1350.6,612.1 1352.6,612.1 1354.6,612.0 1356.6,611.9 1358.6,611.8 1360.6,611.8 1362.6,611.7 1364.6,611.6 1366.6,611.6 1368.6,611.5 1370.6,611.5 1372.6,611.4 1374.6,611.3 1376.6,611.3 1378.6,611.2 1380.6,611.2 1382.6,611.1 1384.6,611.0 1386.6,611.0 1388.6,610.9 1390.6,610.9 1392.6,610.8 1394.6,610.8 1396.6,610.7 1398.6,610.7 1400.6,610.6 1402.6,610.6 1404.6,610.5 1406.6,610.5 1408.6,610.4 1410.6,610.4 1412.6,610.4 1414.6,610.3 1416.6,610.3 1418.6,610.2 1420.6,610.2 1422.6,610.1 1424.6,610.1 1426.6,610.1 1428.6,610.0 1430.6,610.0 1432.6,610.0 1434.6,609.9 1436.6,609.9 1438.6,609.9 1440.6,609.8 1442.6,609.8 1444.6,609.8 1446.6,609.7 1448.6,609.7 1450.6,609.7 1452.6,609.6 1454.6,609.6 1456.6,609.6 1458.6,609.5 1460.6,609.5 1462.6,609.5 1464.6,609.4 1466.6,609.4 1468.6,609.4 1470.6,609.4 1472.6,609.3 1474.6,609.3 1476.6,609.3 1478.6,609.3 1480.6,609.2 1482.6,609.2 1484.6,609.2 1486.6,609.2 1488.6,609.1 1490.6,609.1 1492.6,609.1 1494.6,609.1 1496.6,609.1 1498.6,609.0 1500.6,609.0 1502.6,609.0 1504.6,609.0 1506.6,609.0 1508.6,608.9 1510.6,608.9 1512.6,608.9 1514.6,608.9 1516.6,608.9 1518.6,608.8 1520.6,608.8 1522.6,608.8 1524.6,608.8 1526.6,608.8 1528.6,608.8 1530.6,608.7 1532.6,608.7 1534.6,608.7 1536.6,608.7 1538.6,608.7 1540.6,608.7 1542.6,608.7 1544.6,608.6 1546.6,608.6 1548.6,608.6 1550.6,608.6 1552.6,608.6 1554.6,608.6 1556.6,608.6 1558.6,608.6 1560.6,608.5 1562.6,608.5 1564.6,608.5 1566.6,608.5 1568.6,608.5 1570.6,608.5 1572.6,608.5 1574.6,608.5 1576.6,608.4 1578.6,608.4 1580.6,608.4 1582.6,608.4 1584.6,608.4 1586.6,608.4 1588.6,608.4 1590.6,608.4 1592.6,608.4 1594.6,608.4 1596.6,608.4 1598.6,608.3 1600.6,608.3 1602.6,608.3 1604.6,608.3 1606.6,608.3 1608.6,608.3 1610.6,608.3 1612.6,608.3 1614.6,608.3 1616.6,608.3 1618.6,608.3 1620.6,608.3 1622.6,608.2 1624.6,608.2 1626.6,608.2 1628.6,608.2 1630.6,608.2 1632.6,608.2 1634.6,608.2 1636.6,608.2 1638.6,608.2 1640.6,608.2 1642.6,608.2 1644.6,608.2 1646.6,608.2 1648.6,608.2 1650.6,608.2 1652.6,608.2 1654.6,608.1 1656.6,608.1 1658.6,608.1 1660.6,608.1 1662.6,608.1 1664.6,608.1 1666.6,608.1 1668.6,608.1 1670.6,608.1 1672.6,608.1 1674.6,608.1 1676.6,608.1 1678.6,608.1 1680.6,608.1 1682.6,608.1 1684.6,608.1 1686.6,608.1 1688.6,608.1 1690.6,608.1 1692.6,608.1 1694.6,608.1 1696.6,608.1 1698.6,608.1 1700.6,608.0 1702.6,608.0 1704.6,608.0 1706.6,608.0 1708.6,608.0 1710.6,608.0 1712.6,608.0 1714.6,608.0 1716.6,608.0 1718.6,608.0 1720.6,608.0 1722.6,608.0 1724.6,608.0 1726.6,608.0 1728.6,608.0 1730.6,608.0 1732.6,608.0 1734.6,608.0 1736.6,608.0 1738.6,608.0 1740.6,608.0 1742.6,608.0 1744.6,608.0 1746.6,608.0 1748.6,608.0 1750.6,608.0 1752.6,608.0 1754.6,608.0 1756.6,608.0 1758.6,608.0 1760.6,608.0 1762.6,608.0 1764.6,608.0 1766.6,608.0 1768.6,608.0 1770.6,608.0 1772.6,608.0 1774.6,608.0 1776.6,608.0 1778.6,607.9 1780.6,607.9 1782.6,607.9 1784.6,607.9 1786.6,607.9 1788.6,607.9 1790.6,607.9 1792.6,607.9 1794.6,607.9 1796.6,607.9 1798.6,607.9 1800.6,607.9 1802.6,607.9 1804.6,607.9 1806.6,607.9 1808.6,607.9 1810.6,607.9 1812.6,607.9 1814.6,607.9 1816.6,607.9 1818.6,607.9 1820.6,607.9 1822.6,607.9 1824.6,607.9 1826.6,607.9 1828.6,607.9 1830.6,607.9 1832.6,607.9 1834.6,607.9 1836.6,607.9 1838.6,607.9 1840.6,607.9 1842.6,607.9 1844.6,607.9 1846.6,607.9 1848.6,607.9 1850.6,607.9 1852.6,607.9 1854.6,607.9 1856.6,607.9 1858.6,607.9 1860.6,607.9 1862.6,607.9 1864.6,607.9 1866.6,607.9 1868.6,607.9 1870.6,607.9 1872.6,607.9 1874.6,607.9 1876.6,607.9 1878.6,607.9 1880.6,607.9 1882.6,607.9 1884.6,607.9 1886.6,607.9 1888.6,607.9 1890.6,607.9 1892.6,607.9 1894.6,607.9 1896.6,607.9 1898.6,607.9 1900.6,607.9 1902.6,607.9 1904.6,607.9 1906.6,607.9 1908.6,607.9 1910.6,607.9 1912.6,607.9 1914.6,607.9 1916.6,607.9 1918.6,607.9 1920.6,607.9 1922.6,607.9 1924.6,607.9 1926.6,607.9 1928.6,607.9 1929.0,607.9" fill="none" stroke="#ff0000" stroke-width="5.5" stroke-linejoin="round" stroke-linecap="butt"/>
<polyline points="768.6,935.3 770.6,935.3 772.6,935.3 774.6,935.3 776.6,935.3 778.6,935.3 780.6,935.3 782.6,935.3 784.6,935.2 786.6,935.2 788.6,935.1 790.6,935.1 792.6,935.0 794.6,934.8 796.6,934.7 798.6,934.5 800.6,934.3 802.6,934.1 804.6,933.8 806.6,933.4 808.6,933.0 810.6,932.6 812.6,932.1 814.6,931.6 816.6,930.9 818.6,930.3 820.6,929.5 822.6,928.7 824.6,927.8 826.6,926.9 828.6,925.8 830.6,924.7 832.6,923.5 834.6,922.3 836.6,920.9 838.6,919.5 840.6,918.0 842.6,916.4 844.6,914.7 846.6,912.8 848.6,910.5 850.6,907.7 852.6,904.3 854.6,900.4 856.6,896.1 858.6,891.7 860.6,887.1 862.6,882.5 864.6,877.7 866.6,872.9 868.6,868.0 870.6,863.0 872.6,858.1 874.6,853.1 876.6,848.2 878.6,843.2 880.6,838.3 882.6,833.4 884.6,828.6 886.6,823.8 888.6,819.1 890.6,814.4 892.6,809.8 894.6,805.3 896.6,800.9 898.6,796.5 900.6,792.3 902.6,788.1 904.6,784.1 906.6,780.1 908.6,776.3 910.6,772.5 912.6,768.9 914.6,765.3 916.6,761.9 918.6,758.5 920.6,755.3 922.6,752.1 924.6,749.0 926.6,746.0 928.6,743.1 930.6,740.2 932.6,737.4 934.6,734.7 936.6,732.1 938.6,729.5 940.6,727.0 942.6,724.5 944.6,722.1 946.6,719.7 948.6,717.4 950.6,715.1 952.6,712.9 954.6,710.7 956.6,708.5 958.6,706.4 960.6,704.3 962.6,702.2 964.6,700.2 966.6,698.2 968.6,696.2 970.6,694.3 972.6,692.3 974.6,690.5 976.6,688.6 978.6,686.7 980.6,684.9 982.6,683.1 984.6,681.4 986.6,679.6 988.6,677.9 990.6,676.2 992.6,674.5 994.6,672.9 996.6,671.3 998.6,669.7 1000.6,668.1 1002.6,666.5 1004.6,665.0 1006.6,663.5 1008.6,662.0 1010.6,660.5 1012.6,659.1 1014.6,657.6 1016.6,656.2 1018.6,654.8 1020.6,653.5 1022.6,652.1 1024.6,650.8 1026.6,649.5 1028.6,648.2 1030.6,646.9 1032.6,645.7 1034.6,644.4 1036.6,643.2 1038.6,642.0 1040.6,640.8 1042.6,639.7 1044.6,638.6 1046.6,637.4 1048.6,636.3 1050.6,635.2 1052.6,634.2 1054.6,633.1 1056.6,632.1 1058.6,631.1 1060.6,630.0 1062.6,629.1 1064.6,628.1 1066.6,627.1 1068.6,626.2 1070.6,625.3 1072.6,624.3 1074.6,623.5 1076.6,622.6 1078.6,621.7 1080.6,620.8 1082.6,620.0 1084.6,619.2 1086.6,618.4 1088.6,617.6 1090.6,616.8 1092.6,616.0 1094.6,615.3 1096.6,614.5 1098.6,613.8 1100.6,613.1 1102.6,612.3 1104.6,611.6 1106.6,611.0 1108.6,610.3 1110.6,609.6 1112.6,609.0 1114.6,608.3 1116.6,607.7 1118.6,607.1 1120.6,606.5 1122.6,605.9 1124.6,605.3 1126.6,604.7 1128.6,604.2 1130.6,603.6 1132.6,603.1 1134.6,602.5 1136.6,602.0 1138.6,601.5 1140.6,601.0 1142.6,600.5 1144.6,600.0 1146.6,599.5 1148.6,599.0 1150.6,598.5 1152.6,598.1 1154.6,597.6 1156.6,597.2 1158.6,596.8 1160.6,596.3 1162.6,595.9 1164.6,595.5 1166.6,595.1 1168.6,594.7 1170.6,594.3 1172.6,593.9 1174.6,593.6 1176.6,593.2 1178.6,592.8 1180.6,592.5 1182.6,592.1 1184.6,591.8 1186.6,591.5 1188.6,591.1 1190.6,590.8 1192.6,590.5 1194.6,590.2 1196.6,589.9 1198.6,589.6 1200.6,589.3 1202.6,589.0 1204.6,588.7 1206.6,588.4 1208.6,588.2 1210.6,587.9 1212.6,587.6 1214.6,587.4 1216.6,587.1 1218.6,586.9 1220.6,586.6 1222.6,586.4 1224.6,586.2 1226.6,585.9 1228.6,585.7 1230.6,585.5 1232.6,585.3 1234.6,585.1 1236.6,584.9 1238.6,584.6 1240.6,584.4 1242.6,584.3 1244.6,584.1 1246.6,583.9 1248.6,583.7 1250.6,583.5 1252.6,583.3 1254.6,583.1 1256.6,583.0 1258.6,582.8 1260.6,582.6 1262.6,582.5 1264.6,582.3 1266.6,582.2 1268.6,582.0 1270.6,581.9 1272.6,581.7 1274.6,581.6 1276.6,581.4 1278.6,581.3 1280.6,581.2 1282.6,581.0 1284.6,580.9 1286.6,580.8 1288.6,580.6 1290.6,580.5 1292.6,580.4 1294.6,580.3 1296.6,580.2 1298.6,580.1 1300.6,580.0 1302.6,579.8 1304.6,579.7 1306.6,579.6 1308.6,579.5 1310.6,579.4 1312.6,579.3 1314.6,579.2 1316.6,579.1 1318.6,579.0 1320.6,579.0 1322.6,578.9 1324.6,578.8 1326.6,578.7 1328.6,578.6 1330.6,578.5 1332.6,578.5 1334.6,578.4 1336.6,578.3 1338.6,578.2 1340.6,578.1 1342.6,578.1 1344.6,578.0 1346.6,577.9 1348.6,577.9 1350.6,577.8 1352.6,577.7 1354.6,577.7 1356.6,577.6 1358.6,577.6 1360.6,577.5 1362.6,577.4 1364.6,577.4 1366.6,577.3 1368.6,577.3 1370.6,577.2 1372.6,577.2 1374.6,577.1 1376.6,577.1 1378.6,577.0 1380.6,577.0 1382.6,576.9 1384.6,576.9 1386.6,576.8 1388.6,576.8 1390.6,576.7 1392.6,576.7 1394.6,576.6 1396.6,576.6 1398.6,576.6 1400.6,576.5 1402.6,576.5 1404.6,576.4 1406.6,576.4 1408.6,576.4 1410.6,576.3 1412.6,576.3 1414.6,576.3 1416.6,576.2 1418.6,576.2 1420.6,576.2 1422.6,576.1 1424.6,576.1 1426.6,576.1 1428.6,576.1 1430.6,576.0 1432.6,576.0 1434.6,576.0 1436.6,575.9 1438.6,575.9 1440.6,575.9 1442.6,575.9 1444.6,575.8 1446.6,575.8 1448.6,575.8 1450.6,575.8 1452.6,575.7 1454.6,575.7 1456.6,575.7 1458.6,575.7 1460.6,575.7 1462.6,575.6 1464.6,575.6 1466.6,575.6 1468.6,575.6 1470.6,575.6 1472.6,575.5 1474.6,575.5 1476.6,575.5 1478.6,575.5 1480.6,575.5 1482.6,575.5 1484.6,575.4 1486.6,575.4 1488.6,575.4 1490.6,575.4 1492.6,575.4 1494.6,575.4 1496.6,575.4 1498.6,575.3 1500.6,575.3 1502.6,575.3 1504.6,575.3 1506.6,575.3 1508.6,575.3 1510.6,575.3 1512.6,575.3 1514.6,575.2 1516.6,575.2 1518.6,575.2 1520.6,575.2 1522.6,575.2 1524.6,575.2 1526.6,575.2 1528.6,575.2 1530.6,575.2 1532.6,575.2 1534.6,575.1 1536.6,575.1 1538.6,575.1 1540.6,575.1 1542.6,575.1 1544.6,575.1 1546.6,575.1 1548.6,575.1 1550.6,575.1 1552.6,575.1 1554.6,575.1 1556.6,575.1 1558.6,575.1 1560.6,575.0 1562.6,575.0 1564.6,575.0 1566.6,575.0 1568.6,575.0 1570.6,575.0 1572.6,575.0 1574.6,575.0 1576.6,575.0 1578.6,575.0 1580.6,575.0 1582.6,575.0 1584.6,575.0 1586.6,575.0 1588.6,575.0 1590.6,575.0 1592.6,575.0 1594.6,575.0 1596.6,574.9 1598.6,574.9 1600.6,574.9 1602.6,574.9 1604.6,574.9 1606.6,574.9 1608.6,574.9 1610.6,574.9 1612.6,574.9 1614.6,574.9 1616.6,574.9 1618.6,574.9 1620.6,574.9 1622.6,574.9 1624.6,574.9 1626.6,574.9 1628.6,574.9 1630.6,574.9 1632.6,574.9 1634.6,574.9 1636.6,574.9 1638.6,574.9 1640.6,574.9 1642.6,574.9 1644.6,574.9 1646.6,574.9 1648.6,574.9 1650.6,574.9 1652.6,574.9 1654.6,574.9 1656.6,574.8 1658.6,574.8 1660.6,574.8 1662.6,574.8 1664.6,574.8 1666.6,574.8 1668.6,574.8 1670.6,574.8 1672.6,574.8 1674.6,574.8 1676.6,574.8 1678.6,574.8 1680.6,574.8 1682.6,574.8 1684.6,574.8 1686.6,574.8 1688.6,574.8 1690.6,574.8 1692.6,574.8 1694.6,574.8 1696.6,574.8 1698.6,574.8 1700.6,574.8 1702.6,574.8 1704.6,574.8 1706.6,574.8 1708.6,574.8 1710.6,574.8 1712.6,574.8 1714.6,574.8 1716.6,574.8 1718.6,574.8 1720.6,574.8 1722.6,574.8 1724.6,574.8 1726.6,574.8 1728.6,574.8 1730.6,574.8 1732.6,574.8 1734.6,574.8 1736.6,574.8 1738.6,574.8 1740.6,574.8 1742.6,574.8 1744.6,574.8 1746.6,574.8 1748.6,574.8 1750.6,574.8 1752.6,574.8 1754.6,574.8 1756.6,574.8 1758.6,574.8 1760.6,574.8 1762.6,574.8 1764.6,574.8 1766.6,574.8 1768.6,574.8 1770.6,574.8 1772.6,574.8 1774.6,574.8 1776.6,574.8 1778.6,574.8 1780.6,574.8 1782.6,574.8 1784.6,574.8 1786.6,574.8 1788.6,574.8 1790.6,574.8 1792.6,574.8 1794.6,574.8 1796.6,574.8 1798.6,574.8 1800.6,574.8 1802.6,574.8 1804.6,574.8 1806.6,574.8 1808.6,574.8 1810.6,574.8 1812.6,574.8 1814.6,574.8 1816.6,574.8 1818.6,574.8 1820.6,574.8 1822.6,574.8 1824.6,574.8 1826.6,574.8 1828.6,574.8 1830.6,574.8 1832.6,574.8 1834.6,574.8 1836.6,574.8 1838.6,574.8 1840.6,574.8 1842.6,574.8 1844.6,574.8 1846.6,574.8 1848.6,574.8 1850.6,574.8 1852.6,574.8 1854.6,574.8 1856.6,574.8 1858.6,574.8 1860.6,574.8 1862.6,574.8 1864.6,574.8 1866.6,574.8 1868.6,574.8 1870.6,574.8 1872.6,574.8 1874.6,574.8 1876.6,574.8 1878.6,574.8 1880.6,574.8 1882.6,574.8 1884.6,574.8 1886.6,574.8 1888.6,574.8 1890.6,574.8 1892.6,574.8 1894.6,574.8 1896.6,574.8 1898.6,574.8 1900.6,574.8 1902.6,574.8 1904.6,574.8 1906.6,574.8 1908.6,574.8 1910.6,574.8 1912.6,574.8 1914.6,574.8 1916.6,574.8 1918.6,574.8 1920.6,574.8 1922.6,574.8 1924.6,574.8 1926.6,574.8 1928.6,574.8 1929.0,574.8" fill="none" stroke="#0000ff" stroke-width="5.5" stroke-linejoin="round" stroke-linecap="butt"/>
<polyline points="768.6,935.3 770.6,935.3 772.6,935.3 774.6,935.3 776.6,935.3 778.6,935.2 780.6,935.2 782.6,935.1 784.6,935.0 786.6,934.8 788.6,934.6 790.6,934.4 792.6,934.2 794.6,934.0 796.6,933.7 798.6,933.4 800.6,933.1 802.6,932.8 804.6,932.4 806.6,932.1 808.6,931.7 810.6,931.3 812.6,930.9 814.6,930.4 816.6,930.0 818.6,929.5 820.6,929.0 822.6,928.5 824.6,928.0 826.6,927.4 828.6,926.9 830.6,926.3 832.6,925.7 834.6,925.0 836.6,924.0 838.6,922.7 840.6,920.9 842.6,918.7 844.6,916.2 846.6,913.3 848.6,910.1 850.6,906.7 852.6,903.2 854.6,899.4 856.6,895.5 858.6,891.5 860.6,887.4 862.6,883.2 864.6,878.9 866.6,874.6 868.6,870.3 870.6,866.0 872.6,861.6 874.6,857.2 876.6,852.9 878.6,848.6 880.6,844.3 882.6,840.1 884.6,835.9 886.6,831.8 888.6,827.8 890.6,823.8 892.6,819.9 894.6,816.0 896.6,812.3 898.6,808.6 900.6,805.0 902.6,801.5 904.6,798.1 906.6,794.8 908.6,791.6 910.6,788.4 912.6,785.4 914.6,782.4 916.6,779.5 918.6,776.7 920.6,774.0 922.6,771.4 924.6,768.8 926.6,766.3 928.6,764.0 930.6,761.6 932.6,759.4 934.6,757.2 936.6,755.1 938.6,753.1 940.6,751.1 942.6,749.2 944.6,747.3 946.6,745.5 948.6,743.7 950.6,742.0 952.6,740.4 954.6,738.8 956.6,737.2 958.6,735.7 960.6,734.3 962.6,732.8 964.6,731.4 966.6,730.1 968.6,728.7 970.6,727.5 972.6,726.2 974.6,725.0 976.6,723.8 978.6,722.6 980.6,721.4 982.6,720.3 984.6,719.2 986.6,718.1 988.6,717.0 990.6,716.0 992.6,715.0 994.6,714.0 996.6,713.0 998.6,712.0 1000.6,711.0 1002.6,710.1 1004.6,709.2 1006.6,708.2 1008.6,707.3 1010.6,706.4 1012.6,705.6 1014.6,704.7 1016.6,703.8 1018.6,703.0 1020.6,702.1 1022.6,701.3 1024.6,700.5 1026.6,699.7 1028.6,698.9 1030.6,698.1 1032.6,697.3 1034.6,696.6 1036.6,695.8 1038.6,695.0 1040.6,694.3 1042.6,693.6 1044.6,692.8 1046.6,692.1 1048.6,691.4 1050.6,690.7 1052.6,690.0 1054.6,689.3 1056.6,688.6 1058.6,688.0 1060.6,687.3 1062.6,686.6 1064.6,686.0 1066.6,685.3 1068.6,684.7 1070.6,684.1 1072.6,683.4 1074.6,682.8 1076.6,682.2 1078.6,681.6 1080.6,681.0 1082.6,680.4 1084.6,679.8 1086.6,679.3 1088.6,678.7 1090.6,678.1 1092.6,677.6 1094.6,677.0 1096.6,676.5 1098.6,676.0 1100.6,675.4 1102.6,674.9 1104.6,674.4 1106.6,673.9 1108.6,673.4 1110.6,672.9 1112.6,672.4 1114.6,671.9 1116.6,671.5 1118.6,671.0 1120.6,670.5 1122.6,670.1 1124.6,669.6 1126.6,669.2 1128.6,668.8 1130.6,668.3 1132.6,667.9 1134.6,667.5 1136.6,667.1 1138.6,666.7 1140.6,666.3 1142.6,665.9 1144.6,665.5 1146.6,665.1 1148.6,664.8 1150.6,664.4 1152.6,664.0 1154.6,663.7 1156.6,663.3 1158.6,663.0 1160.6,662.6 1162.6,662.3 1164.6,662.0 1166.6,661.6 1168.6,661.3 1170.6,661.0 1172.6,660.7 1174.6,660.4 1176.6,660.1 1178.6,659.8 1180.6,659.5 1182.6,659.2 1184.6,658.9 1186.6,658.7 1188.6,658.4 1190.6,658.1 1192.6,657.9 1194.6,657.6 1196.6,657.4 1198.6,657.1 1200.6,656.9 1202.6,656.6 1204.6,656.4 1206.6,656.2 1208.6,655.9 1210.6,655.7 1212.6,655.5 1214.6,655.3 1216.6,655.1 1218.6,654.9 1220.6,654.7 1222.6,654.5 1224.6,654.3 1226.6,654.1 1228.6,653.9 1230.6,653.7 1232.6,653.5 1234.6,653.4 1236.6,653.2 1238.6,653.0 1240.6,652.9 1242.6,652.7 1244.6,652.5 1246.6,652.4 1248.6,652.2 1250.6,652.1 1252.6,651.9 1254.6,651.8 1256.6,651.6 1258.6,651.5 1260.6,651.4 1262.6,651.2 1264.6,651.1 1266.6,651.0 1268.6,650.9 1270.6,650.7 1272.6,650.6 1274.6,650.5 1276.6,650.4 1278.6,650.3 1280.6,650.2 1282.6,650.1 1284.6,650.0 1286.6,649.9 1288.6,649.8 1290.6,649.7 1292.6,649.6 1294.6,649.5 1296.6,649.4 1298.6,649.3 1300.6,649.2 1302.6,649.1 1304.6,649.0 1306.6,648.9 1308.6,648.9 1310.6,648.8 1312.6,648.7 1314.6,648.6 1316.6,648.6 1318.6,648.5 1320.6,648.4 1322.6,648.4 1324.6,648.3 1326.6,648.2 1328.6,648.2 1330.6,648.1 1332.6,648.0 1334.6,648.0 1336.6,647.9 1338.6,647.9 1340.6,647.8 1342.6,647.8 1344.6,647.7 1346.6,647.7 1348.6,647.6 1350.6,647.6 1352.6,647.5 1354.6,647.5 1356.6,647.4 1358.6,647.4 1360.6,647.3 1362.6,647.3 1364.6,647.3 1366.6,647.2 1368.6,647.2 1370.6,647.2 1372.6,647.1 1374.6,647.1 1376.6,647.0 1378.6,647.0 1380.6,647.0 1382.6,646.9 1384.6,646.9 1386.6,646.9 1388.6,646.9 1390.6,646.8 1392.6,646.8 1394.6,646.8 1396.6,646.7 1398.6,646.7 1400.6,646.7 1402.6,646.7 1404.6,646.7 1406.6,646.6 1408.6,646.6 1410.6,646.6 1412.6,646.6 1414.6,646.5 1416.6,646.5 1418.6,646.5 1420.6,646.5 1422.6,646.5 1424.6,646.4 1426.6,646.4 1428.6,646.4 1430.6,646.4 1432.6,646.4 1434.6,646.4 1436.6,646.4 1438.6,646.3 1440.6,646.3 1442.6,646.3 1444.6,646.3 1446.6,646.3 1448.6,646.3 1450.6,646.3 1452.6,646.2 1454.6,646.2 1456.6,646.2 1458.6,646.2 1460.6,646.2 1462.6,646.2 1464.6,646.2 1466.6,646.2 1468.6,646.2 1470.6,646.2 1472.6,646.1 1474.6,646.1 1476.6,646.1 1478.6,646.1 1480.6,646.1 1482.6,646.1 1484.6,646.1 1486.6,646.1 1488.6,646.1 1490.6,646.1 1492.6,646.1 1494.6,646.1 1496.6,646.1 1498.6,646.0 1500.6,646.0 1502.6,646.0 1504.6,646.0 1506.6,646.0 1508.6,646.0 1510.6,646.0 1512.6,646.0 1514.6,646.0 1516.6,646.0 1518.6,646.0 1520.6,646.0 1522.6,646.0 1524.6,646.0 1526.6,646.0 1528.6,646.0 1530.6,646.0 1532.6,646.0 1534.6,646.0 1536.6,646.0 1538.6,646.0 1540.6,646.0 1542.6,646.0 1544.6,646.0 1546.6,646.0 1548.6,645.9 1550.6,645.9 1552.6,645.9 1554.6,645.9 1556.6,645.9 1558.6,645.9 1560.6,645.9 1562.6,645.9 1564.6,645.9 1566.6,645.9 1568.6,645.9 1570.6,645.9 1572.6,645.9 1574.6,645.9 1576.6,645.9 1578.6,645.9 1580.6,645.9 1582.6,645.9 1584.6,645.9 1586.6,645.9 1588.6,645.9 1590.6,645.9 1592.6,645.9 1594.6,645.9 1596.6,645.9 1598.6,645.9 1600.6,645.9 1602.6,645.9 1604.6,645.9 1606.6,645.9 1608.6,645.9 1610.6,645.9 1612.6,645.9 1614.6,645.9 1616.6,645.9 1618.6,645.9 1620.6,645.9 1622.6,645.9 1624.6,645.9 1626.6,645.9 1628.6,645.9 1630.6,645.9 1632.6,645.9 1634.6,645.9 1636.6,645.9 1638.6,645.9 1640.6,645.9 1642.6,645.9 1644.6,645.9 1646.6,645.9 1648.6,645.9 1650.6,645.9 1652.6,645.9 1654.6,645.9 1656.6,645.9 1658.6,645.9 1660.6,645.9 1662.6,645.9 1664.6,645.9 1666.6,645.9 1668.6,645.9 1670.6,645.9 1672.6,645.9 1674.6,645.9 1676.6,645.9 1678.6,645.9 1680.6,645.9 1682.6,645.9 1684.6,645.9 1686.6,645.9 1688.6,645.9 1690.6,645.9 1692.6,645.9 1694.6,645.9 1696.6,645.9 1698.6,645.9 1700.6,645.9 1702.6,645.9 1704.6,645.9 1706.6,645.9 1708.6,645.9 1710.6,645.9 1712.6,645.9 1714.6,645.9 1716.6,645.9 1718.6,645.9 1720.6,645.9 1722.6,645.9 1724.6,645.9 1726.6,645.9 1728.6,645.9 1730.6,645.9 1732.6,645.9 1734.6,645.9 1736.6,645.9 1738.6,645.9 1740.6,645.9 1742.6,645.9 1744.6,645.9 1746.6,645.9 1748.6,645.9 1750.6,645.9 1752.6,645.9 1754.6,645.9 1756.6,645.9 1758.6,645.9 1760.6,645.9 1762.6,645.9 1764.6,645.9 1766.6,645.9 1768.6,645.9 1770.6,645.9 1772.6,645.9 1774.6,645.9 1776.6,645.9 1778.6,645.9 1780.6,645.9 1782.6,645.9 1784.6,645.9 1786.6,645.9 1788.6,645.9 1790.6,645.9 1792.6,645.9 1794.6,645.9 1796.6,645.9 1798.6,645.9 1800.6,645.9 1802.6,645.9 1804.6,645.9 1806.6,645.9 1808.6,645.9 1810.6,645.9 1812.6,645.9 1814.6,645.9 1816.6,645.9 1818.6,645.9 1820.6,645.9 1822.6,645.9 1824.6,645.9 1826.6,645.9 1828.6,645.9 1830.6,645.9 1832.6,645.9 1834.6,645.9 1836.6,645.9 1838.6,645.9 1840.6,645.9 1842.6,645.9 1844.6,645.9 1846.6,645.9 1848.6,645.9 1850.6,645.9 1852.6,645.9 1854.6,645.9 1856.6,645.9 1858.6,645.9 1860.6,645.9 1862.6,645.9 1864.6,645.9 1866.6,645.9 1868.6,645.9 1870.6,645.9 1872.6,645.9 1874.6,645.9 1876.6,645.9 1878.6,645.9 1880.6,645.9 1882.6,645.9 1884.6,645.9 1886.6,645.9 1888.6,645.9 1890.6,645.9 1892.6,645.9 1894.6,645.9 1896.6,645.9 1898.6,645.9 1900.6,645.9 1902.6,645.9 1904.6,645.9 1906.6,645.9 1908.6,645.9 1910.6,645.9 1912.6,645.9 1914.6,645.9 1916.6,645.9 1918.6,645.9 1920.6,645.9 1922.6,645.9 1924.6,645.9 1926.6,645.9 1928.6,645.9 1929.0,645.9" fill="none" stroke="#008000" stroke-width="5.5" stroke-linejoin="round" stroke-linecap="butt"/>
<line x1="1057.0" y1="589.0" x2="1057.0" y2="935.3" stroke="#000" stroke-width="4.5" stroke-dasharray="21 16" stroke-dashoffset="0"/>
<line x1="1345.0" y1="548.0" x2="1345.0" y2="935.3" stroke="#000" stroke-width="4.5" stroke-dasharray="21 16" stroke-dashoffset="0"/>
<line x1="1637.5" y1="543.0" x2="1637.5" y2="935.3" stroke="#000" stroke-width="4.5" stroke-dasharray="21 16" stroke-dashoffset="0"/>
<line x1="1928.3" y1="526.5" x2="1928.3" y2="935.3" stroke="#000" stroke-width="4.5" stroke-dasharray="21 16" stroke-dashoffset="0"/>
<polygon points="247.5,1542.5 247.5,1542.3 249.5,1542.3 251.5,1542.3 253.5,1542.3 255.5,1542.3 257.5,1542.3 259.5,1542.2 261.5,1542.2 263.5,1542.2 265.5,1542.2 267.5,1542.2 269.5,1542.1 271.5,1542.1 273.5,1542.1 275.5,1542.0 277.5,1542.0 279.5,1542.0 281.5,1542.0 283.5,1541.9 285.5,1541.9 287.5,1541.8 289.5,1541.8 291.5,1541.8 293.5,1541.7 295.5,1541.7 297.5,1541.6 299.5,1541.6 301.5,1541.5 303.5,1541.4 305.5,1541.4 307.5,1541.3 309.5,1541.2 311.5,1541.2 313.5,1541.1 315.5,1541.0 317.5,1540.9 319.5,1540.8 321.5,1540.7 323.5,1540.7 325.5,1540.5 327.5,1540.4 329.5,1540.3 331.5,1540.2 333.5,1540.1 335.5,1540.0 337.5,1539.8 339.5,1539.7 341.5,1539.5 343.5,1539.4 345.5,1539.2 347.5,1539.0 349.5,1538.8 351.5,1538.7 353.5,1538.5 355.5,1538.3 357.5,1538.0 359.5,1537.8 361.5,1537.6 363.5,1537.3 365.5,1537.1 367.5,1536.7 369.5,1536.4 371.5,1536.0 373.5,1535.6 375.5,1535.2 377.5,1534.8 379.5,1534.3 381.5,1533.8 383.5,1533.3 385.5,1532.8 387.5,1532.3 389.5,1531.7 391.5,1531.1 393.5,1530.5 395.5,1529.9 397.5,1529.3 399.5,1528.6 401.5,1527.9 403.5,1527.2 405.5,1526.4 407.5,1525.6 409.5,1524.8 411.5,1524.0 413.5,1523.1 415.5,1522.2 417.5,1521.3 419.5,1520.4 421.5,1519.4 423.5,1518.4 425.5,1517.4 427.5,1516.3 429.5,1515.3 431.5,1514.2 433.5,1513.0 435.5,1511.9 437.5,1510.7 439.5,1509.5 441.5,1508.2 443.5,1507.0 445.5,1505.7 447.5,1504.4 449.5,1503.1 451.5,1501.7 453.5,1500.4 455.5,1499.0 457.5,1497.6 459.5,1496.2 461.5,1494.8 463.5,1493.3 465.5,1491.9 467.5,1490.4 469.5,1488.9 471.5,1487.4 473.5,1486.0 475.5,1484.5 477.5,1483.0 479.5,1481.5 481.5,1480.0 483.5,1478.5 485.5,1477.0 487.5,1475.5 489.5,1474.0 491.5,1472.5 493.5,1471.0 495.5,1469.5 497.5,1468.0 499.5,1466.5 501.5,1465.1 503.5,1463.6 505.5,1462.2 507.5,1460.8 509.5,1459.4 511.5,1458.0 513.5,1456.7 515.5,1455.3 517.5,1454.0 519.5,1452.7 521.5,1451.4 523.5,1450.2 525.5,1448.9 527.5,1447.7 529.5,1446.5 531.5,1445.4 533.5,1444.2 535.5,1443.1 537.5,1442.0 539.5,1441.0 541.5,1439.9 543.5,1438.9 545.5,1437.9 547.5,1436.9 549.5,1435.9 551.5,1435.0 553.5,1434.1 555.5,1433.2 557.5,1432.3 559.5,1431.4 561.5,1430.5 563.5,1429.7 565.5,1428.8 567.5,1428.0 569.5,1427.2 571.5,1426.4 573.5,1425.6 575.5,1424.8 577.5,1424.1 579.5,1423.0 581.5,1421.9 583.5,1420.8 585.5,1419.7 587.5,1418.7 589.5,1417.6 591.5,1416.5 593.5,1415.4 595.5,1414.3 597.5,1413.2 599.5,1412.0 601.5,1410.7 603.5,1409.3 605.5,1407.8 607.5,1406.1 609.5,1404.5 611.5,1402.7 613.5,1401.0 615.5,1399.3 617.5,1397.7 619.5,1396.2 621.5,1394.6 623.5,1393.1 625.5,1391.7 627.5,1390.2 629.5,1388.8 631.5,1387.3 633.5,1385.9 635.5,1384.5 637.5,1383.2 639.5,1381.8 641.5,1380.5 643.5,1379.2 645.5,1378.0 647.5,1376.8 649.5,1375.5 651.5,1374.3 653.5,1373.2 655.5,1372.0 657.5,1370.9 659.5,1369.8 661.5,1368.7 663.5,1367.6 665.5,1366.5 667.5,1365.5 669.5,1364.4 671.5,1363.4 673.5,1362.4 675.5,1361.4 677.5,1360.4 679.5,1359.5 681.5,1358.5 683.5,1357.6 685.5,1356.7 687.5,1355.8 689.5,1354.9 691.5,1354.0 693.5,1353.1 695.5,1352.2 697.5,1351.4 699.5,1350.5 701.5,1349.7 703.5,1348.9 705.5,1348.1 707.5,1347.3 709.5,1346.5 711.5,1345.7 713.5,1344.9 715.5,1344.2 717.5,1343.4 719.5,1342.7 721.5,1342.0 723.5,1341.2 725.5,1340.5 727.5,1339.8 729.5,1339.1 731.5,1338.4 733.5,1337.7 735.5,1337.0 737.5,1336.4 739.5,1335.7 741.5,1335.0 743.5,1334.4 745.5,1333.7 747.5,1333.1 749.5,1332.4 751.5,1331.8 753.5,1331.2 755.5,1330.6 757.5,1330.0 759.5,1329.4 761.5,1328.8 763.5,1328.2 765.5,1327.6 767.5,1327.0 769.5,1326.5 771.5,1325.9 773.5,1325.3 775.5,1324.8 777.5,1324.3 779.5,1323.7 781.5,1323.2 783.5,1322.7 785.5,1322.2 787.5,1321.7 789.5,1321.2 791.5,1320.7 793.5,1320.2 795.5,1319.8 797.5,1319.3 799.5,1318.8 801.5,1318.4 803.5,1318.0 805.5,1317.5 807.5,1317.1 809.5,1316.7 811.5,1316.2 813.5,1315.8 815.5,1315.4 817.5,1315.0 819.5,1314.5 821.5,1314.1 823.5,1313.7 825.5,1313.3 827.5,1312.9 829.5,1312.5 831.5,1312.1 833.5,1311.7 835.5,1311.3 837.5,1310.9 839.5,1310.5 841.5,1310.1 843.5,1309.7 845.5,1309.4 847.5,1309.0 849.5,1308.6 851.5,1308.3 853.5,1307.9 855.5,1307.6 857.5,1307.2 859.5,1306.9 861.5,1306.5 863.5,1306.2 865.5,1305.9 867.5,1305.5 869.5,1305.2 871.5,1304.9 873.5,1304.5 875.5,1304.2 877.5,1303.9 879.5,1303.5 881.5,1303.2 883.5,1302.9 885.5,1302.6 887.5,1302.3 889.5,1301.9 891.5,1301.6 893.5,1301.3 895.5,1301.0 897.5,1300.7 899.5,1300.4 901.5,1300.1 903.5,1299.8 905.5,1299.4 907.5,1299.1 909.5,1298.8 911.5,1298.5 913.5,1298.2 915.5,1297.9 917.5,1297.6 919.5,1297.3 921.5,1297.0 923.5,1296.7 925.5,1296.4 927.5,1296.1 929.5,1295.9 931.5,1295.6 933.5,1295.3 935.5,1295.1 937.5,1294.8 939.5,1294.6 941.5,1294.3 943.5,1294.1 945.5,1293.8 947.5,1293.6 949.5,1293.3 951.5,1293.1 953.5,1292.9 955.5,1292.6 957.5,1292.4 959.5,1292.2 961.5,1291.9 963.5,1291.7 965.5,1291.5 967.5,1291.2 969.5,1291.0 971.5,1290.8 973.5,1290.6 975.5,1290.4 977.5,1290.1 979.5,1289.9 981.5,1289.7 983.5,1289.5 985.5,1289.3 987.5,1289.0 989.5,1288.8 991.5,1288.6 993.5,1288.4 995.5,1288.2 997.5,1287.9 999.5,1287.7 1001.5,1287.5 1003.5,1287.3 1005.5,1287.1 1007.5,1286.8 1009.5,1286.6 1011.5,1286.4 1013.5,1286.2 1015.5,1285.9 1017.5,1285.7 1019.5,1285.5 1021.5,1285.2 1023.5,1285.0 1025.5,1284.8 1027.5,1284.5 1029.5,1284.3 1031.5,1284.0 1033.5,1283.8 1035.5,1283.6 1037.5,1283.3 1039.5,1283.1 1041.5,1282.9 1043.5,1282.7 1045.5,1282.4 1047.5,1282.2 1049.5,1282.0 1051.5,1281.8 1053.5,1281.6 1055.5,1281.4 1057.5,1281.2 1059.5,1281.0 1061.5,1280.8 1063.5,1280.7 1065.5,1280.5 1067.5,1280.3 1069.5,1280.1 1071.5,1279.9 1073.5,1279.7 1075.5,1279.6 1077.5,1279.4 1079.5,1279.2 1081.5,1279.0 1083.5,1278.9 1085.5,1278.7 1087.5,1278.5 1089.5,1278.4 1091.5,1278.2 1093.5,1278.0 1095.5,1277.9 1097.5,1277.7 1099.5,1277.6 1101.5,1277.4 1103.5,1277.2 1105.5,1277.1 1107.5,1276.9 1109.5,1276.8 1111.5,1276.6 1113.5,1276.5 1115.5,1276.3 1117.5,1276.2 1119.5,1276.0 1121.5,1275.9 1123.5,1275.7 1125.5,1275.6 1127.5,1275.4 1129.5,1275.3 1131.5,1275.1 1133.5,1275.0 1135.5,1274.8 1137.5,1274.7 1139.5,1274.5 1141.5,1274.4 1143.5,1274.2 1145.5,1274.1 1147.5,1273.9 1149.5,1273.8 1151.5,1273.7 1153.5,1273.5 1155.5,1273.4 1157.5,1273.2 1159.5,1273.1 1161.5,1273.0 1163.5,1272.8 1165.5,1272.7 1167.5,1272.6 1169.5,1272.5 1171.5,1272.3 1173.5,1272.2 1175.5,1272.1 1177.5,1272.0 1179.5,1271.9 1181.5,1271.7 1183.5,1271.6 1185.5,1271.5 1187.5,1271.4 1189.5,1271.3 1191.5,1271.2 1193.5,1271.1 1195.5,1271.0 1197.5,1270.9 1199.5,1270.8 1201.5,1270.7 1203.5,1270.6 1205.5,1270.5 1207.5,1270.4 1209.5,1270.3 1211.5,1270.2 1213.5,1270.1 1215.5,1270.0 1217.5,1269.9 1219.5,1269.8 1221.5,1269.7 1223.5,1269.6 1225.5,1269.5 1227.5,1269.4 1229.5,1269.4 1231.5,1269.3 1233.5,1269.2 1235.5,1269.1 1237.5,1269.0 1239.5,1268.9 1241.5,1268.8 1243.5,1268.8 1245.5,1268.7 1247.5,1268.6 1249.5,1268.5 1251.5,1268.4 1253.5,1268.4 1255.5,1268.3 1257.5,1268.2 1259.5,1268.1 1261.5,1268.1 1263.5,1268.0 1265.5,1267.9 1267.5,1267.8 1269.5,1267.8 1271.5,1267.7 1273.5,1267.6 1275.5,1267.6 1277.5,1267.5 1279.5,1267.4 1281.5,1267.3 1283.5,1267.3 1285.5,1267.2 1287.5,1267.1 1289.5,1267.1 1291.5,1267.0 1293.5,1266.9 1295.5,1266.9 1297.5,1266.8 1299.5,1266.7 1301.5,1266.7 1303.5,1266.6 1305.5,1266.6 1307.5,1266.5 1309.5,1266.4 1311.5,1266.4 1313.5,1266.3 1315.5,1266.2 1317.5,1266.2 1319.5,1266.1 1321.5,1266.1 1323.5,1266.0 1325.5,1265.9 1327.5,1265.9 1329.5,1265.8 1331.5,1265.8 1333.5,1265.7 1335.5,1265.6 1337.5,1265.6 1339.5,1265.5 1341.5,1265.5 1343.5,1265.4 1345.5,1265.3 1347.5,1265.3 1349.5,1265.2 1351.5,1265.2 1353.5,1265.1 1355.5,1265.0 1357.5,1265.0 1359.5,1264.9 1361.5,1264.9 1363.5,1264.8 1365.5,1264.7 1367.5,1264.7 1369.5,1264.6 1371.5,1264.6 1373.5,1264.5 1375.5,1264.5 1377.5,1264.4 1379.5,1264.3 1381.5,1264.3 1383.5,1264.2 1385.5,1264.2 1387.5,1264.1 1389.5,1264.1 1391.5,1264.0 1393.5,1264.0 1395.5,1263.9 1397.5,1263.9 1399.5,1263.8 1401.5,1263.7 1403.5,1263.7 1405.5,1263.6 1407.5,1263.6 1409.5,1263.5 1411.5,1263.5 1413.5,1263.4 1415.5,1263.4 1417.5,1263.3 1419.5,1263.3 1421.5,1263.2 1423.5,1263.2 1425.5,1263.1 1427.5,1263.1 1429.5,1263.0 1431.5,1263.0 1433.5,1262.9 1435.5,1262.9 1437.5,1262.8 1439.5,1262.8 1441.5,1262.7 1443.5,1262.7 1445.5,1262.6 1447.5,1262.6 1449.5,1262.5 1451.5,1262.5 1453.5,1262.4 1455.5,1262.4 1457.5,1262.3 1459.5,1262.3 1461.5,1262.2 1463.5,1262.2 1465.5,1262.1 1467.5,1262.1 1469.5,1262.0 1471.5,1262.0 1473.5,1261.9 1475.5,1261.9 1477.5,1261.8 1479.5,1261.8 1481.5,1261.7 1483.5,1261.7 1485.5,1261.6 1487.5,1261.6 1489.5,1261.5 1491.5,1261.5 1493.5,1261.5 1495.5,1261.4 1497.5,1261.4 1499.5,1261.3 1501.5,1261.3 1503.5,1261.2 1505.5,1261.2 1507.5,1261.1 1509.5,1261.1 1511.5,1261.1 1513.5,1261.0 1515.5,1261.0 1517.5,1260.9 1519.5,1260.9 1521.5,1260.8 1523.5,1260.8 1525.5,1260.8 1527.5,1260.7 1529.5,1260.7 1531.5,1260.6 1533.5,1260.6 1535.5,1260.6 1537.5,1260.5 1539.5,1260.5 1541.5,1260.4 1543.5,1260.4 1545.5,1260.4 1547.5,1260.3 1549.5,1260.3 1551.5,1260.3 1553.5,1260.2 1555.5,1260.2 1557.5,1260.2 1559.5,1260.1 1561.5,1260.1 1563.5,1260.1 1565.5,1260.0 1567.5,1260.0 1569.5,1260.0 1571.5,1259.9 1573.5,1259.9 1575.5,1259.9 1577.5,1259.8 1579.5,1259.8 1581.5,1259.8 1583.5,1259.8 1585.5,1259.7 1587.5,1259.7 1589.5,1259.7 1591.5,1259.6 1593.5,1259.6 1595.5,1259.6 1597.5,1259.5 1599.5,1259.5 1601.5,1259.5 1603.5,1259.4 1605.5,1259.4 1607.5,1259.4 1609.5,1259.4 1611.5,1259.3 1613.5,1259.3 1615.5,1259.3 1617.5,1259.2 1619.5,1259.2 1621.5,1259.2 1623.5,1259.2 1625.5,1259.1 1627.5,1259.1 1629.5,1259.1 1631.5,1259.0 1633.5,1259.0 1635.5,1259.0 1637.5,1259.0 1639.5,1258.9 1641.5,1258.9 1643.5,1258.9 1645.5,1258.9 1647.5,1258.8 1649.5,1258.8 1651.5,1258.8 1653.5,1258.8 1655.5,1258.7 1657.5,1258.7 1659.5,1258.7 1661.5,1258.7 1663.5,1258.7 1665.5,1258.6 1667.5,1258.6 1669.5,1258.6 1669.5,1542.5" fill="#fff"/>
<polyline points="247.5,1543.3 249.5,1543.3 251.5,1543.3 253.5,1543.3 255.5,1543.3 257.5,1543.3 259.5,1543.3 261.5,1543.3 263.5,1543.2 265.5,1543.2 267.5,1543.2 269.5,1543.2 271.5,1543.2 273.5,1543.2 275.5,1543.2 277.5,1543.2 279.5,1543.2 281.5,1543.1 283.5,1543.1 285.5,1543.1 287.5,1543.1 289.5,1543.0 291.5,1543.0 293.5,1543.0 295.5,1543.0 297.5,1542.9 299.5,1542.9 301.5,1542.8 303.5,1542.8 305.5,1542.7 307.5,1542.7 309.5,1542.6 311.5,1542.6 313.5,1542.5 315.5,1542.4 317.5,1542.3 319.5,1542.3 321.5,1542.2 323.5,1542.1 325.5,1542.0 327.5,1541.9 329.5,1541.7 331.5,1541.6 333.5,1541.5 335.5,1541.3 337.5,1541.2 339.5,1541.0 341.5,1540.9 343.5,1540.7 345.5,1540.5 347.5,1540.3 349.5,1540.1 351.5,1539.8 353.5,1539.6 355.5,1539.3 357.5,1539.1 359.5,1538.8 361.5,1538.5 363.5,1538.2 365.5,1537.9 367.5,1537.5 369.5,1537.2 371.5,1536.8 373.5,1536.4 375.5,1536.0 377.5,1535.6 379.5,1535.1 381.5,1534.6 383.5,1534.1 385.5,1533.6 387.5,1533.1 389.5,1532.5 391.5,1531.9 393.5,1531.3 395.5,1530.7 397.5,1530.1 399.5,1529.4 401.5,1528.7 403.5,1528.0 405.5,1527.2 407.5,1526.4 409.5,1525.6 411.5,1524.8 413.5,1523.9 415.5,1523.0 417.5,1522.1 419.5,1521.2 421.5,1520.2 423.5,1519.2 425.5,1518.2 427.5,1517.1 429.5,1516.1 431.5,1515.0 433.5,1513.8 435.5,1512.7 437.5,1511.5 439.5,1510.3 441.5,1509.0 443.5,1507.8 445.5,1506.5 447.5,1505.2 449.5,1503.9 451.5,1502.5 453.5,1501.2 455.5,1499.8 457.5,1498.4 459.5,1497.0 461.5,1495.6 463.5,1494.1 465.5,1492.7 467.5,1491.2 469.5,1489.7 471.5,1488.2 473.5,1486.8 475.5,1485.3 477.5,1483.8 479.5,1482.3 481.5,1480.8 483.5,1479.3 485.5,1477.8 487.5,1476.3 489.5,1474.8 491.5,1473.3 493.5,1471.8 495.5,1470.3 497.5,1468.8 499.5,1467.3 501.5,1465.9 503.5,1464.4 505.5,1463.0 507.5,1461.6 509.5,1460.2 511.5,1458.8 513.5,1457.5 515.5,1456.1 517.5,1454.8 519.5,1453.5 521.5,1452.2 523.5,1451.0 525.5,1449.7 527.5,1448.5 529.5,1447.3 531.5,1446.2 533.5,1445.0 535.5,1443.9 537.5,1442.8 539.5,1441.8 541.5,1440.7 543.5,1439.7 545.5,1438.7 547.5,1437.7 549.5,1436.7 551.5,1435.8 553.5,1434.9 555.5,1434.0 557.5,1433.1 559.5,1432.2 561.5,1431.3 563.5,1430.5 565.5,1429.6 567.5,1428.8 569.5,1428.0 571.5,1427.1 573.5,1426.2 575.5,1425.1 577.5,1424.1 579.5,1423.0 581.5,1421.9 583.5,1420.8 585.5,1419.7 587.5,1418.7 589.5,1417.6 591.5,1416.5 593.5,1415.4 595.5,1414.3 597.5,1413.2 599.5,1412.0 601.5,1410.7 603.5,1409.3 605.5,1407.8 607.5,1406.1 609.5,1404.5 611.5,1402.7 613.5,1401.0 615.5,1399.3 617.5,1397.7 619.5,1396.2 621.5,1394.6 623.5,1393.1 625.5,1391.7 627.5,1390.2 629.5,1388.8 631.5,1387.3 633.5,1385.9 635.5,1384.5 637.5,1383.2 639.5,1381.8 641.5,1380.5 643.5,1379.2 645.5,1378.0 647.5,1376.8 649.5,1375.5 651.5,1374.3 653.5,1373.2 655.5,1372.0 657.5,1370.9 659.5,1369.8 661.5,1368.7 663.5,1367.6 665.5,1366.5 667.5,1365.5 669.5,1364.4 671.5,1363.4 673.5,1362.4 675.5,1361.4 677.5,1360.4 679.5,1359.5 681.5,1358.5 683.5,1357.6 685.5,1356.7 687.5,1355.8 689.5,1354.9 691.5,1354.0 693.5,1353.1 695.5,1352.2 697.5,1351.4 699.5,1350.5 701.5,1349.7 703.5,1348.9 705.5,1348.1 707.5,1347.3 709.5,1346.5 711.5,1345.7 713.5,1344.9 715.5,1344.2 717.5,1343.4 719.5,1342.7 721.5,1342.0 723.5,1341.2 725.5,1340.5 727.5,1339.8 729.5,1339.1 731.5,1338.4 733.5,1337.7 735.5,1337.0 737.5,1336.4 739.5,1335.7 741.5,1335.0 743.5,1334.4 745.5,1333.7 747.5,1333.1 749.5,1332.4 751.5,1331.8 753.5,1331.2 755.5,1330.6 757.5,1330.0 759.5,1329.4 761.5,1328.8 763.5,1328.2 765.5,1327.6 767.5,1327.0 769.5,1326.5 771.5,1325.9 773.5,1325.3 775.5,1324.8 777.5,1324.3 779.5,1323.7 781.5,1323.2 783.5,1322.7 785.5,1322.2 787.5,1321.7 789.5,1321.2 791.5,1320.7 793.5,1320.2 795.5,1319.8 797.5,1319.3 799.5,1318.8 801.5,1318.4 803.5,1318.0 805.5,1317.5 807.5,1317.1 809.5,1316.7 811.5,1316.2 813.5,1315.8 815.5,1315.4 817.5,1315.0 819.5,1314.5 821.5,1314.1 823.5,1313.7 825.5,1313.3 827.5,1312.9 829.5,1312.5 831.5,1312.1 833.5,1311.7 835.5,1311.3 837.5,1310.9 839.5,1310.5 841.5,1310.1 843.5,1309.7 845.5,1309.4 847.5,1309.0 849.5,1308.6 851.5,1308.3 853.5,1307.9 855.5,1307.6 857.5,1307.2 859.5,1306.9 861.5,1306.5 863.5,1306.2 865.5,1305.9 867.5,1305.5 869.5,1305.2 871.5,1304.9 873.5,1304.5 875.5,1304.2 877.5,1303.9 879.5,1303.5 881.5,1303.2 883.5,1302.9 885.5,1302.6 887.5,1302.3 889.5,1301.9 891.5,1301.6 893.5,1301.3 895.5,1301.0 897.5,1300.7 899.5,1300.4 901.5,1300.1 903.5,1299.8 905.5,1299.4 907.5,1299.1 909.5,1298.8 911.5,1298.5 913.5,1298.2 915.5,1297.9 917.5,1297.6 919.5,1297.3 921.5,1297.0 923.5,1296.7 925.5,1296.4 927.5,1296.1 929.5,1295.9 931.5,1295.6 933.5,1295.3 935.5,1295.1 937.5,1294.8 939.5,1294.6 941.5,1294.3 943.5,1294.1 945.5,1293.8 947.5,1293.6 949.5,1293.3 951.5,1293.1 953.5,1292.9 955.5,1292.6 957.5,1292.4 959.5,1292.2 961.5,1291.9 963.5,1291.7 965.5,1291.5 967.5,1291.2 969.5,1291.0 971.5,1290.8 973.5,1290.6 975.5,1290.4 977.5,1290.1 979.5,1289.9 981.5,1289.7 983.5,1289.5 985.5,1289.3 987.5,1289.0 989.5,1288.8 991.5,1288.6 993.5,1288.4 995.5,1288.2 997.5,1287.9 999.5,1287.7 1001.5,1287.5 1003.5,1287.3 1005.5,1287.1 1007.5,1286.8 1009.5,1286.6 1011.5,1286.4 1013.5,1286.2 1015.5,1285.9 1017.5,1285.7 1019.5,1285.5 1021.5,1285.2 1023.5,1285.0 1025.5,1284.8 1027.5,1284.5 1029.5,1284.3 1031.5,1284.0 1033.5,1283.8 1035.5,1283.6 1037.5,1283.3 1039.5,1283.1 1041.5,1282.9 1043.5,1282.7 1045.5,1282.4 1047.5,1282.2 1049.5,1282.0 1051.5,1281.8 1053.5,1281.6 1055.5,1281.4 1057.5,1281.2 1059.5,1281.0 1061.5,1280.8 1063.5,1280.7 1065.5,1280.5 1067.5,1280.3 1069.5,1280.1 1071.5,1279.9 1073.5,1279.7 1075.5,1279.6 1077.5,1279.4 1079.5,1279.2 1081.5,1279.0 1083.5,1278.9 1085.5,1278.7 1087.5,1278.5 1089.5,1278.4 1091.5,1278.2 1093.5,1278.0 1095.5,1277.9 1097.5,1277.7 1099.5,1277.6 1101.5,1277.4 1103.5,1277.2 1105.5,1277.1 1107.5,1276.9 1109.5,1276.8 1111.5,1276.6 1113.5,1276.5 1115.5,1276.3 1117.5,1276.2 1119.5,1276.0 1121.5,1275.9 1123.5,1275.7 1125.5,1275.6 1127.5,1275.4 1129.5,1275.3 1131.5,1275.1 1133.5,1275.0 1135.5,1274.8 1137.5,1274.7 1139.5,1274.5 1141.5,1274.4 1143.5,1274.2 1145.5,1274.1 1147.5,1273.9 1149.5,1273.8 1151.5,1273.7 1153.5,1273.5 1155.5,1273.4 1157.5,1273.2 1159.5,1273.1 1161.5,1273.0 1163.5,1272.8 1165.5,1272.7 1167.5,1272.6 1169.5,1272.5 1171.5,1272.3 1173.5,1272.2 1175.5,1272.1 1177.5,1272.0 1179.5,1271.9 1181.5,1271.7 1183.5,1271.6 1185.5,1271.5 1187.5,1271.4 1189.5,1271.3 1191.5,1271.2 1193.5,1271.1 1195.5,1271.0 1197.5,1270.9 1199.5,1270.8 1201.5,1270.7 1203.5,1270.6 1205.5,1270.5 1207.5,1270.4 1209.5,1270.3 1211.5,1270.2 1213.5,1270.1 1215.5,1270.0 1217.5,1269.9 1219.5,1269.8 1221.5,1269.7 1223.5,1269.6 1225.5,1269.5 1227.5,1269.4 1229.5,1269.4 1231.5,1269.3 1233.5,1269.2 1235.5,1269.1 1237.5,1269.0 1239.5,1268.9 1241.5,1268.8 1243.5,1268.8 1245.5,1268.7 1247.5,1268.6 1249.5,1268.5 1251.5,1268.4 1253.5,1268.4 1255.5,1268.3 1257.5,1268.2 1259.5,1268.1 1261.5,1268.1 1263.5,1268.0 1265.5,1267.9 1267.5,1267.8 1269.5,1267.8 1271.5,1267.7 1273.5,1267.6 1275.5,1267.6 1277.5,1267.5 1279.5,1267.4 1281.5,1267.3 1283.5,1267.3 1285.5,1267.2 1287.5,1267.1 1289.5,1267.1 1291.5,1267.0 1293.5,1266.9 1295.5,1266.9 1297.5,1266.8 1299.5,1266.7 1301.5,1266.7 1303.5,1266.6 1305.5,1266.6 1307.5,1266.5 1309.5,1266.4 1311.5,1266.4 1313.5,1266.3 1315.5,1266.2 1317.5,1266.2 1319.5,1266.1 1321.5,1266.1 1323.5,1266.0 1325.5,1265.9 1327.5,1265.9 1329.5,1265.8 1331.5,1265.8 1333.5,1265.7 1335.5,1265.6 1337.5,1265.6 1339.5,1265.5 1341.5,1265.5 1343.5,1265.4 1345.5,1265.3 1347.5,1265.3 1349.5,1265.2 1351.5,1265.2 1353.5,1265.1 1355.5,1265.0 1357.5,1265.0 1359.5,1264.9 1361.5,1264.9 1363.5,1264.8 1365.5,1264.7 1367.5,1264.7 1369.5,1264.6 1371.5,1264.6 1373.5,1264.5 1375.5,1264.5 1377.5,1264.4 1379.5,1264.3 1381.5,1264.3 1383.5,1264.2 1385.5,1264.2 1387.5,1264.1 1389.5,1264.1 1391.5,1264.0 1393.5,1264.0 1395.5,1263.9 1397.5,1263.9 1399.5,1263.8 1401.5,1263.7 1403.5,1263.7 1405.5,1263.6 1407.5,1263.6 1409.5,1263.5 1411.5,1263.5 1413.5,1263.4 1415.5,1263.4 1417.5,1263.3 1419.5,1263.3 1421.5,1263.2 1423.5,1263.2 1425.5,1263.1 1427.5,1263.1 1429.5,1263.0 1431.5,1263.0 1433.5,1262.9 1435.5,1262.9 1437.5,1262.8 1439.5,1262.8 1441.5,1262.7 1443.5,1262.7 1445.5,1262.6 1447.5,1262.6 1449.5,1262.5 1451.5,1262.5 1453.5,1262.4 1455.5,1262.4 1457.5,1262.3 1459.5,1262.3 1461.5,1262.2 1463.5,1262.2 1465.5,1262.1 1467.5,1262.1 1469.5,1262.0 1471.5,1262.0 1473.5,1261.9 1475.5,1261.9 1477.5,1261.8 1479.5,1261.8 1481.5,1261.7 1483.5,1261.7 1485.5,1261.6 1487.5,1261.6 1489.5,1261.5 1491.5,1261.5 1493.5,1261.5 1495.5,1261.4 1497.5,1261.4 1499.5,1261.3 1501.5,1261.3 1503.5,1261.2 1505.5,1261.2 1507.5,1261.1 1509.5,1261.1 1511.5,1261.1 1513.5,1261.0 1515.5,1261.0 1517.5,1260.9 1519.5,1260.9 1521.5,1260.8 1523.5,1260.8 1525.5,1260.8 1527.5,1260.7 1529.5,1260.7 1531.5,1260.6 1533.5,1260.6 1535.5,1260.6 1537.5,1260.5 1539.5,1260.5 1541.5,1260.4 1543.5,1260.4 1545.5,1260.4 1547.5,1260.3 1549.5,1260.3 1551.5,1260.3 1553.5,1260.2 1555.5,1260.2 1557.5,1260.2 1559.5,1260.1 1561.5,1260.1 1563.5,1260.1 1565.5,1260.0 1567.5,1260.0 1569.5,1260.0 1571.5,1259.9 1573.5,1259.9 1575.5,1259.9 1577.5,1259.8 1579.5,1259.8 1581.5,1259.8 1583.5,1259.8 1585.5,1259.7 1587.5,1259.7 1589.5,1259.7 1591.5,1259.6 1593.5,1259.6 1595.5,1259.6 1597.5,1259.5 1599.5,1259.5 1601.5,1259.5 1603.5,1259.4 1605.5,1259.4 1607.5,1259.4 1609.5,1259.4 1611.5,1259.3 1613.5,1259.3 1615.5,1259.3 1617.5,1259.2 1619.5,1259.2 1621.5,1259.2 1623.5,1259.2 1625.5,1259.1 1627.5,1259.1 1629.5,1259.1 1631.5,1259.0 1633.5,1259.0 1635.5,1259.0 1637.5,1259.0 1639.5,1258.9 1641.5,1258.9 1643.5,1258.9 1645.5,1258.9 1647.5,1258.8 1649.5,1258.8 1651.5,1258.8 1653.5,1258.8 1655.5,1258.7 1657.5,1258.7 1659.5,1258.7 1661.5,1258.7 1663.5,1258.7 1665.5,1258.6 1667.5,1258.6 1669.5,1258.6" fill="none" stroke="#000" stroke-width="5.5" stroke-linejoin="round" stroke-linecap="butt"/>
<polyline points="247.5,1542.5 249.5,1542.5 251.5,1542.5 253.5,1542.5 255.5,1542.5 257.5,1542.5 259.5,1542.5 261.5,1542.5 263.5,1542.4 265.5,1542.4 267.5,1542.4 269.5,1542.4 271.5,1542.4 273.5,1542.4 275.5,1542.4 277.5,1542.4 279.5,1542.4 281.5,1542.3 283.5,1542.3 285.5,1542.3 287.5,1542.3 289.5,1542.2 291.5,1542.2 293.5,1542.2 295.5,1542.2 297.5,1542.1 299.5,1542.1 301.5,1542.0 303.5,1542.0 305.5,1541.9 307.5,1541.9 309.5,1541.8 311.5,1541.8 313.5,1541.7 315.5,1541.6 317.5,1541.5 319.5,1541.5 321.5,1541.4 323.5,1541.3 325.5,1541.2 327.5,1541.1 329.5,1540.9 331.5,1540.8 333.5,1540.7 335.5,1540.5 337.5,1540.4 339.5,1540.2 341.5,1540.1 343.5,1539.9 345.5,1539.7 347.5,1539.5 349.5,1539.3 351.5,1539.0 353.5,1538.8 355.5,1538.5 357.5,1538.3 359.5,1538.0 361.5,1537.7 363.5,1537.4 365.5,1537.1 367.5,1536.7 369.5,1536.4 371.5,1536.0 373.5,1535.6 375.5,1535.2 377.5,1534.8 379.5,1534.3 381.5,1533.8 383.5,1533.3 385.5,1532.8 387.5,1532.3 389.5,1531.7 391.5,1531.1 393.5,1530.5 395.5,1529.9 397.5,1529.3 399.5,1528.6 401.5,1527.9 403.5,1527.2 405.5,1526.4 407.5,1525.6 409.5,1524.8 411.5,1524.0 413.5,1523.1 415.5,1522.2 417.5,1521.3 419.5,1520.4 421.5,1519.4 423.5,1518.4 425.5,1517.4 427.5,1516.3 429.5,1515.3 431.5,1514.2 433.5,1513.0 435.5,1511.9 437.5,1510.7 439.5,1509.5 441.5,1508.2 443.5,1507.0 445.5,1505.7 447.5,1504.4 449.5,1503.1 451.5,1501.7 453.5,1500.4 455.5,1499.0 457.5,1497.6 459.5,1496.2 461.5,1494.8 463.5,1493.3 465.5,1491.9 467.5,1490.4 469.5,1488.9 471.5,1487.4 473.5,1486.0 475.5,1484.5 477.5,1483.0 479.5,1481.5 481.5,1480.0 483.5,1478.5 485.5,1477.0 487.5,1475.5 489.5,1474.0 491.5,1472.5 493.5,1471.0 495.5,1469.5 497.5,1468.0 499.5,1466.5 501.5,1465.1 503.5,1463.6 505.5,1462.2 507.5,1460.8 509.5,1459.4 511.5,1458.0 513.5,1456.7 515.5,1455.3 517.5,1454.0 519.5,1452.7 521.5,1451.4 523.5,1450.2 525.5,1448.9 527.5,1447.7 529.5,1446.5 531.5,1445.4 533.5,1444.2 535.5,1443.1 537.5,1442.0 539.5,1441.0 541.5,1439.9 543.5,1438.9 545.5,1437.9 547.5,1436.9 549.5,1435.9 551.5,1435.0 553.5,1434.1 555.5,1433.2 557.5,1432.3 559.5,1431.4 561.5,1430.5 563.5,1429.7 565.5,1428.8 567.5,1428.0 569.5,1427.2 571.5,1426.4 573.5,1425.6 575.5,1424.8 577.5,1424.1 579.5,1423.3 581.5,1422.5 583.5,1421.8 585.5,1421.0 587.5,1420.3 589.5,1419.6 591.5,1418.8 593.5,1418.1 595.5,1417.4 597.5,1416.6 599.5,1415.9 601.5,1415.2 603.5,1414.5 605.5,1413.8 607.5,1413.1 609.5,1412.4 611.5,1411.7 613.5,1411.0 615.5,1410.3 617.5,1409.6 619.5,1409.0 621.5,1408.3 623.5,1407.6 625.5,1407.0 627.5,1406.3 629.5,1405.7 631.5,1405.1 633.5,1404.5 635.5,1403.8 637.5,1403.2 639.5,1402.7 641.5,1402.1 643.5,1401.5 645.5,1400.9 647.5,1400.4 649.5,1399.9 651.5,1399.3 653.5,1398.8 655.5,1398.3 657.5,1397.8 659.5,1397.4 661.5,1396.9 663.5,1396.4 665.5,1396.0 667.5,1395.6 669.5,1395.2 671.5,1394.8 673.5,1394.4 675.5,1394.0 677.5,1393.7 679.5,1393.3 681.5,1393.0 683.5,1392.7 685.5,1392.3 687.5,1392.0 689.5,1391.8 691.5,1391.5 693.5,1391.2 695.5,1391.0 697.5,1390.7 699.5,1390.5 701.5,1390.3 703.5,1390.1 705.5,1389.9 707.5,1389.7 709.5,1389.5 711.5,1389.4 713.5,1389.2 715.5,1389.1 717.5,1388.9 719.5,1388.8 721.5,1388.6 723.5,1388.5 725.5,1388.4 727.5,1388.3 729.5,1388.2 731.5,1388.1 733.5,1388.0 735.5,1387.9 737.5,1387.9 739.5,1387.8 741.5,1387.7 743.5,1387.7 745.5,1387.6 747.5,1387.6 749.5,1387.5 751.5,1387.5 753.5,1387.4 755.5,1387.4 757.5,1387.3 759.5,1387.3 761.5,1387.3 763.5,1387.3 765.5,1387.2 767.5,1387.2 769.5,1387.2 771.5,1387.2 773.5,1387.1 775.5,1387.1 777.5,1387.1 779.5,1387.1 781.5,1387.1 783.5,1387.1 785.5,1387.1 787.5,1387.0 789.5,1387.0 791.5,1387.0 793.5,1387.0 795.5,1387.0 797.5,1387.0 799.5,1387.0 801.5,1387.0 803.5,1387.0 805.5,1387.0 807.5,1387.0 809.5,1387.0 811.5,1387.0 813.5,1387.0 815.5,1387.0 817.5,1387.0 819.5,1387.0 821.5,1387.0 823.5,1387.0 825.5,1387.0 827.5,1387.0 829.5,1387.0 831.5,1387.0 833.5,1387.0 835.5,1387.0 837.5,1387.0 839.5,1387.0 841.5,1387.0 843.5,1387.0 845.5,1387.0 847.5,1387.0 849.5,1387.0 851.5,1387.0 853.5,1387.0 855.5,1387.0 857.5,1387.0 859.5,1387.0 861.5,1387.0 863.5,1387.0 865.5,1387.0 867.5,1387.0 869.5,1387.0 871.5,1387.0 873.5,1387.0 875.5,1387.0 877.5,1387.0 879.5,1387.0 881.5,1387.0 883.5,1387.0 885.5,1387.0 887.5,1387.0 889.5,1387.0 891.5,1387.0 893.5,1387.0 895.5,1387.0 897.5,1387.0 899.5,1387.0 901.5,1387.0 903.5,1387.0 905.5,1387.0 907.5,1387.0 909.5,1387.0 911.5,1387.0 913.5,1387.0 915.5,1387.0 917.5,1387.0 919.5,1387.0 921.5,1387.0 923.5,1387.0 925.5,1387.0 927.5,1387.0 929.5,1387.0 931.5,1387.0 933.5,1387.0 935.5,1387.0 937.5,1387.0 939.5,1387.0 941.5,1387.0 943.5,1387.0 945.5,1387.0 947.5,1387.0 949.5,1387.0 951.5,1387.0 953.5,1387.0 955.5,1387.0 957.5,1387.0 959.5,1387.0 961.5,1387.0 963.5,1387.0 965.5,1387.0 967.5,1387.0 969.5,1387.0 971.5,1387.0 973.5,1387.0 975.5,1387.0 977.5,1387.0 979.5,1387.0 981.5,1387.0 983.5,1387.0 985.5,1387.0 987.5,1387.0 989.5,1387.0 991.5,1387.0 993.5,1387.0 995.5,1387.0 997.5,1387.0 999.5,1387.0 1001.5,1387.0 1003.5,1387.0 1005.5,1387.0 1007.5,1387.0 1009.5,1387.0 1011.5,1387.0 1013.5,1387.0 1015.5,1387.0 1017.5,1387.0 1019.5,1387.0 1021.5,1387.0 1023.5,1387.0 1025.5,1387.0 1027.5,1387.0 1029.5,1387.0 1031.5,1387.0 1033.5,1387.0 1035.5,1387.0 1037.5,1387.0 1039.5,1387.0 1041.5,1387.0 1043.5,1387.0 1045.5,1387.0 1047.5,1387.0 1049.5,1387.0 1051.5,1387.0 1053.5,1387.0 1055.5,1387.0 1057.5,1387.0 1059.5,1387.0 1061.5,1387.0 1063.5,1387.0 1065.5,1387.0 1067.5,1387.0 1069.5,1387.0 1071.5,1387.0 1073.5,1387.0 1075.5,1387.0 1077.5,1387.0 1079.5,1387.0 1081.5,1387.0 1083.5,1387.0 1085.5,1387.0 1087.5,1387.0 1089.5,1387.0 1091.5,1387.0 1093.5,1387.0 1095.5,1387.0 1097.5,1387.0 1099.5,1387.0 1101.5,1387.0 1103.5,1387.0 1105.5,1387.0 1107.5,1387.0 1109.5,1387.0 1111.5,1387.0 1113.5,1387.0 1115.5,1387.0 1117.5,1387.0 1119.5,1387.0 1121.5,1387.0 1123.5,1387.0 1125.5,1387.0 1127.5,1387.0 1129.5,1387.0 1131.5,1387.0 1133.5,1387.0 1135.5,1387.0 1137.5,1387.0 1139.5,1387.0 1141.5,1387.0 1143.5,1387.0 1145.5,1387.0 1147.5,1387.0 1149.5,1387.0 1151.5,1387.0 1153.5,1387.0 1155.5,1387.0 1157.5,1387.0 1159.5,1387.0 1161.5,1387.0 1163.5,1387.0 1165.5,1387.0 1167.5,1387.0 1169.5,1387.0 1171.5,1387.0 1173.5,1387.0 1175.5,1387.0 1177.5,1387.0 1179.5,1387.0 1181.5,1387.0 1183.5,1387.0 1185.5,1387.0 1187.5,1387.0 1189.5,1387.0 1191.5,1387.0 1193.5,1387.0 1195.5,1387.0 1197.5,1387.0 1199.5,1387.0 1201.5,1387.0 1203.5,1387.0 1205.5,1387.0 1207.5,1387.0 1209.5,1387.0 1211.5,1387.0 1213.5,1387.0 1215.5,1387.0 1217.5,1387.0 1219.5,1387.0 1221.5,1387.0 1223.5,1387.0 1225.5,1387.0 1227.5,1387.0 1229.5,1387.0 1231.5,1387.0 1233.5,1387.0 1235.5,1387.0 1237.5,1387.0 1239.5,1387.0 1241.5,1387.0 1243.5,1387.0 1245.5,1387.0 1247.5,1387.0 1249.5,1387.0 1251.5,1387.0 1253.5,1387.0 1255.5,1387.0 1257.5,1387.0 1259.5,1387.0 1261.5,1387.0 1263.5,1387.0 1265.5,1387.0 1267.5,1387.0 1269.5,1387.0 1271.5,1387.0 1273.5,1387.0 1275.5,1387.0 1277.5,1387.0 1279.5,1387.0 1281.5,1387.0 1283.5,1387.0 1285.5,1387.0 1287.5,1387.0 1289.5,1387.0 1291.5,1387.0 1293.5,1387.0 1295.5,1387.0 1297.5,1387.0 1299.5,1387.0 1301.5,1387.0 1303.5,1387.0 1305.5,1387.0 1307.5,1387.0 1309.5,1387.0 1311.5,1387.0 1313.5,1387.0 1315.5,1387.0 1317.5,1387.0 1319.5,1387.0 1321.5,1387.0 1323.5,1387.0 1325.5,1387.0 1327.5,1387.0 1329.5,1387.0 1331.5,1387.0 1333.5,1387.0 1335.5,1387.0 1337.5,1387.0 1339.5,1387.0 1341.5,1387.0 1343.5,1387.0 1345.5,1387.0 1347.5,1387.0 1349.5,1387.0 1351.5,1387.0 1353.5,1387.0 1355.5,1387.0 1357.5,1387.0 1359.5,1387.0 1361.5,1387.0 1363.5,1387.0 1365.5,1387.0 1367.5,1387.0 1369.5,1387.0 1371.5,1387.0 1373.5,1387.0 1375.5,1387.0 1377.5,1387.0 1379.5,1387.0 1381.5,1387.0 1383.5,1387.0 1385.5,1387.0 1387.5,1387.0 1389.5,1387.0 1391.5,1387.0 1393.5,1387.0 1395.5,1387.0 1397.5,1387.0 1399.5,1387.0 1401.5,1387.0 1403.5,1387.0 1405.5,1387.0 1407.5,1387.0 1409.5,1387.0 1411.5,1387.0 1413.5,1387.0 1415.5,1387.0 1417.5,1387.0 1419.5,1387.0 1421.5,1387.0 1423.5,1387.0 1425.5,1387.0 1427.5,1387.0 1429.5,1387.0 1431.5,1387.0 1433.5,1387.0 1435.5,1387.0 1437.5,1387.0 1439.5,1387.0 1441.5,1387.0 1443.5,1387.0 1445.5,1387.0 1447.5,1387.0 1449.5,1387.0 1451.5,1387.0 1453.5,1387.0 1455.5,1387.0 1457.5,1387.0 1459.5,1387.0 1461.5,1387.0 1463.5,1387.0 1465.5,1387.0 1467.5,1387.0 1469.5,1387.0 1471.5,1387.0 1473.5,1387.0 1475.5,1387.0 1477.5,1387.0 1479.5,1387.0 1481.5,1387.0 1483.5,1387.0 1485.5,1387.0 1487.5,1387.0 1489.5,1387.0 1491.5,1387.0 1493.5,1387.0 1495.5,1387.0 1497.5,1387.0 1499.5,1387.0 1501.5,1387.0 1503.5,1387.0 1505.5,1387.0 1507.5,1387.0 1509.5,1387.0 1511.5,1387.0 1513.5,1387.0 1515.5,1387.0 1517.5,1387.0 1519.5,1387.0 1521.5,1387.0 1523.5,1387.0 1525.5,1387.0 1527.5,1387.0 1529.5,1387.0 1531.5,1387.0 1533.5,1387.0 1535.5,1387.0 1537.5,1387.0 1539.5,1387.0 1541.5,1387.0 1543.5,1387.0 1545.5,1387.0 1547.5,1387.0 1549.5,1387.0 1551.5,1387.0 1553.5,1387.0 1555.5,1387.0 1557.5,1387.0 1559.5,1387.0 1561.5,1387.0 1563.5,1387.0 1565.5,1387.0 1567.5,1387.0 1569.5,1387.0 1571.5,1387.0 1573.5,1387.0 1575.5,1387.0 1577.5,1387.0 1579.5,1387.0 1581.5,1387.0 1583.5,1387.0 1585.5,1387.0 1587.5,1387.0 1589.5,1387.0 1591.5,1387.0 1593.5,1387.0 1595.5,1387.0 1597.5,1387.0 1599.5,1387.0 1601.5,1387.0 1603.5,1387.0 1605.5,1387.0 1607.5,1387.0 1609.5,1387.0 1611.5,1387.0 1613.5,1387.0 1615.5,1387.0 1617.5,1387.0 1619.5,1387.0 1621.5,1387.0 1623.5,1387.0 1625.5,1387.0 1627.5,1387.0 1629.5,1387.0 1631.5,1387.0 1633.5,1387.0 1635.5,1387.0 1637.5,1387.0 1639.5,1387.0 1641.5,1387.0 1643.5,1387.0 1645.5,1387.0 1647.5,1387.0 1649.5,1387.0 1651.5,1387.0 1653.5,1387.0 1655.5,1387.0 1657.5,1387.0 1659.5,1387.0 1661.5,1387.0 1663.5,1387.0 1665.5,1387.0 1667.5,1387.0 1669.5,1387.0" fill="none" stroke="#ff0000" stroke-width="5.5" stroke-linejoin="round" stroke-linecap="butt"/>
<polyline points="247.5,1542.5 249.5,1542.5 251.5,1542.4 253.5,1542.4 255.5,1542.4 257.5,1542.4 259.5,1542.4 261.5,1542.4 263.5,1542.4 265.5,1542.4 267.5,1542.4 269.5,1542.4 271.5,1542.4 273.5,1542.3 275.5,1542.3 277.5,1542.3 279.5,1542.3 281.5,1542.3 283.5,1542.2 285.5,1542.2 287.5,1542.2 289.5,1542.2 291.5,1542.1 293.5,1542.1 295.5,1542.1 297.5,1542.0 299.5,1542.0 301.5,1542.0 303.5,1541.9 305.5,1541.9 307.5,1541.8 309.5,1541.8 311.5,1541.7 313.5,1541.6 315.5,1541.6 317.5,1541.5 319.5,1541.4 321.5,1541.4 323.5,1541.3 325.5,1541.2 327.5,1541.1 329.5,1541.0 331.5,1540.9 333.5,1540.8 335.5,1540.6 337.5,1540.5 339.5,1540.4 341.5,1540.2 343.5,1540.1 345.5,1539.9 347.5,1539.7 349.5,1539.5 351.5,1539.4 353.5,1539.1 355.5,1538.9 357.5,1538.7 359.5,1538.5 361.5,1538.2 363.5,1537.9 365.5,1537.7 367.5,1537.4 369.5,1537.1 371.5,1536.7 373.5,1536.4 375.5,1536.0 377.5,1535.7 379.5,1535.3 381.5,1534.9 383.5,1534.4 385.5,1534.0 387.5,1533.5 389.5,1533.0 391.5,1532.5 393.5,1532.0 395.5,1531.4 397.5,1530.9 399.5,1530.3 401.5,1529.6 403.5,1529.0 405.5,1528.3 407.5,1527.6 409.5,1526.9 411.5,1526.1 413.5,1525.3 415.5,1524.5 417.5,1523.7 419.5,1522.8 421.5,1521.9 423.5,1521.0 425.5,1520.1 427.5,1519.1 429.5,1518.1 431.5,1517.0 433.5,1516.0 435.5,1514.9 437.5,1513.8 439.5,1512.6 441.5,1511.4 443.5,1510.2 445.5,1509.0 447.5,1507.8 449.5,1506.5 451.5,1505.2 453.5,1503.9 455.5,1502.5 457.5,1501.2 459.5,1499.8 461.5,1498.4 463.5,1497.0 465.5,1495.6 467.5,1494.1 469.5,1492.7 471.5,1491.3 473.5,1489.8 475.5,1488.4 477.5,1486.9 479.5,1485.5 481.5,1484.0 483.5,1482.6 485.5,1481.2 487.5,1479.7 489.5,1478.3 491.5,1477.0 493.5,1475.6 495.5,1474.2 497.5,1472.7 499.5,1471.3 501.5,1469.8 503.5,1468.3 505.5,1466.8 507.5,1465.3 509.5,1463.8 511.5,1462.3 513.5,1460.9 515.5,1459.4 517.5,1458.0 519.5,1456.6 521.5,1455.2 523.5,1453.9 525.5,1452.6 527.5,1451.3 529.5,1450.0 531.5,1448.8 533.5,1447.6 535.5,1446.4 537.5,1445.3 539.5,1444.2 541.5,1443.1 543.5,1442.1 545.5,1441.0 547.5,1440.0 549.5,1439.1 551.5,1438.1 553.5,1437.2 555.5,1436.3 557.5,1435.4 559.5,1434.5 561.5,1433.7 563.5,1432.9 565.5,1432.1 567.5,1431.3 569.5,1430.5 571.5,1429.7 573.5,1428.9 575.5,1428.2 577.5,1427.4 579.5,1426.7 581.5,1426.0 583.5,1425.3 585.5,1424.5 587.5,1423.8 589.5,1423.1 591.5,1422.4 593.5,1421.7 595.5,1421.0 597.5,1420.4 599.5,1419.7 601.5,1419.0 603.5,1418.4 605.5,1417.7 607.5,1417.0 609.5,1416.4 611.5,1415.7 613.5,1415.1 615.5,1414.5 617.5,1413.9 619.5,1413.2 621.5,1412.6 623.5,1412.0 625.5,1411.4 627.5,1410.8 629.5,1410.2 631.5,1409.6 633.5,1409.1 635.5,1408.5 637.5,1407.9 639.5,1407.4 641.5,1406.8 643.5,1406.3 645.5,1405.7 647.5,1405.2 649.5,1404.7 651.5,1404.2 653.5,1403.7 655.5,1403.2 657.5,1402.7 659.5,1402.2 661.5,1401.7 663.5,1401.3 665.5,1400.8 667.5,1400.3 669.5,1399.9 671.5,1399.5 673.5,1399.0 675.5,1398.6 677.5,1398.2 679.5,1397.8 681.5,1397.4 683.5,1397.0 685.5,1396.6 687.5,1396.2 689.5,1395.8 691.5,1395.4 693.5,1395.1 695.5,1394.7 697.5,1394.4 699.5,1394.0 701.5,1393.7 703.5,1393.4 705.5,1393.0 707.5,1392.7 709.5,1392.4 711.5,1392.1 713.5,1391.8 715.5,1391.5 717.5,1391.2 719.5,1391.0 721.5,1390.7 723.5,1390.4 725.5,1390.1 727.5,1389.9 729.5,1389.6 731.5,1389.4 733.5,1389.2 735.5,1388.9 737.5,1388.7 739.5,1388.5 741.5,1388.2 743.5,1388.0 745.5,1387.8 747.5,1387.6 749.5,1387.4 751.5,1387.2 753.5,1387.0 755.5,1386.8 757.5,1386.7 759.5,1386.5 761.5,1386.3 763.5,1386.1 765.5,1386.0 767.5,1385.8 769.5,1385.7 771.5,1385.5 773.5,1385.4 775.5,1385.2 777.5,1385.1 779.5,1384.9 781.5,1384.8 783.5,1384.7 785.5,1384.5 787.5,1384.4 789.5,1384.3 791.5,1384.2 793.5,1384.1 795.5,1384.0 797.5,1383.8 799.5,1383.7 801.5,1383.6 803.5,1383.5 805.5,1383.4 807.5,1383.3 809.5,1383.3 811.5,1383.2 813.5,1383.1 815.5,1383.0 817.5,1382.9 819.5,1382.8 821.5,1382.8 823.5,1382.7 825.5,1382.6 827.5,1382.5 829.5,1382.5 831.5,1382.4 833.5,1382.3 835.5,1382.3 837.5,1382.2 839.5,1382.2 841.5,1382.1 843.5,1382.0 845.5,1382.0 847.5,1381.9 849.5,1381.9 851.5,1381.8 853.5,1381.8 855.5,1381.7 857.5,1381.7 859.5,1381.7 861.5,1381.6 863.5,1381.6 865.5,1381.5 867.5,1381.5 869.5,1381.5 871.5,1381.4 873.5,1381.4 875.5,1381.4 877.5,1381.3 879.5,1381.3 881.5,1381.3 883.5,1381.2 885.5,1381.2 887.5,1381.2 889.5,1381.1 891.5,1381.1 893.5,1381.1 895.5,1381.1 897.5,1381.0 899.5,1381.0 901.5,1381.0 903.5,1381.0 905.5,1381.0 907.5,1380.9 909.5,1380.9 911.5,1380.9 913.5,1380.9 915.5,1380.9 917.5,1380.9 919.5,1380.8 921.5,1380.8 923.5,1380.8 925.5,1380.8 927.5,1380.8 929.5,1380.8 931.5,1380.8 933.5,1380.7 935.5,1380.7 937.5,1380.7 939.5,1380.7 941.5,1380.7 943.5,1380.7 945.5,1380.7 947.5,1380.7 949.5,1380.7 951.5,1380.6 953.5,1380.6 955.5,1380.6 957.5,1380.6 959.5,1380.6 961.5,1380.6 963.5,1380.6 965.5,1380.6 967.5,1380.6 969.5,1380.6 971.5,1380.6 973.5,1380.6 975.5,1380.6 977.5,1380.6 979.5,1380.6 981.5,1380.5 983.5,1380.5 985.5,1380.5 987.5,1380.5 989.5,1380.5 991.5,1380.5 993.5,1380.5 995.5,1380.5 997.5,1380.5 999.5,1380.5 1001.5,1380.5 1003.5,1380.5 1005.5,1380.5 1007.5,1380.5 1009.5,1380.5 1011.5,1380.5 1013.5,1380.5 1015.5,1380.5 1017.5,1380.5 1019.5,1380.5 1021.5,1380.5 1023.5,1380.5 1025.5,1380.5 1027.5,1380.5 1029.5,1380.5 1031.5,1380.5 1033.5,1380.5 1035.5,1380.5 1037.5,1380.5 1039.5,1380.5 1041.5,1380.5 1043.5,1380.5 1045.5,1380.5 1047.5,1380.5 1049.5,1380.5 1051.5,1380.5 1053.5,1380.5 1055.5,1380.5 1057.5,1380.4 1059.5,1380.4 1061.5,1380.4 1063.5,1380.4 1065.5,1380.4 1067.5,1380.4 1069.5,1380.4 1071.5,1380.4 1073.5,1380.4 1075.5,1380.4 1077.5,1380.4 1079.5,1380.4 1081.5,1380.4 1083.5,1380.4 1085.5,1380.4 1087.5,1380.4 1089.5,1380.4 1091.5,1380.4 1093.5,1380.4 1095.5,1380.4 1097.5,1380.4 1099.5,1380.4 1101.5,1380.4 1103.5,1380.4 1105.5,1380.4 1107.5,1380.4 1109.5,1380.4 1111.5,1380.4 1113.5,1380.4 1115.5,1380.4 1117.5,1380.4 1119.5,1380.4 1121.5,1380.4 1123.5,1380.4 1125.5,1380.4 1127.5,1380.4 1129.5,1380.4 1131.5,1380.4 1133.5,1380.4 1135.5,1380.4 1137.5,1380.4 1139.5,1380.4 1141.5,1380.4 1143.5,1380.4 1145.5,1380.4 1147.5,1380.4 1149.5,1380.4 1151.5,1380.4 1153.5,1380.4 1155.5,1380.4 1157.5,1380.4 1159.5,1380.4 1161.5,1380.4 1163.5,1380.4 1165.5,1380.4 1167.5,1380.4 1169.5,1380.4 1171.5,1380.4 1173.5,1380.4 1175.5,1380.4 1177.5,1380.4 1179.5,1380.4 1181.5,1380.4 1183.5,1380.4 1185.5,1380.4 1187.5,1380.4 1189.5,1380.4 1191.5,1380.4 1193.5,1380.4 1195.5,1380.4 1197.5,1380.4 1199.5,1380.4 1201.5,1380.4 1203.5,1380.4 1205.5,1380.4 1207.5,1380.4 1209.5,1380.4 1211.5,1380.4 1213.5,1380.4 1215.5,1380.4 1217.5,1380.4 1219.5,1380.4 1221.5,1380.4 1223.5,1380.4 1225.5,1380.4 1227.5,1380.4 1229.5,1380.4 1231.5,1380.4 1233.5,1380.4 1235.5,1380.4 1237.5,1380.4 1239.5,1380.4 1241.5,1380.4 1243.5,1380.4 1245.5,1380.4 1247.5,1380.4 1249.5,1380.4 1251.5,1380.4 1253.5,1380.4 1255.5,1380.4 1257.5,1380.4 1259.5,1380.4 1261.5,1380.4 1263.5,1380.4 1265.5,1380.4 1267.5,1380.4 1269.5,1380.4 1271.5,1380.4 1273.5,1380.4 1275.5,1380.4 1277.5,1380.4 1279.5,1380.4 1281.5,1380.4 1283.5,1380.4 1285.5,1380.4 1287.5,1380.4 1289.5,1380.4 1291.5,1380.4 1293.5,1380.4 1295.5,1380.4 1297.5,1380.4 1299.5,1380.4 1301.5,1380.4 1303.5,1380.4 1305.5,1380.4 1307.5,1380.4 1309.5,1380.4 1311.5,1380.4 1313.5,1380.4 1315.5,1380.4 1317.5,1380.4 1319.5,1380.4 1321.5,1380.4 1323.5,1380.4 1325.5,1380.4 1327.5,1380.4 1329.5,1380.4 1331.5,1380.4 1333.5,1380.4 1335.5,1380.4 1337.5,1380.4 1339.5,1380.4 1341.5,1380.4 1343.5,1380.4 1345.5,1380.4 1347.5,1380.4 1349.5,1380.4 1351.5,1380.4 1353.5,1380.4 1355.5,1380.4 1357.5,1380.4 1359.5,1380.4 1361.5,1380.4 1363.5,1380.4 1365.5,1380.4 1367.5,1380.4 1369.5,1380.4 1371.5,1380.4 1373.5,1380.4 1375.5,1380.4 1377.5,1380.4 1379.5,1380.4 1381.5,1380.4 1383.5,1380.4 1385.5,1380.4 1387.5,1380.4 1389.5,1380.4 1391.5,1380.4 1393.5,1380.4 1395.5,1380.4 1397.5,1380.4 1399.5,1380.4 1401.5,1380.4 1403.5,1380.4 1405.5,1380.4 1407.5,1380.4 1409.5,1380.4 1411.5,1380.4 1413.5,1380.4 1415.5,1380.4 1417.5,1380.4 1419.5,1380.4 1421.5,1380.4 1423.5,1380.4 1425.5,1380.4 1427.5,1380.4 1429.5,1380.4 1431.5,1380.4 1433.5,1380.4 1435.5,1380.4 1437.5,1380.4 1439.5,1380.4 1441.5,1380.4 1443.5,1380.4 1445.5,1380.4 1447.5,1380.4 1449.5,1380.4 1451.5,1380.4 1453.5,1380.4 1455.5,1380.4 1457.5,1380.4 1459.5,1380.4 1461.5,1380.4 1463.5,1380.4 1465.5,1380.4 1467.5,1380.4 1469.5,1380.4 1471.5,1380.4 1473.5,1380.4 1475.5,1380.4 1477.5,1380.4 1479.5,1380.4 1481.5,1380.4 1483.5,1380.4 1485.5,1380.4 1487.5,1380.4 1489.5,1380.4 1491.5,1380.4 1493.5,1380.4 1495.5,1380.4 1497.5,1380.4 1499.5,1380.4 1501.5,1380.4 1503.5,1380.4 1505.5,1380.4 1507.5,1380.4 1509.5,1380.4 1511.5,1380.4 1513.5,1380.4 1515.5,1380.4 1517.5,1380.4 1519.5,1380.4 1521.5,1380.4 1523.5,1380.4 1525.5,1380.4 1527.5,1380.4 1529.5,1380.4 1531.5,1380.4 1533.5,1380.4 1535.5,1380.4 1537.5,1380.4 1539.5,1380.4 1541.5,1380.4 1543.5,1380.4 1545.5,1380.4 1547.5,1380.4 1549.5,1380.4 1551.5,1380.4 1553.5,1380.4 1555.5,1380.4 1557.5,1380.4 1559.5,1380.4 1561.5,1380.4 1563.5,1380.4 1565.5,1380.4 1567.5,1380.4 1569.5,1380.4 1571.5,1380.4 1573.5,1380.4 1575.5,1380.4 1577.5,1380.4 1579.5,1380.4 1581.5,1380.4 1583.5,1380.4 1585.5,1380.4 1587.5,1380.4 1589.5,1380.4 1591.5,1380.4 1593.5,1380.4 1595.5,1380.4 1597.5,1380.4 1599.5,1380.4 1601.5,1380.4 1603.5,1380.4 1605.5,1380.4 1607.5,1380.4 1609.5,1380.4 1611.5,1380.4 1613.5,1380.4 1615.5,1380.4 1617.5,1380.4 1619.5,1380.4 1621.5,1380.4 1623.5,1380.4 1625.5,1380.4 1627.5,1380.4 1629.5,1380.4 1631.5,1380.4 1633.5,1380.4 1635.5,1380.4 1637.5,1380.4 1639.5,1380.4 1641.5,1380.4 1643.5,1380.4 1645.5,1380.4 1647.5,1380.4 1649.5,1380.4 1651.5,1380.4 1653.5,1380.4 1655.5,1380.4 1657.5,1380.4 1659.5,1380.4 1661.5,1380.4 1663.5,1380.4 1665.5,1380.4 1667.5,1380.4 1669.5,1380.4" fill="none" stroke="#0000ff" stroke-width="5.5" stroke-linejoin="round" stroke-linecap="butt"/>
<polyline points="247.5,1542.3 249.5,1542.3 251.5,1542.3 253.5,1542.3 255.5,1542.3 257.5,1542.3 259.5,1542.2 261.5,1542.2 263.5,1542.2 265.5,1542.2 267.5,1542.2 269.5,1542.1 271.5,1542.1 273.5,1542.1 275.5,1542.0 277.5,1542.0 279.5,1542.0 281.5,1542.0 283.5,1541.9 285.5,1541.9 287.5,1541.8 289.5,1541.8 291.5,1541.8 293.5,1541.7 295.5,1541.7 297.5,1541.6 299.5,1541.6 301.5,1541.5 303.5,1541.4 305.5,1541.4 307.5,1541.3 309.5,1541.2 311.5,1541.2 313.5,1541.1 315.5,1541.0 317.5,1540.9 319.5,1540.8 321.5,1540.7 323.5,1540.7 325.5,1540.5 327.5,1540.4 329.5,1540.3 331.5,1540.2 333.5,1540.1 335.5,1540.0 337.5,1539.8 339.5,1539.7 341.5,1539.5 343.5,1539.4 345.5,1539.2 347.5,1539.0 349.5,1538.8 351.5,1538.7 353.5,1538.5 355.5,1538.3 357.5,1538.0 359.5,1537.8 361.5,1537.6 363.5,1537.3 365.5,1537.1 367.5,1536.8 369.5,1536.5 371.5,1536.2 373.5,1535.9 375.5,1535.6 377.5,1535.3 379.5,1534.9 381.5,1534.6 383.5,1534.2 385.5,1533.8 387.5,1533.4 389.5,1533.0 391.5,1532.5 393.5,1532.1 395.5,1531.6 397.5,1531.1 399.5,1530.6 401.5,1530.0 403.5,1529.5 405.5,1528.9 407.5,1528.3 409.5,1527.7 411.5,1527.0 413.5,1526.4 415.5,1525.7 417.5,1525.0 419.5,1524.2 421.5,1523.5 423.5,1522.7 425.5,1521.9 427.5,1521.1 429.5,1520.2 431.5,1519.3 433.5,1518.4 435.5,1517.4 437.5,1516.5 439.5,1515.5 441.5,1514.4 443.5,1513.4 445.5,1512.3 447.5,1511.2 449.5,1510.0 451.5,1508.9 453.5,1507.7 455.5,1506.5 457.5,1505.2 459.5,1504.0 461.5,1502.7 463.5,1501.4 465.5,1500.0 467.5,1498.6 469.5,1497.3 471.5,1495.9 473.5,1494.4 475.5,1493.0 477.5,1491.5 479.5,1490.1 481.5,1488.6 483.5,1487.1 485.5,1485.6 487.5,1484.1 489.5,1482.5 491.5,1481.0 493.5,1479.5 495.5,1477.9 497.5,1476.4 499.5,1474.9 501.5,1473.4 503.5,1471.8 505.5,1470.3 507.5,1468.8 509.5,1467.4 511.5,1465.9 513.5,1464.4 515.5,1463.0 517.5,1461.6 519.5,1460.2 521.5,1458.8 523.5,1457.5 525.5,1456.2 527.5,1454.9 529.5,1453.6 531.5,1452.4 533.5,1451.1 535.5,1450.0 537.5,1448.8 539.5,1447.7 541.5,1446.6 543.5,1445.5 545.5,1444.5 547.5,1443.5 549.5,1442.5 551.5,1441.5 553.5,1440.6 555.5,1439.7 557.5,1438.8 559.5,1437.9 561.5,1437.1 563.5,1436.2 565.5,1435.4 567.5,1434.6 569.5,1433.8 571.5,1433.1 573.5,1432.3 575.5,1431.6 577.5,1430.8 579.5,1430.1 581.5,1429.4 583.5,1428.7 585.5,1428.0 587.5,1427.3 589.5,1426.6 591.5,1425.9 593.5,1425.3 595.5,1424.6 597.5,1423.9 599.5,1423.3 601.5,1422.6 603.5,1421.9 605.5,1421.3 607.5,1420.7 609.5,1420.0 611.5,1419.4 613.5,1418.7 615.5,1418.1 617.5,1417.5 619.5,1416.9 621.5,1416.3 623.5,1415.7 625.5,1415.1 627.5,1414.5 629.5,1413.9 631.5,1413.3 633.5,1412.7 635.5,1412.1 637.5,1411.6 639.5,1411.0 641.5,1410.5 643.5,1409.9 645.5,1409.4 647.5,1408.8 649.5,1408.3 651.5,1407.8 653.5,1407.3 655.5,1406.8 657.5,1406.3 659.5,1405.8 661.5,1405.4 663.5,1404.9 665.5,1404.4 667.5,1404.0 669.5,1403.6 671.5,1403.1 673.5,1402.7 675.5,1402.3 677.5,1401.9 679.5,1401.5 681.5,1401.1 683.5,1400.7 685.5,1400.4 687.5,1400.0 689.5,1399.7 691.5,1399.3 693.5,1399.0 695.5,1398.7 697.5,1398.4 699.5,1398.1 701.5,1397.8 703.5,1397.5 705.5,1397.2 707.5,1396.9 709.5,1396.7 711.5,1396.4 713.5,1396.2 715.5,1395.9 717.5,1395.7 719.5,1395.5 721.5,1395.3 723.5,1395.1 725.5,1394.9 727.5,1394.7 729.5,1394.5 731.5,1394.3 733.5,1394.2 735.5,1394.0 737.5,1393.9 739.5,1393.7 741.5,1393.6 743.5,1393.4 745.5,1393.3 747.5,1393.2 749.5,1393.1 751.5,1393.0 753.5,1392.9 755.5,1392.8 757.5,1392.7 759.5,1392.6 761.5,1392.5 763.5,1392.4 765.5,1392.3 767.5,1392.2 769.5,1392.2 771.5,1392.1 773.5,1392.0 775.5,1392.0 777.5,1391.9 779.5,1391.9 781.5,1391.8 783.5,1391.8 785.5,1391.7 787.5,1391.7 789.5,1391.7 791.5,1391.6 793.5,1391.6 795.5,1391.6 797.5,1391.5 799.5,1391.5 801.5,1391.5 803.5,1391.5 805.5,1391.4 807.5,1391.4 809.5,1391.4 811.5,1391.4 813.5,1391.4 815.5,1391.3 817.5,1391.3 819.5,1391.3 821.5,1391.3 823.5,1391.3 825.5,1391.3 827.5,1391.3 829.5,1391.3 831.5,1391.3 833.5,1391.2 835.5,1391.2 837.5,1391.2 839.5,1391.2 841.5,1391.2 843.5,1391.2 845.5,1391.2 847.5,1391.2 849.5,1391.2 851.5,1391.2 853.5,1391.2 855.5,1391.2 857.5,1391.2 859.5,1391.2 861.5,1391.2 863.5,1391.2 865.5,1391.2 867.5,1391.2 869.5,1391.2 871.5,1391.2 873.5,1391.2 875.5,1391.2 877.5,1391.2 879.5,1391.2 881.5,1391.2 883.5,1391.2 885.5,1391.2 887.5,1391.2 889.5,1391.2 891.5,1391.2 893.5,1391.2 895.5,1391.2 897.5,1391.2 899.5,1391.2 901.5,1391.2 903.5,1391.2 905.5,1391.2 907.5,1391.2 909.5,1391.2 911.5,1391.2 913.5,1391.2 915.5,1391.2 917.5,1391.2 919.5,1391.2 921.5,1391.2 923.5,1391.2 925.5,1391.2 927.5,1391.2 929.5,1391.2 931.5,1391.2 933.5,1391.2 935.5,1391.2 937.5,1391.2 939.5,1391.2 941.5,1391.2 943.5,1391.2 945.5,1391.2 947.5,1391.2 949.5,1391.2 951.5,1391.2 953.5,1391.2 955.5,1391.2 957.5,1391.2 959.5,1391.2 961.5,1391.2 963.5,1391.2 965.5,1391.2 967.5,1391.2 969.5,1391.2 971.5,1391.2 973.5,1391.2 975.5,1391.2 977.5,1391.2 979.5,1391.2 981.5,1391.2 983.5,1391.2 985.5,1391.2 987.5,1391.2 989.5,1391.2 991.5,1391.2 993.5,1391.2 995.5,1391.2 997.5,1391.2 999.5,1391.2 1001.5,1391.2 1003.5,1391.2 1005.5,1391.2 1007.5,1391.2 1009.5,1391.2 1011.5,1391.2 1013.5,1391.2 1015.5,1391.2 1017.5,1391.2 1019.5,1391.2 1021.5,1391.2 1023.5,1391.2 1025.5,1391.2 1027.5,1391.2 1029.5,1391.2 1031.5,1391.2 1033.5,1391.2 1035.5,1391.2 1037.5,1391.2 1039.5,1391.2 1041.5,1391.2 1043.5,1391.2 1045.5,1391.2 1047.5,1391.2 1049.5,1391.2 1051.5,1391.2 1053.5,1391.2 1055.5,1391.2 1057.5,1391.2 1059.5,1391.2 1061.5,1391.2 1063.5,1391.2 1065.5,1391.2 1067.5,1391.2 1069.5,1391.2 1071.5,1391.2 1073.5,1391.2 1075.5,1391.2 1077.5,1391.2 1079.5,1391.2 1081.5,1391.2 1083.5,1391.2 1085.5,1391.2 1087.5,1391.2 1089.5,1391.2 1091.5,1391.2 1093.5,1391.2 1095.5,1391.2 1097.5,1391.2 1099.5,1391.2 1101.5,1391.2 1103.5,1391.2 1105.5,1391.2 1107.5,1391.2 1109.5,1391.2 1111.5,1391.2 1113.5,1391.2 1115.5,1391.2 1117.5,1391.2 1119.5,1391.2 1121.5,1391.2 1123.5,1391.2 1125.5,1391.2 1127.5,1391.2 1129.5,1391.2 1131.5,1391.2 1133.5,1391.2 1135.5,1391.2 1137.5,1391.2 1139.5,1391.2 1141.5,1391.2 1143.5,1391.2 1145.5,1391.2 1147.5,1391.2 1149.5,1391.2 1151.5,1391.2 1153.5,1391.2 1155.5,1391.2 1157.5,1391.2 1159.5,1391.2 1161.5,1391.2 1163.5,1391.2 1165.5,1391.2 1167.5,1391.2 1169.5,1391.2 1171.5,1391.2 1173.5,1391.2 1175.5,1391.2 1177.5,1391.2 1179.5,1391.2 1181.5,1391.2 1183.5,1391.2 1185.5,1391.2 1187.5,1391.2 1189.5,1391.2 1191.5,1391.2 1193.5,1391.2 1195.5,1391.2 1197.5,1391.2 1199.5,1391.2 1201.5,1391.2 1203.5,1391.2 1205.5,1391.2 1207.5,1391.2 1209.5,1391.2 1211.5,1391.2 1213.5,1391.2 1215.5,1391.2 1217.5,1391.2 1219.5,1391.2 1221.5,1391.2 1223.5,1391.2 1225.5,1391.2 1227.5,1391.2 1229.5,1391.2 1231.5,1391.2 1233.5,1391.2 1235.5,1391.2 1237.5,1391.2 1239.5,1391.2 1241.5,1391.2 1243.5,1391.2 1245.5,1391.2 1247.5,1391.2 1249.5,1391.2 1251.5,1391.2 1253.5,1391.2 1255.5,1391.2 1257.5,1391.2 1259.5,1391.2 1261.5,1391.2 1263.5,1391.2 1265.5,1391.2 1267.5,1391.2 1269.5,1391.2 1271.5,1391.2 1273.5,1391.2 1275.5,1391.2 1277.5,1391.2 1279.5,1391.2 1281.5,1391.2 1283.5,1391.2 1285.5,1391.2 1287.5,1391.2 1289.5,1391.2 1291.5,1391.2 1293.5,1391.2 1295.5,1391.2 1297.5,1391.2 1299.5,1391.2 1301.5,1391.2 1303.5,1391.2 1305.5,1391.2 1307.5,1391.2 1309.5,1391.2 1311.5,1391.2 1313.5,1391.2 1315.5,1391.2 1317.5,1391.2 1319.5,1391.2 1321.5,1391.2 1323.5,1391.2 1325.5,1391.2 1327.5,1391.2 1329.5,1391.2 1331.5,1391.2 1333.5,1391.2 1335.5,1391.2 1337.5,1391.2 1339.5,1391.2 1341.5,1391.2 1343.5,1391.2 1345.5,1391.2 1347.5,1391.2 1349.5,1391.2 1351.5,1391.2 1353.5,1391.2 1355.5,1391.2 1357.5,1391.2 1359.5,1391.2 1361.5,1391.2 1363.5,1391.2 1365.5,1391.2 1367.5,1391.2 1369.5,1391.2 1371.5,1391.2 1373.5,1391.2 1375.5,1391.2 1377.5,1391.2 1379.5,1391.2 1381.5,1391.2 1383.5,1391.2 1385.5,1391.2 1387.5,1391.2 1389.5,1391.2 1391.5,1391.2 1393.5,1391.2 1395.5,1391.2 1397.5,1391.2 1399.5,1391.2 1401.5,1391.2 1403.5,1391.2 1405.5,1391.2 1407.5,1391.2 1409.5,1391.2 1411.5,1391.2 1413.5,1391.2 1415.5,1391.2 1417.5,1391.2 1419.5,1391.2 1421.5,1391.2 1423.5,1391.2 1425.5,1391.2 1427.5,1391.2 1429.5,1391.2 1431.5,1391.2 1433.5,1391.2 1435.5,1391.2 1437.5,1391.2 1439.5,1391.2 1441.5,1391.2 1443.5,1391.2 1445.5,1391.2 1447.5,1391.2 1449.5,1391.2 1451.5,1391.2 1453.5,1391.2 1455.5,1391.2 1457.5,1391.2 1459.5,1391.2 1461.5,1391.2 1463.5,1391.2 1465.5,1391.2 1467.5,1391.2 1469.5,1391.2 1471.5,1391.2 1473.5,1391.2 1475.5,1391.2 1477.5,1391.2 1479.5,1391.2 1481.5,1391.2 1483.5,1391.2 1485.5,1391.2 1487.5,1391.2 1489.5,1391.2 1491.5,1391.2 1493.5,1391.2 1495.5,1391.2 1497.5,1391.2 1499.5,1391.2 1501.5,1391.2 1503.5,1391.2 1505.5,1391.2 1507.5,1391.2 1509.5,1391.2 1511.5,1391.2 1513.5,1391.2 1515.5,1391.2 1517.5,1391.2 1519.5,1391.2 1521.5,1391.2 1523.5,1391.2 1525.5,1391.2 1527.5,1391.2 1529.5,1391.2 1531.5,1391.2 1533.5,1391.2 1535.5,1391.2 1537.5,1391.2 1539.5,1391.2 1541.5,1391.2 1543.5,1391.2 1545.5,1391.2 1547.5,1391.2 1549.5,1391.2 1551.5,1391.2 1553.5,1391.2 1555.5,1391.2 1557.5,1391.2 1559.5,1391.2 1561.5,1391.2 1563.5,1391.2 1565.5,1391.2 1567.5,1391.2 1569.5,1391.2 1571.5,1391.2 1573.5,1391.2 1575.5,1391.2 1577.5,1391.2 1579.5,1391.2 1581.5,1391.2 1583.5,1391.2 1585.5,1391.2 1587.5,1391.2 1589.5,1391.2 1591.5,1391.2 1593.5,1391.2 1595.5,1391.2 1597.5,1391.2 1599.5,1391.2 1601.5,1391.2 1603.5,1391.2 1605.5,1391.2 1607.5,1391.2 1609.5,1391.2 1611.5,1391.2 1613.5,1391.2 1615.5,1391.2 1617.5,1391.2 1619.5,1391.2 1621.5,1391.2 1623.5,1391.2 1625.5,1391.2 1627.5,1391.2 1629.5,1391.2 1631.5,1391.2 1633.5,1391.2 1635.5,1391.2 1637.5,1391.2 1639.5,1391.2 1641.5,1391.2 1643.5,1391.2 1645.5,1391.2 1647.5,1391.2 1649.5,1391.2 1651.5,1391.2 1653.5,1391.2 1655.5,1391.2 1657.5,1391.2 1659.5,1391.2 1661.5,1391.2 1663.5,1391.2 1665.5,1391.2 1667.5,1391.2 1669.5,1391.2" fill="none" stroke="#008000" stroke-width="5.5" stroke-linejoin="round" stroke-linecap="butt"/>
<line x1="601.2" y1="1412.0" x2="601.2" y2="1544.5" stroke="#000" stroke-width="4.5" stroke-dasharray="21 16" stroke-dashoffset="0"/>
<line x1="957.5" y1="1294.0" x2="957.5" y2="1544.5" stroke="#000" stroke-width="4.5" stroke-dasharray="21 16" stroke-dashoffset="0"/>
<line x1="1313.5" y1="1268.0" x2="1313.5" y2="1544.5" stroke="#000" stroke-width="4.5" stroke-dasharray="21 16" stroke-dashoffset="0"/>
<line x1="1669.5" y1="1259.0" x2="1669.5" y2="1544.5" stroke="#000" stroke-width="4.5" stroke-dasharray="21 16" stroke-dashoffset="12.4"/>
<line x1="247.5" y1="1542.5" x2="247.5" y2="831.7" stroke="#000" stroke-width="5" />
<line x1="245.0" y1="1542.5" x2="1669.7" y2="1542.5" stroke="#000" stroke-width="5" />
<line x1="1669.7" y1="1542.5" x2="2109.4" y2="518.7" stroke="#000" stroke-width="5" />
<line x1="247.5" y1="1542.5" x2="273.5" y2="1542.5" stroke="#222" stroke-width="4" />
<text x="221.5" y="1566.7" font-family="Liberation Serif, Times New Roman, serif" font-weight="bold" font-size="70" text-anchor="end">0.00</text>
<line x1="247.5" y1="1400.3" x2="273.5" y2="1400.3" stroke="#222" stroke-width="4" />
<text x="221.5" y="1424.5" font-family="Liberation Serif, Times New Roman, serif" font-weight="bold" font-size="70" text-anchor="end">0.02</text>
<line x1="247.5" y1="1258.2" x2="273.5" y2="1258.2" stroke="#222" stroke-width="4" />
<text x="221.5" y="1282.4" font-family="Liberation Serif, Times New Roman, serif" font-weight="bold" font-size="70" text-anchor="end">0.04</text>
<line x1="247.5" y1="1116.0" x2="273.5" y2="1116.0" stroke="#222" stroke-width="4" />
<text x="221.5" y="1140.2" font-family="Liberation Serif, Times New Roman, serif" font-weight="bold" font-size="70" text-anchor="end">0.06</text>
<line x1="247.5" y1="973.9" x2="273.5" y2="973.9" stroke="#222" stroke-width="4" />
<text x="221.5" y="998.1" font-family="Liberation Serif, Times New Roman, serif" font-weight="bold" font-size="70" text-anchor="end">0.08</text>
<line x1="247.5" y1="831.7" x2="273.5" y2="831.7" stroke="#222" stroke-width="4" />
<text x="221.5" y="855.9" font-family="Liberation Serif, Times New Roman, serif" font-weight="bold" font-size="70" text-anchor="end">0.10</text>
<text x="602" y="1635" font-family="Liberation Serif, Times New Roman, serif" font-weight="bold" font-size="71" text-anchor="middle">1</text>
<text x="957" y="1635" font-family="Liberation Serif, Times New Roman, serif" font-weight="bold" font-size="71" text-anchor="middle">2</text>
<text x="1311.8" y="1635" font-family="Liberation Serif, Times New Roman, serif" font-weight="bold" font-size="71" text-anchor="middle">3</text>
<text x="1667.7" y="1635" font-family="Liberation Serif, Times New Roman, serif" font-weight="bold" font-size="71" text-anchor="middle">4</text>
<line x1="1668.7" y1="1542.5" x2="1694.7" y2="1542.5" stroke="#222" stroke-width="4" />
<text x="1711.7" y="1566.3" font-family="Liberation Serif, Times New Roman, serif" font-weight="bold" font-size="68.5">200</text>
<line x1="1745.2" y1="1366.7" x2="1755.6" y2="1366.7" stroke="#222" stroke-width="3.5" />
<line x1="1812.1" y1="1208.7" x2="1835.5" y2="1208.7" stroke="#222" stroke-width="4" />
<text x="1853.2" y="1230.6" font-family="Liberation Serif, Times New Roman, serif" font-weight="bold" font-size="61.3">400</text>
<line x1="1874.4" y1="1066.0" x2="1883.8" y2="1066.0" stroke="#222" stroke-width="3.5" />
<line x1="1929.0" y1="936.3" x2="1950.4" y2="936.3" stroke="#222" stroke-width="4" />
<text x="1965.5" y="956.5" font-family="Liberation Serif, Times New Roman, serif" font-weight="bold" font-size="57">600</text>
<line x1="1980.8" y1="818.1" x2="1989.4" y2="818.1" stroke="#222" stroke-width="3.5" />
<line x1="2026.3" y1="709.9" x2="2046.0" y2="709.9" stroke="#222" stroke-width="4" />
<text x="2058.3" y="729" font-family="Liberation Serif, Times New Roman, serif" font-weight="bold" font-size="52.5">800</text>
<line x1="2070.0" y1="610.4" x2="2077.9" y2="610.4" stroke="#222" stroke-width="3.5" />
<line x1="2108.4" y1="518.7" x2="2126.7" y2="518.7" stroke="#222" stroke-width="4" />
<text x="2138.3" y="536.8" font-family="Liberation Serif, Times New Roman, serif" font-weight="bold" font-size="48.5">1000</text>
<text x="1016.4" y="1705.5" font-family="Liberation Serif, Times New Roman, serif" font-weight="bold" font-size="69.2" text-anchor="middle">Time (s)</text>
<text transform="translate(71.5,1187.5) rotate(-90)" x="0" y="0" font-family="Liberation Serif, Times New Roman, serif" font-weight="bold" font-size="69.2" text-anchor="middle">Volume fraction</text>
<text transform="translate(2064.9,1145.9) rotate(-70) scale(1,0.88)" x="0" y="0" font-family="Liberation Serif, Times New Roman, serif" font-weight="bold" font-size="62.5">Oil flow (L/h)</text>
<text x="1127" y="1807" font-family="Liberation Serif, Times New Roman, serif" font-weight="bold" font-size="87" text-anchor="middle">(b)</text>
<rect x="1745.3" y="71.3" width="253.0" height="92.6" fill="none" stroke="#000" stroke-width="4.3"/>
<rect x="1579.7" y="528.6" width="250.4" height="128.4" fill="none" stroke="#000" stroke-width="4.3"/>
<rect x="1398.7" y="1237.2" width="253.7" height="180.3" fill="none" stroke="#000" stroke-width="4.3"/>
<rect x="1452.9" y="218.3" width="565.4" height="251.7" fill="#fff" stroke="#000" stroke-width="4.5"/>
<rect x="1456.8" y="247.4" width="370.6" height="46" fill="#fefedb"/>
<rect x="1456.8" y="294" width="370.6" height="13" fill="#000"/>
<rect x="1456.8" y="363" width="370.6" height="10.5" fill="#0000ff"/>
<rect x="1456.8" y="373.3" width="370.6" height="16.5" fill="#ff0000"/>
<rect x="1456.8" y="417" width="370.6" height="16.5" fill="#008000"/>
<line x1="1474.5" y1="247" x2="1474.5" y2="457" stroke="#c8c8c8" stroke-width="3" stroke-dasharray="14 16" opacity="0.8"/>
<line x1="1810.5" y1="247" x2="1810.5" y2="457" stroke="#c8c8c8" stroke-width="3" stroke-dasharray="14 16" opacity="0.8"/>
<text x="1846" y="265.5" font-family="Liberation Serif, Times New Roman, serif" font-weight="bold" font-size="56" letter-spacing="1" fill="#000">8.65%</text>
<text x="1846" y="323.5" font-family="Liberation Serif, Times New Roman, serif" font-weight="bold" font-size="56" letter-spacing="1" fill="#0000ff">8.06%</text>
<text x="1846" y="387.5" font-family="Liberation Serif, Times New Roman, serif" font-weight="bold" font-size="56" letter-spacing="1" fill="#ff0000">7.98%</text>
<text x="1846" y="458" font-family="Liberation Serif, Times New Roman, serif" font-weight="bold" font-size="56" letter-spacing="1" fill="#008000">7.63%</text>
<line x1="1872.2" y1="166.2" x2="1843.5" y2="200.4" stroke="#000" stroke-width="4" /><polygon points="1831.3,214.9 1838.3,193.4 1851.3,204.3" fill="#000"/>
<rect x="1164.8" y="709.2" width="597.0" height="250.8" fill="#fff" stroke="#000" stroke-width="4.5"/>
<rect x="1198.8" y="716" width="370" height="17" fill="#f2f2f2"/>
<rect x="1198.8" y="733.5" width="370" height="12" fill="#000"/>
<rect x="1198.8" y="796.5" width="370" height="11" fill="#0000ff"/>
<rect x="1198.8" y="850" width="370" height="11.5" fill="#ff0000"/>
<rect x="1198.8" y="911.5" width="370" height="11" fill="#008000"/>
<text x="1598.5" y="751.5" font-family="Liberation Serif, Times New Roman, serif" font-weight="bold" font-size="56" letter-spacing="1" fill="#000">6.87%</text>
<text x="1598.5" y="810.7" font-family="Liberation Serif, Times New Roman, serif" font-weight="bold" font-size="56" letter-spacing="1" fill="#0000ff">6.21%</text>
<text x="1598.5" y="874.5" font-family="Liberation Serif, Times New Roman, serif" font-weight="bold" font-size="56" letter-spacing="1" fill="#ff0000">5.65%</text>
<text x="1598.5" y="945.5" font-family="Liberation Serif, Times New Roman, serif" font-weight="bold" font-size="56" letter-spacing="1" fill="#008000">5.02%</text>
<line x1="1703.8" y1="659.3" x2="1679.6" y2="690.9" stroke="#000" stroke-width="4" /><polygon points="1668.1,706.0 1674.1,684.2 1687.6,694.5" fill="#000"/>
<rect x="749.8" y="985.3" width="595.2" height="250.7" fill="#fff" stroke="#000" stroke-width="4.5"/>
<rect x="961.9" y="1002" width="367.8" height="6" fill="#f2f2f2"/>
<line x1="961.9" y1="1022.4" x2="1329.7" y2="1010.8" stroke="#000" stroke-width="6"/>
<rect x="961.9" y="1133" width="367.8" height="6" fill="#0000ff"/>
<rect x="961.9" y="1139" width="367.8" height="3" fill="#f3c0b0"/>
<rect x="961.9" y="1142" width="367.8" height="3" fill="#b03000"/>
<rect x="961.9" y="1145" width="367.8" height="6.5" fill="#008000"/>
<text x="779" y="1029.2" font-family="Liberation Serif, Times New Roman, serif" font-weight="bold" font-size="56" letter-spacing="1" fill="#000">3.99%</text>
<text x="779" y="1089.5" font-family="Liberation Serif, Times New Roman, serif" font-weight="bold" font-size="56" letter-spacing="1" fill="#0000ff">2.29%</text>
<text x="779" y="1153" font-family="Liberation Serif, Times New Roman, serif" font-weight="bold" font-size="56" letter-spacing="1" fill="#ff0000">2.18%</text>
<text x="779" y="1221.4" font-family="Liberation Serif, Times New Roman, serif" font-weight="bold" font-size="56" letter-spacing="1" fill="#008000">2.12%</text>
<line x1="1523.6" y1="1234.8" x2="1363.7" y2="1124.0" stroke="#000" stroke-width="4" /><polygon points="1348.1,1113.2 1370.2,1118.2 1360.5,1132.1" fill="#000"/>
<line x1="113" y1="85.2" x2="253" y2="85.2" stroke="#000" stroke-width="6.5" stroke-linecap="round"/>
<line x1="113" y1="165.6" x2="253" y2="165.6" stroke="#ff0000" stroke-width="6.5" stroke-linecap="round"/>
<line x1="113" y1="243.9" x2="253" y2="243.9" stroke="#0000ff" stroke-width="6.5" stroke-linecap="round"/>
<line x1="113" y1="324.0" x2="253" y2="324.0" stroke="#008000" stroke-width="6.5" stroke-linecap="round"/>
<text x="284.5" y="107.4" font-family="Liberation Serif, Times New Roman, serif" font-weight="bold" font-size="64">Normal</text>
<text x="285" y="183.5" font-family="Liberation Serif, Times New Roman, serif" font-weight="bold" font-size="64">Slope <tspan x="465" font-style="italic" font-weight="normal">l</tspan>=40mm</text>
<text x="285" y="261.7" font-family="Liberation Serif, Times New Roman, serif" font-weight="bold" font-size="64">Slope <tspan x="465" font-style="italic" font-weight="normal">l</tspan>=48mm</text>
<text x="285" y="337.2" font-family="Liberation Serif, Times New Roman, serif" font-weight="bold" font-size="64">Slope <tspan x="465" font-style="italic" font-weight="normal">l</tspan>=56mm</text>
</svg></body></html>
